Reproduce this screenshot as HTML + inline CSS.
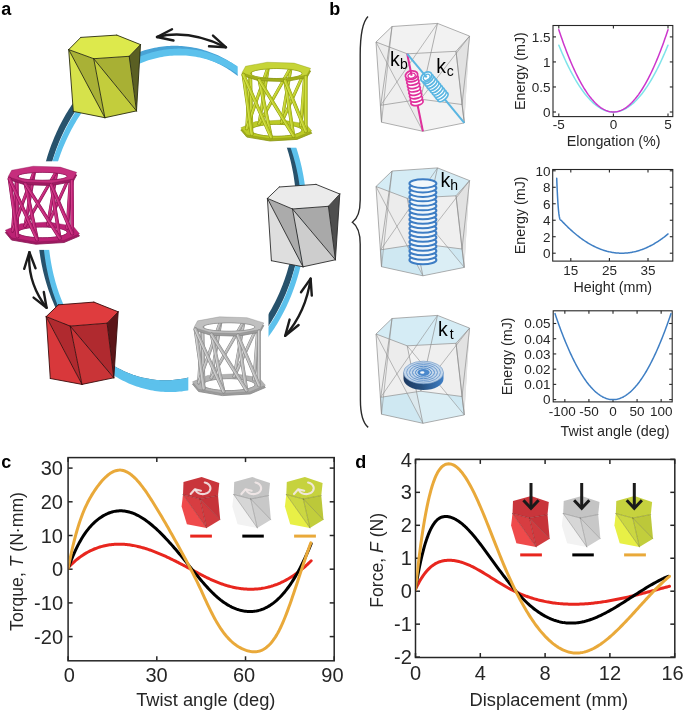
<!DOCTYPE html><html><head><meta charset="utf-8"><title>figure</title><style>html,body{margin:0;padding:0;background:#fff;overflow:hidden}svg{display:block}text{font-family:"Liberation Sans",Arial,sans-serif}</style></head><body>
<svg width="685" height="712" viewBox="0 0 685 712">
<rect width="685" height="712" fill="#fff"/>
<text x="1.3" y="14.7" font-size="18" text-anchor="start" font-weight="bold" fill="#000" >a</text>
<text x="329.3" y="14.7" font-size="18" text-anchor="start" font-weight="bold" fill="#000" >b</text>
<text x="1.2" y="467.7" font-size="18" text-anchor="start" font-weight="bold" fill="#000" >c</text>
<text x="355.2" y="467.5" font-size="18" text-anchor="start" font-weight="bold" fill="#000" >d</text>
<defs><mask id="ringmask" maskUnits="userSpaceOnUse" x="0" y="0" width="685" height="712"><rect width="685" height="712" fill="#fff"/><rect x="237.7" y="0" width="200" height="147.7" fill="#000"/><rect x="0" y="161.3" width="100" height="88.6" fill="#000"/><rect x="188.3" y="300" width="80.2" height="150" fill="#000"/></mask><clipPath id="walltop"><rect x="95" y="0" width="170" height="95"/></clipPath><clipPath id="wallnotop"><path clip-rule="evenodd" d="M0,0 H685 V712 H0 Z M95,0 H265 V95 H95 Z"/></clipPath><clipPath id="wallbot"><rect x="60" y="345" width="250" height="100"/></clipPath></defs>
<g mask="url(#ringmask)">
<path d="M301.83,224.72 L301.63,227.42 L301.4,230.12 L301.14,232.81 L300.84,235.5 L300.51,238.18 L300.15,240.86 L299.75,243.53 L299.33,246.2 L298.87,248.85 L298.38,251.5 L297.86,254.14 L297.3,256.77 L296.72,259.39 L296.1,262 L295.45,264.6 L294.78,267.19 L294.07,269.76 L293.33,272.32 L292.56,274.87 L291.76,277.4 L290.93,279.92 L290.07,282.42 L289.18,284.9 L288.26,287.37 L287.31,289.82 L286.33,292.25 L285.33,294.66 L284.29,297.06 L283.23,299.43 L282.14,301.78 L281.02,304.11 L279.87,306.42 L278.7,308.71 L277.5,310.97 L276.27,313.21 L275.02,315.43 L273.74,317.62 L272.44,319.79 L271.11,321.93 L269.76,324.05 L268.38,326.13 L266.97,328.19 L265.55,330.23 L264.1,332.23 L262.62,334.21 L261.13,336.15 L259.61,338.07 L258.06,339.96 L256.5,341.82 L254.92,343.64 L253.31,345.43 L251.68,347.2 L250.04,348.92 L248.37,350.62 L246.69,352.28 L244.98,353.91 L243.26,355.51 L241.52,357.07 L239.76,358.6 L237.98,360.09 L236.19,361.54 L234.38,362.96 L232.56,364.34 L230.72,365.69 L228.86,367 L226.99,368.27 L225.11,369.5 L223.21,370.7 L221.3,371.86 L219.38,372.98 L217.44,374.06 L215.49,375.1 L213.54,376.1 L211.57,377.06 L209.59,377.99 L207.6,378.87 L205.6,379.71 L203.59,380.51 L201.58,381.28 L199.55,382 L197.52,382.68 L195.48,383.31 L193.44,383.91 L191.39,384.47 L189.33,384.98 L187.27,385.45 L185.21,385.88 L183.14,386.27 L181.07,386.62 L179,386.92 L176.92,387.18 L174.84,387.4 L172.77,387.58 L170.69,387.71 L168.61,387.81 L166.53,387.86 L164.45,387.86 L162.37,387.83 L160.29,387.75 L158.22,387.63 L156.15,387.47 L154.08,387.26 L152.02,387.02 L149.96,386.73 L147.91,386.4 L145.86,386.02 L143.82,385.61 L141.78,385.15 L139.75,384.65 L137.73,384.11 L135.72,383.53 L133.71,382.9 L131.72,382.24 L129.73,381.53 L127.75,380.78 L125.79,379.99 L123.83,379.17 L121.89,378.3 L119.96,377.39 L118.04,376.44 L116.13,375.45 L114.24,374.42 L112.36,373.36 L110.49,372.25 L108.64,371.1 L106.8,369.92 L104.98,368.7 L103.18,367.44 L101.39,366.15 L99.62,364.81 L97.87,363.44 L96.13,362.04 L94.41,360.59 L92.71,359.12 L91.03,357.6 L89.37,356.05 L87.73,354.47 L86.11,352.85 L84.51,351.2 L82.93,349.52 L81.38,347.8 L79.84,346.05 L78.33,344.26 L76.84,342.45 L75.37,340.6 L73.93,338.73 L72.51,336.82 L71.11,334.89 L69.74,332.92 L68.39,330.92 L67.07,328.9 L65.77,326.85 L64.5,324.77 L63.26,322.67 L62.04,320.53 L60.84,318.38 L59.68,316.19 L58.54,313.98 L57.43,311.75 L56.35,309.5 L55.29,307.22 L54.27,304.92 L53.27,302.59 L52.3,300.25 L51.36,297.88 L50.45,295.5 L49.57,293.09 L48.71,290.66 L47.89,288.22 L47.1,285.76 L46.34,283.28 L45.61,280.79 L44.91,278.27 L44.24,275.75 L43.6,273.21 L42.99,270.65 L42.42,268.08 L41.87,265.5 L41.36,262.9 L40.88,260.3 L40.43,257.68 L40.01,255.05 L39.63,252.42 L39.28,249.77 L38.95,247.12 L38.67,244.45 L38.41,241.78 L38.19,239.11 L38,236.43 L37.84,233.74 L37.71,231.05 L37.62,228.35 L37.56,225.66 L37.53,222.96 L37.53,220.25 L37.57,217.55 L37.64,214.85 L37.74,212.14 L37.88,209.44 L38.05,206.74 L38.25,204.04 L38.48,201.34 L38.74,198.65 L39.04,195.96 L39.37,193.28 L39.73,190.6 L40.13,187.93 L40.55,185.26 L41.01,182.61 L41.5,179.96 L42.02,177.32 L42.58,174.69 L43.16,172.07 L43.78,169.46 L44.43,166.86 L45.1,164.27 L45.81,161.7 L46.55,159.14 L47.32,156.59 L48.12,154.06 L48.95,151.54 L49.81,149.04 L50.7,146.56 L51.62,144.09 L52.57,141.64 L53.55,139.21 L54.55,136.8 L55.59,134.4 L56.65,132.03 L57.74,129.68 L58.86,127.35 L60.01,125.04 L61.18,122.75 L62.38,120.49 L63.61,118.25 L64.86,116.03 L66.14,113.84 L67.44,111.67 L68.77,109.53 L70.12,107.41 L71.5,105.33 L72.91,103.27 L74.33,101.23 L75.78,99.23 L77.26,97.25 L78.75,95.31 L80.27,93.39 L81.82,91.5 L83.38,89.64 L84.96,87.82 L86.57,86.03 L88.2,84.26 L89.84,82.54 L91.51,80.84 L93.19,79.18 L94.9,77.55 L96.62,75.95 L98.36,74.39 L100.12,72.86 L101.9,71.37 L103.69,69.92 L105.5,68.5 L107.32,67.12 L109.16,65.77 L111.02,64.46 L112.89,63.19 L114.77,61.96 L116.67,60.76 L118.58,59.6 L120.5,58.48 L122.44,57.4 L124.39,56.36 L126.34,55.36 L128.31,54.4 L130.29,53.47 L132.28,52.59 L134.28,51.75 L136.29,50.95 L138.3,50.18 L140.33,49.46 L142.36,48.78 L144.4,48.15 L146.44,47.55 L148.49,46.99 L150.55,46.48 L152.61,46.01 L154.67,45.58 L156.74,45.19 L158.81,44.84 L160.88,44.54 L162.96,44.28 L165.04,44.06 L167.11,43.88 L169.19,43.75 L171.27,43.65 L173.35,43.6 L175.43,43.6 L177.51,43.63 L179.59,43.71 L181.66,43.83 L183.73,43.99 L185.8,44.2 L187.86,44.44 L189.92,44.73 L191.97,45.06 L194.02,45.44 L196.06,45.85 L198.1,46.31 L200.13,46.81 L202.15,47.35 L204.16,47.93 L206.17,48.56 L208.16,49.22 L210.15,49.93 L212.13,50.68 L214.09,51.47 L216.05,52.29 L217.99,53.16 L219.92,54.07 L221.84,55.02 L223.75,56.01 L225.64,57.04 L227.52,58.1 L229.39,59.21 L231.24,60.36 L233.08,61.54 L234.9,62.76 L236.7,64.02 L238.49,65.31 L240.26,66.65 L242.01,68.02 L243.75,69.42 L245.47,70.87 L247.17,72.34 L248.85,73.86 L250.51,75.41 L252.15,76.99 L253.77,78.61 L255.37,80.26 L256.95,81.94 L258.5,83.66 L260.04,85.41 L261.55,87.2 L263.04,89.01 L264.51,90.86 L265.95,92.73 L267.37,94.64 L268.77,96.57 L270.14,98.54 L271.49,100.54 L272.81,102.56 L274.11,104.61 L275.38,106.69 L276.62,108.79 L277.84,110.93 L279.04,113.08 L280.2,115.27 L281.34,117.48 L282.45,119.71 L283.53,121.96 L284.59,124.24 L285.61,126.54 L286.61,128.87 L287.58,131.21 L288.52,133.58 L289.43,135.96 L290.31,138.37 L291.17,140.8 L291.99,143.24 L292.78,145.7 L293.54,148.18 L294.27,150.67 L294.97,153.19 L295.64,155.71 L296.28,158.25 L296.89,160.81 L297.46,163.38 L298.01,165.96 L298.52,168.56 L299,171.16 L299.45,173.78 L299.87,176.41 L300.25,179.04 L300.6,181.69 L300.93,184.34 L301.21,187.01 L301.47,189.68 L301.69,192.35 L301.88,195.03 L302.04,197.72 L302.17,200.41 L302.26,203.11 L302.32,205.8 L302.35,208.5 L302.35,211.21 L302.31,213.91 L302.24,216.61 L302.14,219.32 L302,222.02 Z M296.01,221.73 L296.14,219.15 L296.24,216.56 L296.3,213.98 L296.34,211.39 L296.34,208.81 L296.32,206.23 L296.26,203.65 L296.17,201.08 L296.05,198.5 L295.9,195.93 L295.72,193.37 L295.5,190.81 L295.26,188.26 L294.98,185.72 L294.68,183.18 L294.34,180.65 L293.97,178.13 L293.58,175.62 L293.15,173.12 L292.69,170.63 L292.2,168.15 L291.68,165.68 L291.13,163.22 L290.55,160.78 L289.94,158.35 L289.3,155.93 L288.63,153.53 L287.94,151.15 L287.21,148.78 L286.45,146.43 L285.67,144.09 L284.86,141.77 L284.02,139.47 L283.15,137.19 L282.25,134.93 L281.32,132.69 L280.37,130.47 L279.39,128.27 L278.39,126.09 L277.35,123.93 L276.29,121.8 L275.21,119.69 L274.09,117.6 L272.96,115.54 L271.79,113.5 L270.6,111.49 L269.39,109.5 L268.15,107.54 L266.89,105.61 L265.61,103.7 L264.3,101.82 L262.96,99.97 L261.61,98.15 L260.23,96.36 L258.83,94.59 L257.41,92.86 L255.96,91.15 L254.5,89.48 L253.01,87.84 L251.5,86.23 L249.98,84.65 L248.43,83.1 L246.86,81.59 L245.28,80.11 L243.67,78.66 L242.05,77.25 L240.41,75.87 L238.76,74.53 L237.08,73.22 L235.39,71.94 L233.68,70.7 L231.96,69.5 L230.22,68.33 L228.47,67.2 L226.71,66.11 L224.92,65.05 L223.13,64.03 L221.32,63.05 L219.5,62.11 L217.67,61.2 L215.82,60.33 L213.97,59.5 L212.1,58.71 L210.23,57.96 L208.34,57.24 L206.44,56.57 L204.54,55.93 L202.62,55.33 L200.7,54.78 L198.77,54.26 L196.83,53.78 L194.89,53.35 L192.94,52.95 L190.99,52.59 L189.03,52.27 L187.06,52 L185.09,51.76 L183.12,51.57 L181.14,51.41 L179.16,51.3 L177.18,51.22 L175.2,51.19 L173.21,51.2 L171.23,51.24 L169.24,51.33 L167.26,51.46 L165.27,51.63 L163.29,51.84 L161.31,52.09 L159.33,52.38 L157.35,52.71 L155.38,53.08 L153.41,53.5 L151.44,53.95 L149.48,54.44 L147.52,54.97 L145.57,55.54 L143.62,56.15 L141.69,56.8 L139.75,57.49 L137.83,58.22 L135.91,58.99 L134.01,59.79 L132.11,60.63 L130.22,61.52 L128.34,62.44 L126.47,63.4 L124.61,64.39 L122.76,65.42 L120.92,66.49 L119.1,67.6 L117.29,68.74 L115.49,69.92 L113.7,71.14 L111.93,72.39 L110.18,73.68 L108.43,75 L106.71,76.36 L105,77.75 L103.3,79.17 L101.62,80.63 L99.96,82.12 L98.31,83.65 L96.69,85.21 L95.08,86.8 L93.49,88.42 L91.92,90.07 L90.36,91.76 L88.83,93.47 L87.32,95.21 L85.83,96.99 L84.35,98.79 L82.9,100.63 L81.47,102.49 L80.07,104.38 L78.68,106.29 L77.32,108.24 L75.98,110.21 L74.66,112.2 L73.37,114.22 L72.1,116.27 L70.86,118.34 L69.63,120.44 L68.44,122.56 L67.27,124.7 L66.12,126.86 L65,129.05 L63.91,131.25 L62.84,133.48 L61.8,135.73 L60.78,138 L59.8,140.29 L58.84,142.59 L57.9,144.92 L57,147.26 L56.12,149.62 L55.27,151.99 L54.45,154.38 L53.66,156.79 L52.89,159.21 L52.16,161.64 L51.45,164.09 L50.77,166.55 L50.13,169.02 L49.51,171.51 L48.92,174 L48.36,176.51 L47.83,179.02 L47.33,181.55 L46.87,184.08 L46.43,186.62 L46.02,189.17 L45.65,191.72 L45.3,194.28 L44.98,196.85 L44.7,199.42 L44.45,201.99 L44.22,204.57 L44.03,207.15 L43.87,209.73 L43.74,212.31 L43.64,214.9 L43.58,217.48 L43.54,220.07 L43.54,222.65 L43.56,225.23 L43.62,227.81 L43.71,230.38 L43.83,232.96 L43.98,235.53 L44.16,238.09 L44.38,240.65 L44.62,243.2 L44.9,245.74 L45.2,248.28 L45.54,250.81 L45.91,253.33 L46.3,255.84 L46.73,258.34 L47.19,260.83 L47.68,263.31 L48.2,265.78 L48.75,268.24 L49.33,270.68 L49.94,273.11 L50.58,275.53 L51.25,277.93 L51.94,280.31 L52.67,282.68 L53.43,285.03 L54.21,287.37 L55.02,289.69 L55.86,291.99 L56.73,294.27 L57.63,296.53 L58.56,298.77 L59.51,300.99 L60.49,303.19 L61.49,305.37 L62.53,307.53 L63.59,309.66 L64.67,311.77 L65.79,313.86 L66.92,315.92 L68.09,317.96 L69.28,319.97 L70.49,321.96 L71.73,323.92 L72.99,325.85 L74.27,327.76 L75.58,329.64 L76.92,331.49 L78.27,333.31 L79.65,335.1 L81.05,336.87 L82.47,338.6 L83.92,340.31 L85.38,341.98 L86.87,343.62 L88.38,345.23 L89.9,346.81 L91.45,348.36 L93.02,349.87 L94.6,351.35 L96.21,352.8 L97.83,354.21 L99.47,355.59 L101.12,356.93 L102.8,358.24 L104.49,359.52 L106.2,360.76 L107.92,361.96 L109.66,363.13 L111.41,364.26 L113.17,365.35 L114.96,366.41 L116.75,367.43 L118.56,368.41 L120.38,369.35 L122.21,370.26 L124.06,371.13 L125.91,371.96 L127.78,372.75 L129.65,373.5 L131.54,374.22 L133.44,374.89 L135.34,375.53 L137.26,376.13 L139.18,376.68 L141.11,377.2 L143.05,377.68 L144.99,378.11 L146.94,378.51 L148.89,378.87 L150.85,379.19 L152.82,379.46 L154.79,379.7 L156.76,379.89 L158.74,380.05 L160.72,380.16 L162.7,380.24 L164.68,380.27 L166.67,380.26 L168.65,380.22 L170.64,380.13 L172.62,380 L174.61,379.83 L176.59,379.62 L178.57,379.37 L180.55,379.08 L182.53,378.75 L184.5,378.38 L186.47,377.96 L188.44,377.51 L190.4,377.02 L192.36,376.49 L194.31,375.92 L196.26,375.31 L198.19,374.66 L200.13,373.97 L202.05,373.24 L203.97,372.47 L205.87,371.67 L207.77,370.83 L209.66,369.94 L211.54,369.02 L213.41,368.06 L215.27,367.07 L217.12,366.04 L218.96,364.97 L220.78,363.86 L222.59,362.72 L224.39,361.54 L226.18,360.32 L227.95,359.07 L229.7,357.78 L231.45,356.46 L233.17,355.1 L234.88,353.71 L236.58,352.29 L238.26,350.83 L239.92,349.34 L241.57,347.81 L243.19,346.25 L244.8,344.66 L246.39,343.04 L247.96,341.39 L249.52,339.7 L251.05,337.99 L252.56,336.25 L254.05,334.47 L255.53,332.67 L256.98,330.83 L258.41,328.97 L259.81,327.08 L261.2,325.17 L262.56,323.22 L263.9,321.25 L265.22,319.26 L266.51,317.24 L267.78,315.19 L269.02,313.12 L270.25,311.02 L271.44,308.9 L272.61,306.76 L273.76,304.6 L274.88,302.41 L275.97,300.21 L277.04,297.98 L278.08,295.73 L279.1,293.46 L280.08,291.17 L281.04,288.87 L281.98,286.54 L282.88,284.2 L283.76,281.84 L284.61,279.47 L285.43,277.08 L286.22,274.67 L286.99,272.25 L287.72,269.82 L288.43,267.37 L289.11,264.91 L289.75,262.44 L290.37,259.95 L290.96,257.46 L291.52,254.95 L292.05,252.44 L292.55,249.91 L293.01,247.38 L293.45,244.84 L293.86,242.29 L294.23,239.74 L294.58,237.18 L294.9,234.61 L295.18,232.04 L295.43,229.47 L295.66,226.89 L295.85,224.31 Z" fill="#27526c" fill-rule="evenodd" clip-path="url(#wallnotop)"/>
<path d="M301.83,226.92 L301.63,229.62 L301.4,232.32 L301.14,235.01 L300.84,237.7 L300.51,240.38 L300.15,243.06 L299.75,245.73 L299.33,248.4 L298.87,251.05 L298.38,253.7 L297.86,256.34 L297.3,258.97 L296.72,261.59 L296.1,264.2 L295.45,266.8 L294.78,269.39 L294.07,271.96 L293.33,274.52 L292.56,277.07 L291.76,279.6 L290.93,282.12 L290.07,284.62 L289.18,287.1 L288.26,289.57 L287.31,292.02 L286.33,294.45 L285.33,296.86 L284.29,299.26 L283.23,301.63 L282.14,303.98 L281.02,306.31 L279.87,308.62 L278.7,310.91 L277.5,313.17 L276.27,315.41 L275.02,317.63 L273.74,319.82 L272.44,321.99 L271.11,324.13 L269.76,326.25 L268.38,328.33 L266.97,330.39 L265.55,332.43 L264.1,334.43 L262.62,336.41 L261.13,338.35 L259.61,340.27 L258.06,342.16 L256.5,344.02 L254.92,345.84 L253.31,347.63 L251.68,349.4 L250.04,351.12 L248.37,352.82 L246.69,354.48 L244.98,356.11 L243.26,357.71 L241.52,359.27 L239.76,360.8 L237.98,362.29 L236.19,363.74 L234.38,365.16 L232.56,366.54 L230.72,367.89 L228.86,369.2 L226.99,370.47 L225.11,371.7 L223.21,372.9 L221.3,374.06 L219.38,375.18 L217.44,376.26 L215.49,377.3 L213.54,378.3 L211.57,379.26 L209.59,380.19 L207.6,381.07 L205.6,381.91 L203.59,382.71 L201.58,383.48 L199.55,384.2 L197.52,384.88 L195.48,385.51 L193.44,386.11 L191.39,386.67 L189.33,387.18 L187.27,387.65 L185.21,388.08 L183.14,388.47 L181.07,388.82 L179,389.12 L176.92,389.38 L174.84,389.6 L172.77,389.78 L170.69,389.91 L168.61,390.01 L166.53,390.06 L164.45,390.06 L162.37,390.03 L160.29,389.95 L158.22,389.83 L156.15,389.67 L154.08,389.46 L152.02,389.22 L149.96,388.93 L147.91,388.6 L145.86,388.22 L143.82,387.81 L141.78,387.35 L139.75,386.85 L137.73,386.31 L135.72,385.73 L133.71,385.1 L131.72,384.44 L129.73,383.73 L127.75,382.98 L125.79,382.19 L123.83,381.37 L121.89,380.5 L119.96,379.59 L118.04,378.64 L116.13,377.65 L114.24,376.62 L112.36,375.56 L110.49,374.45 L108.64,373.3 L106.8,372.12 L104.98,370.9 L103.18,369.64 L101.39,368.35 L99.62,367.01 L97.87,365.64 L96.13,364.24 L94.41,362.79 L92.71,361.32 L91.03,359.8 L89.37,358.25 L87.73,356.67 L86.11,355.05 L84.51,353.4 L82.93,351.72 L81.38,350 L79.84,348.25 L78.33,346.46 L76.84,344.65 L75.37,342.8 L73.93,340.93 L72.51,339.02 L71.11,337.09 L69.74,335.12 L68.39,333.12 L67.07,331.1 L65.77,329.05 L64.5,326.97 L63.26,324.87 L62.04,322.73 L60.84,320.58 L59.68,318.39 L58.54,316.18 L57.43,313.95 L56.35,311.7 L55.29,309.42 L54.27,307.12 L53.27,304.79 L52.3,302.45 L51.36,300.08 L50.45,297.7 L49.57,295.29 L48.71,292.86 L47.89,290.42 L47.1,287.96 L46.34,285.48 L45.61,282.99 L44.91,280.47 L44.24,277.95 L43.6,275.41 L42.99,272.85 L42.42,270.28 L41.87,267.7 L41.36,265.1 L40.88,262.5 L40.43,259.88 L40.01,257.25 L39.63,254.62 L39.28,251.97 L38.95,249.32 L38.67,246.65 L38.41,243.98 L38.19,241.31 L38,238.63 L37.84,235.94 L37.71,233.25 L37.62,230.55 L37.56,227.86 L37.53,225.16 L37.53,222.45 L37.57,219.75 L37.64,217.05 L37.74,214.34 L37.88,211.64 L38.05,208.94 L38.25,206.24 L38.48,203.54 L38.74,200.85 L39.04,198.16 L39.37,195.48 L39.73,192.8 L40.13,190.13 L40.55,187.46 L41.01,184.81 L41.5,182.16 L42.02,179.52 L42.58,176.89 L43.16,174.27 L43.78,171.66 L44.43,169.06 L45.1,166.47 L45.81,163.9 L46.55,161.34 L47.32,158.79 L48.12,156.26 L48.95,153.74 L49.81,151.24 L50.7,148.76 L51.62,146.29 L52.57,143.84 L53.55,141.41 L54.55,139 L55.59,136.6 L56.65,134.23 L57.74,131.88 L58.86,129.55 L60.01,127.24 L61.18,124.95 L62.38,122.69 L63.61,120.45 L64.86,118.23 L66.14,116.04 L67.44,113.87 L68.77,111.73 L70.12,109.61 L71.5,107.53 L72.91,105.47 L74.33,103.43 L75.78,101.43 L77.26,99.45 L78.75,97.51 L80.27,95.59 L81.82,93.7 L83.38,91.84 L84.96,90.02 L86.57,88.23 L88.2,86.46 L89.84,84.74 L91.51,83.04 L93.19,81.38 L94.9,79.75 L96.62,78.15 L98.36,76.59 L100.12,75.06 L101.9,73.57 L103.69,72.12 L105.5,70.7 L107.32,69.32 L109.16,67.97 L111.02,66.66 L112.89,65.39 L114.77,64.16 L116.67,62.96 L118.58,61.8 L120.5,60.68 L122.44,59.6 L124.39,58.56 L126.34,57.56 L128.31,56.6 L130.29,55.67 L132.28,54.79 L134.28,53.95 L136.29,53.15 L138.3,52.38 L140.33,51.66 L142.36,50.98 L144.4,50.35 L146.44,49.75 L148.49,49.19 L150.55,48.68 L152.61,48.21 L154.67,47.78 L156.74,47.39 L158.81,47.04 L160.88,46.74 L162.96,46.48 L165.04,46.26 L167.11,46.08 L169.19,45.95 L171.27,45.85 L173.35,45.8 L175.43,45.8 L177.51,45.83 L179.59,45.91 L181.66,46.03 L183.73,46.19 L185.8,46.4 L187.86,46.64 L189.92,46.93 L191.97,47.26 L194.02,47.64 L196.06,48.05 L198.1,48.51 L200.13,49.01 L202.15,49.55 L204.16,50.13 L206.17,50.76 L208.16,51.42 L210.15,52.13 L212.13,52.88 L214.09,53.67 L216.05,54.49 L217.99,55.36 L219.92,56.27 L221.84,57.22 L223.75,58.21 L225.64,59.24 L227.52,60.3 L229.39,61.41 L231.24,62.56 L233.08,63.74 L234.9,64.96 L236.7,66.22 L238.49,67.51 L240.26,68.85 L242.01,70.22 L243.75,71.62 L245.47,73.07 L247.17,74.54 L248.85,76.06 L250.51,77.61 L252.15,79.19 L253.77,80.81 L255.37,82.46 L256.95,84.14 L258.5,85.86 L260.04,87.61 L261.55,89.4 L263.04,91.21 L264.51,93.06 L265.95,94.93 L267.37,96.84 L268.77,98.77 L270.14,100.74 L271.49,102.74 L272.81,104.76 L274.11,106.81 L275.38,108.89 L276.62,110.99 L277.84,113.13 L279.04,115.28 L280.2,117.47 L281.34,119.68 L282.45,121.91 L283.53,124.16 L284.59,126.44 L285.61,128.74 L286.61,131.07 L287.58,133.41 L288.52,135.78 L289.43,138.16 L290.31,140.57 L291.17,143 L291.99,145.44 L292.78,147.9 L293.54,150.38 L294.27,152.87 L294.97,155.39 L295.64,157.91 L296.28,160.45 L296.89,163.01 L297.46,165.58 L298.01,168.16 L298.52,170.76 L299,173.36 L299.45,175.98 L299.87,178.61 L300.25,181.24 L300.6,183.89 L300.93,186.54 L301.21,189.21 L301.47,191.88 L301.69,194.55 L301.88,197.23 L302.04,199.92 L302.17,202.61 L302.26,205.31 L302.32,208 L302.35,210.7 L302.35,213.41 L302.31,216.11 L302.24,218.81 L302.14,221.52 L302,224.22 Z M296.01,223.93 L296.14,221.35 L296.24,218.76 L296.3,216.18 L296.34,213.59 L296.34,211.01 L296.32,208.43 L296.26,205.85 L296.17,203.28 L296.05,200.7 L295.9,198.13 L295.72,195.57 L295.5,193.01 L295.26,190.46 L294.98,187.92 L294.68,185.38 L294.34,182.85 L293.97,180.33 L293.58,177.82 L293.15,175.32 L292.69,172.83 L292.2,170.35 L291.68,167.88 L291.13,165.42 L290.55,162.98 L289.94,160.55 L289.3,158.13 L288.63,155.73 L287.94,153.35 L287.21,150.98 L286.45,148.63 L285.67,146.29 L284.86,143.97 L284.02,141.67 L283.15,139.39 L282.25,137.13 L281.32,134.89 L280.37,132.67 L279.39,130.47 L278.39,128.29 L277.35,126.13 L276.29,124 L275.21,121.89 L274.09,119.8 L272.96,117.74 L271.79,115.7 L270.6,113.69 L269.39,111.7 L268.15,109.74 L266.89,107.81 L265.61,105.9 L264.3,104.02 L262.96,102.17 L261.61,100.35 L260.23,98.56 L258.83,96.79 L257.41,95.06 L255.96,93.35 L254.5,91.68 L253.01,90.04 L251.5,88.43 L249.98,86.85 L248.43,85.3 L246.86,83.79 L245.28,82.31 L243.67,80.86 L242.05,79.45 L240.41,78.07 L238.76,76.73 L237.08,75.42 L235.39,74.14 L233.68,72.9 L231.96,71.7 L230.22,70.53 L228.47,69.4 L226.71,68.31 L224.92,67.25 L223.13,66.23 L221.32,65.25 L219.5,64.31 L217.67,63.4 L215.82,62.53 L213.97,61.7 L212.1,60.91 L210.23,60.16 L208.34,59.44 L206.44,58.77 L204.54,58.13 L202.62,57.53 L200.7,56.98 L198.77,56.46 L196.83,55.98 L194.89,55.55 L192.94,55.15 L190.99,54.79 L189.03,54.47 L187.06,54.2 L185.09,53.96 L183.12,53.77 L181.14,53.61 L179.16,53.5 L177.18,53.42 L175.2,53.39 L173.21,53.4 L171.23,53.44 L169.24,53.53 L167.26,53.66 L165.27,53.83 L163.29,54.04 L161.31,54.29 L159.33,54.58 L157.35,54.91 L155.38,55.28 L153.41,55.7 L151.44,56.15 L149.48,56.64 L147.52,57.17 L145.57,57.74 L143.62,58.35 L141.69,59 L139.75,59.69 L137.83,60.42 L135.91,61.19 L134.01,61.99 L132.11,62.83 L130.22,63.72 L128.34,64.64 L126.47,65.6 L124.61,66.59 L122.76,67.62 L120.92,68.69 L119.1,69.8 L117.29,70.94 L115.49,72.12 L113.7,73.34 L111.93,74.59 L110.18,75.88 L108.43,77.2 L106.71,78.56 L105,79.95 L103.3,81.37 L101.62,82.83 L99.96,84.32 L98.31,85.85 L96.69,87.41 L95.08,89 L93.49,90.62 L91.92,92.27 L90.36,93.96 L88.83,95.67 L87.32,97.41 L85.83,99.19 L84.35,100.99 L82.9,102.83 L81.47,104.69 L80.07,106.58 L78.68,108.49 L77.32,110.44 L75.98,112.41 L74.66,114.4 L73.37,116.42 L72.1,118.47 L70.86,120.54 L69.63,122.64 L68.44,124.76 L67.27,126.9 L66.12,129.06 L65,131.25 L63.91,133.45 L62.84,135.68 L61.8,137.93 L60.78,140.2 L59.8,142.49 L58.84,144.79 L57.9,147.12 L57,149.46 L56.12,151.82 L55.27,154.19 L54.45,156.58 L53.66,158.99 L52.89,161.41 L52.16,163.84 L51.45,166.29 L50.77,168.75 L50.13,171.22 L49.51,173.71 L48.92,176.2 L48.36,178.71 L47.83,181.22 L47.33,183.75 L46.87,186.28 L46.43,188.82 L46.02,191.37 L45.65,193.92 L45.3,196.48 L44.98,199.05 L44.7,201.62 L44.45,204.19 L44.22,206.77 L44.03,209.35 L43.87,211.93 L43.74,214.51 L43.64,217.1 L43.58,219.68 L43.54,222.27 L43.54,224.85 L43.56,227.43 L43.62,230.01 L43.71,232.58 L43.83,235.16 L43.98,237.73 L44.16,240.29 L44.38,242.85 L44.62,245.4 L44.9,247.94 L45.2,250.48 L45.54,253.01 L45.91,255.53 L46.3,258.04 L46.73,260.54 L47.19,263.03 L47.68,265.51 L48.2,267.98 L48.75,270.44 L49.33,272.88 L49.94,275.31 L50.58,277.73 L51.25,280.13 L51.94,282.51 L52.67,284.88 L53.43,287.23 L54.21,289.57 L55.02,291.89 L55.86,294.19 L56.73,296.47 L57.63,298.73 L58.56,300.97 L59.51,303.19 L60.49,305.39 L61.49,307.57 L62.53,309.73 L63.59,311.86 L64.67,313.97 L65.79,316.06 L66.92,318.12 L68.09,320.16 L69.28,322.17 L70.49,324.16 L71.73,326.12 L72.99,328.05 L74.27,329.96 L75.58,331.84 L76.92,333.69 L78.27,335.51 L79.65,337.3 L81.05,339.07 L82.47,340.8 L83.92,342.51 L85.38,344.18 L86.87,345.82 L88.38,347.43 L89.9,349.01 L91.45,350.56 L93.02,352.07 L94.6,353.55 L96.21,355 L97.83,356.41 L99.47,357.79 L101.12,359.13 L102.8,360.44 L104.49,361.72 L106.2,362.96 L107.92,364.16 L109.66,365.33 L111.41,366.46 L113.17,367.55 L114.96,368.61 L116.75,369.63 L118.56,370.61 L120.38,371.55 L122.21,372.46 L124.06,373.33 L125.91,374.16 L127.78,374.95 L129.65,375.7 L131.54,376.42 L133.44,377.09 L135.34,377.73 L137.26,378.33 L139.18,378.88 L141.11,379.4 L143.05,379.88 L144.99,380.31 L146.94,380.71 L148.89,381.07 L150.85,381.39 L152.82,381.66 L154.79,381.9 L156.76,382.09 L158.74,382.25 L160.72,382.36 L162.7,382.44 L164.68,382.47 L166.67,382.46 L168.65,382.42 L170.64,382.33 L172.62,382.2 L174.61,382.03 L176.59,381.82 L178.57,381.57 L180.55,381.28 L182.53,380.95 L184.5,380.58 L186.47,380.16 L188.44,379.71 L190.4,379.22 L192.36,378.69 L194.31,378.12 L196.26,377.51 L198.19,376.86 L200.13,376.17 L202.05,375.44 L203.97,374.67 L205.87,373.87 L207.77,373.03 L209.66,372.14 L211.54,371.22 L213.41,370.26 L215.27,369.27 L217.12,368.24 L218.96,367.17 L220.78,366.06 L222.59,364.92 L224.39,363.74 L226.18,362.52 L227.95,361.27 L229.7,359.98 L231.45,358.66 L233.17,357.3 L234.88,355.91 L236.58,354.49 L238.26,353.03 L239.92,351.54 L241.57,350.01 L243.19,348.45 L244.8,346.86 L246.39,345.24 L247.96,343.59 L249.52,341.9 L251.05,340.19 L252.56,338.45 L254.05,336.67 L255.53,334.87 L256.98,333.03 L258.41,331.17 L259.81,329.28 L261.2,327.37 L262.56,325.42 L263.9,323.45 L265.22,321.46 L266.51,319.44 L267.78,317.39 L269.02,315.32 L270.25,313.22 L271.44,311.1 L272.61,308.96 L273.76,306.8 L274.88,304.61 L275.97,302.41 L277.04,300.18 L278.08,297.93 L279.1,295.66 L280.08,293.37 L281.04,291.07 L281.98,288.74 L282.88,286.4 L283.76,284.04 L284.61,281.67 L285.43,279.28 L286.22,276.87 L286.99,274.45 L287.72,272.02 L288.43,269.57 L289.11,267.11 L289.75,264.64 L290.37,262.15 L290.96,259.66 L291.52,257.15 L292.05,254.64 L292.55,252.11 L293.01,249.58 L293.45,247.04 L293.86,244.49 L294.23,241.94 L294.58,239.38 L294.9,236.81 L295.18,234.24 L295.43,231.67 L295.66,229.09 L295.85,226.51 Z" fill="#48a3d6" fill-rule="evenodd" clip-path="url(#walltop)"/>
<path d="M301.83,224.72 L301.63,227.42 L301.4,230.12 L301.14,232.81 L300.84,235.5 L300.51,238.18 L300.15,240.86 L299.75,243.53 L299.33,246.2 L298.87,248.85 L298.38,251.5 L297.86,254.14 L297.3,256.77 L296.72,259.39 L296.1,262 L295.45,264.6 L294.78,267.19 L294.07,269.76 L293.33,272.32 L292.56,274.87 L291.76,277.4 L290.93,279.92 L290.07,282.42 L289.18,284.9 L288.26,287.37 L287.31,289.82 L286.33,292.25 L285.33,294.66 L284.29,297.06 L283.23,299.43 L282.14,301.78 L281.02,304.11 L279.87,306.42 L278.7,308.71 L277.5,310.97 L276.27,313.21 L275.02,315.43 L273.74,317.62 L272.44,319.79 L271.11,321.93 L269.76,324.05 L268.38,326.13 L266.97,328.19 L265.55,330.23 L264.1,332.23 L262.62,334.21 L261.13,336.15 L259.61,338.07 L258.06,339.96 L256.5,341.82 L254.92,343.64 L253.31,345.43 L251.68,347.2 L250.04,348.92 L248.37,350.62 L246.69,352.28 L244.98,353.91 L243.26,355.51 L241.52,357.07 L239.76,358.6 L237.98,360.09 L236.19,361.54 L234.38,362.96 L232.56,364.34 L230.72,365.69 L228.86,367 L226.99,368.27 L225.11,369.5 L223.21,370.7 L221.3,371.86 L219.38,372.98 L217.44,374.06 L215.49,375.1 L213.54,376.1 L211.57,377.06 L209.59,377.99 L207.6,378.87 L205.6,379.71 L203.59,380.51 L201.58,381.28 L199.55,382 L197.52,382.68 L195.48,383.31 L193.44,383.91 L191.39,384.47 L189.33,384.98 L187.27,385.45 L185.21,385.88 L183.14,386.27 L181.07,386.62 L179,386.92 L176.92,387.18 L174.84,387.4 L172.77,387.58 L170.69,387.71 L168.61,387.81 L166.53,387.86 L164.45,387.86 L162.37,387.83 L160.29,387.75 L158.22,387.63 L156.15,387.47 L154.08,387.26 L152.02,387.02 L149.96,386.73 L147.91,386.4 L145.86,386.02 L143.82,385.61 L141.78,385.15 L139.75,384.65 L137.73,384.11 L135.72,383.53 L133.71,382.9 L131.72,382.24 L129.73,381.53 L127.75,380.78 L125.79,379.99 L123.83,379.17 L121.89,378.3 L119.96,377.39 L118.04,376.44 L116.13,375.45 L114.24,374.42 L112.36,373.36 L110.49,372.25 L108.64,371.1 L106.8,369.92 L104.98,368.7 L103.18,367.44 L101.39,366.15 L99.62,364.81 L97.87,363.44 L96.13,362.04 L94.41,360.59 L92.71,359.12 L91.03,357.6 L89.37,356.05 L87.73,354.47 L86.11,352.85 L84.51,351.2 L82.93,349.52 L81.38,347.8 L79.84,346.05 L78.33,344.26 L76.84,342.45 L75.37,340.6 L73.93,338.73 L72.51,336.82 L71.11,334.89 L69.74,332.92 L68.39,330.92 L67.07,328.9 L65.77,326.85 L64.5,324.77 L63.26,322.67 L62.04,320.53 L60.84,318.38 L59.68,316.19 L58.54,313.98 L57.43,311.75 L56.35,309.5 L55.29,307.22 L54.27,304.92 L53.27,302.59 L52.3,300.25 L51.36,297.88 L50.45,295.5 L49.57,293.09 L48.71,290.66 L47.89,288.22 L47.1,285.76 L46.34,283.28 L45.61,280.79 L44.91,278.27 L44.24,275.75 L43.6,273.21 L42.99,270.65 L42.42,268.08 L41.87,265.5 L41.36,262.9 L40.88,260.3 L40.43,257.68 L40.01,255.05 L39.63,252.42 L39.28,249.77 L38.95,247.12 L38.67,244.45 L38.41,241.78 L38.19,239.11 L38,236.43 L37.84,233.74 L37.71,231.05 L37.62,228.35 L37.56,225.66 L37.53,222.96 L37.53,220.25 L37.57,217.55 L37.64,214.85 L37.74,212.14 L37.88,209.44 L38.05,206.74 L38.25,204.04 L38.48,201.34 L38.74,198.65 L39.04,195.96 L39.37,193.28 L39.73,190.6 L40.13,187.93 L40.55,185.26 L41.01,182.61 L41.5,179.96 L42.02,177.32 L42.58,174.69 L43.16,172.07 L43.78,169.46 L44.43,166.86 L45.1,164.27 L45.81,161.7 L46.55,159.14 L47.32,156.59 L48.12,154.06 L48.95,151.54 L49.81,149.04 L50.7,146.56 L51.62,144.09 L52.57,141.64 L53.55,139.21 L54.55,136.8 L55.59,134.4 L56.65,132.03 L57.74,129.68 L58.86,127.35 L60.01,125.04 L61.18,122.75 L62.38,120.49 L63.61,118.25 L64.86,116.03 L66.14,113.84 L67.44,111.67 L68.77,109.53 L70.12,107.41 L71.5,105.33 L72.91,103.27 L74.33,101.23 L75.78,99.23 L77.26,97.25 L78.75,95.31 L80.27,93.39 L81.82,91.5 L83.38,89.64 L84.96,87.82 L86.57,86.03 L88.2,84.26 L89.84,82.54 L91.51,80.84 L93.19,79.18 L94.9,77.55 L96.62,75.95 L98.36,74.39 L100.12,72.86 L101.9,71.37 L103.69,69.92 L105.5,68.5 L107.32,67.12 L109.16,65.77 L111.02,64.46 L112.89,63.19 L114.77,61.96 L116.67,60.76 L118.58,59.6 L120.5,58.48 L122.44,57.4 L124.39,56.36 L126.34,55.36 L128.31,54.4 L130.29,53.47 L132.28,52.59 L134.28,51.75 L136.29,50.95 L138.3,50.18 L140.33,49.46 L142.36,48.78 L144.4,48.15 L146.44,47.55 L148.49,46.99 L150.55,46.48 L152.61,46.01 L154.67,45.58 L156.74,45.19 L158.81,44.84 L160.88,44.54 L162.96,44.28 L165.04,44.06 L167.11,43.88 L169.19,43.75 L171.27,43.65 L173.35,43.6 L175.43,43.6 L177.51,43.63 L179.59,43.71 L181.66,43.83 L183.73,43.99 L185.8,44.2 L187.86,44.44 L189.92,44.73 L191.97,45.06 L194.02,45.44 L196.06,45.85 L198.1,46.31 L200.13,46.81 L202.15,47.35 L204.16,47.93 L206.17,48.56 L208.16,49.22 L210.15,49.93 L212.13,50.68 L214.09,51.47 L216.05,52.29 L217.99,53.16 L219.92,54.07 L221.84,55.02 L223.75,56.01 L225.64,57.04 L227.52,58.1 L229.39,59.21 L231.24,60.36 L233.08,61.54 L234.9,62.76 L236.7,64.02 L238.49,65.31 L240.26,66.65 L242.01,68.02 L243.75,69.42 L245.47,70.87 L247.17,72.34 L248.85,73.86 L250.51,75.41 L252.15,76.99 L253.77,78.61 L255.37,80.26 L256.95,81.94 L258.5,83.66 L260.04,85.41 L261.55,87.2 L263.04,89.01 L264.51,90.86 L265.95,92.73 L267.37,94.64 L268.77,96.57 L270.14,98.54 L271.49,100.54 L272.81,102.56 L274.11,104.61 L275.38,106.69 L276.62,108.79 L277.84,110.93 L279.04,113.08 L280.2,115.27 L281.34,117.48 L282.45,119.71 L283.53,121.96 L284.59,124.24 L285.61,126.54 L286.61,128.87 L287.58,131.21 L288.52,133.58 L289.43,135.96 L290.31,138.37 L291.17,140.8 L291.99,143.24 L292.78,145.7 L293.54,148.18 L294.27,150.67 L294.97,153.19 L295.64,155.71 L296.28,158.25 L296.89,160.81 L297.46,163.38 L298.01,165.96 L298.52,168.56 L299,171.16 L299.45,173.78 L299.87,176.41 L300.25,179.04 L300.6,181.69 L300.93,184.34 L301.21,187.01 L301.47,189.68 L301.69,192.35 L301.88,195.03 L302.04,197.72 L302.17,200.41 L302.26,203.11 L302.32,205.8 L302.35,208.5 L302.35,211.21 L302.31,213.91 L302.24,216.61 L302.14,219.32 L302,222.02 Z M296.01,221.73 L296.14,219.15 L296.24,216.56 L296.3,213.98 L296.34,211.39 L296.34,208.81 L296.32,206.23 L296.26,203.65 L296.17,201.08 L296.05,198.5 L295.9,195.93 L295.72,193.37 L295.5,190.81 L295.26,188.26 L294.98,185.72 L294.68,183.18 L294.34,180.65 L293.97,178.13 L293.58,175.62 L293.15,173.12 L292.69,170.63 L292.2,168.15 L291.68,165.68 L291.13,163.22 L290.55,160.78 L289.94,158.35 L289.3,155.93 L288.63,153.53 L287.94,151.15 L287.21,148.78 L286.45,146.43 L285.67,144.09 L284.86,141.77 L284.02,139.47 L283.15,137.19 L282.25,134.93 L281.32,132.69 L280.37,130.47 L279.39,128.27 L278.39,126.09 L277.35,123.93 L276.29,121.8 L275.21,119.69 L274.09,117.6 L272.96,115.54 L271.79,113.5 L270.6,111.49 L269.39,109.5 L268.15,107.54 L266.89,105.61 L265.61,103.7 L264.3,101.82 L262.96,99.97 L261.61,98.15 L260.23,96.36 L258.83,94.59 L257.41,92.86 L255.96,91.15 L254.5,89.48 L253.01,87.84 L251.5,86.23 L249.98,84.65 L248.43,83.1 L246.86,81.59 L245.28,80.11 L243.67,78.66 L242.05,77.25 L240.41,75.87 L238.76,74.53 L237.08,73.22 L235.39,71.94 L233.68,70.7 L231.96,69.5 L230.22,68.33 L228.47,67.2 L226.71,66.11 L224.92,65.05 L223.13,64.03 L221.32,63.05 L219.5,62.11 L217.67,61.2 L215.82,60.33 L213.97,59.5 L212.1,58.71 L210.23,57.96 L208.34,57.24 L206.44,56.57 L204.54,55.93 L202.62,55.33 L200.7,54.78 L198.77,54.26 L196.83,53.78 L194.89,53.35 L192.94,52.95 L190.99,52.59 L189.03,52.27 L187.06,52 L185.09,51.76 L183.12,51.57 L181.14,51.41 L179.16,51.3 L177.18,51.22 L175.2,51.19 L173.21,51.2 L171.23,51.24 L169.24,51.33 L167.26,51.46 L165.27,51.63 L163.29,51.84 L161.31,52.09 L159.33,52.38 L157.35,52.71 L155.38,53.08 L153.41,53.5 L151.44,53.95 L149.48,54.44 L147.52,54.97 L145.57,55.54 L143.62,56.15 L141.69,56.8 L139.75,57.49 L137.83,58.22 L135.91,58.99 L134.01,59.79 L132.11,60.63 L130.22,61.52 L128.34,62.44 L126.47,63.4 L124.61,64.39 L122.76,65.42 L120.92,66.49 L119.1,67.6 L117.29,68.74 L115.49,69.92 L113.7,71.14 L111.93,72.39 L110.18,73.68 L108.43,75 L106.71,76.36 L105,77.75 L103.3,79.17 L101.62,80.63 L99.96,82.12 L98.31,83.65 L96.69,85.21 L95.08,86.8 L93.49,88.42 L91.92,90.07 L90.36,91.76 L88.83,93.47 L87.32,95.21 L85.83,96.99 L84.35,98.79 L82.9,100.63 L81.47,102.49 L80.07,104.38 L78.68,106.29 L77.32,108.24 L75.98,110.21 L74.66,112.2 L73.37,114.22 L72.1,116.27 L70.86,118.34 L69.63,120.44 L68.44,122.56 L67.27,124.7 L66.12,126.86 L65,129.05 L63.91,131.25 L62.84,133.48 L61.8,135.73 L60.78,138 L59.8,140.29 L58.84,142.59 L57.9,144.92 L57,147.26 L56.12,149.62 L55.27,151.99 L54.45,154.38 L53.66,156.79 L52.89,159.21 L52.16,161.64 L51.45,164.09 L50.77,166.55 L50.13,169.02 L49.51,171.51 L48.92,174 L48.36,176.51 L47.83,179.02 L47.33,181.55 L46.87,184.08 L46.43,186.62 L46.02,189.17 L45.65,191.72 L45.3,194.28 L44.98,196.85 L44.7,199.42 L44.45,201.99 L44.22,204.57 L44.03,207.15 L43.87,209.73 L43.74,212.31 L43.64,214.9 L43.58,217.48 L43.54,220.07 L43.54,222.65 L43.56,225.23 L43.62,227.81 L43.71,230.38 L43.83,232.96 L43.98,235.53 L44.16,238.09 L44.38,240.65 L44.62,243.2 L44.9,245.74 L45.2,248.28 L45.54,250.81 L45.91,253.33 L46.3,255.84 L46.73,258.34 L47.19,260.83 L47.68,263.31 L48.2,265.78 L48.75,268.24 L49.33,270.68 L49.94,273.11 L50.58,275.53 L51.25,277.93 L51.94,280.31 L52.67,282.68 L53.43,285.03 L54.21,287.37 L55.02,289.69 L55.86,291.99 L56.73,294.27 L57.63,296.53 L58.56,298.77 L59.51,300.99 L60.49,303.19 L61.49,305.37 L62.53,307.53 L63.59,309.66 L64.67,311.77 L65.79,313.86 L66.92,315.92 L68.09,317.96 L69.28,319.97 L70.49,321.96 L71.73,323.92 L72.99,325.85 L74.27,327.76 L75.58,329.64 L76.92,331.49 L78.27,333.31 L79.65,335.1 L81.05,336.87 L82.47,338.6 L83.92,340.31 L85.38,341.98 L86.87,343.62 L88.38,345.23 L89.9,346.81 L91.45,348.36 L93.02,349.87 L94.6,351.35 L96.21,352.8 L97.83,354.21 L99.47,355.59 L101.12,356.93 L102.8,358.24 L104.49,359.52 L106.2,360.76 L107.92,361.96 L109.66,363.13 L111.41,364.26 L113.17,365.35 L114.96,366.41 L116.75,367.43 L118.56,368.41 L120.38,369.35 L122.21,370.26 L124.06,371.13 L125.91,371.96 L127.78,372.75 L129.65,373.5 L131.54,374.22 L133.44,374.89 L135.34,375.53 L137.26,376.13 L139.18,376.68 L141.11,377.2 L143.05,377.68 L144.99,378.11 L146.94,378.51 L148.89,378.87 L150.85,379.19 L152.82,379.46 L154.79,379.7 L156.76,379.89 L158.74,380.05 L160.72,380.16 L162.7,380.24 L164.68,380.27 L166.67,380.26 L168.65,380.22 L170.64,380.13 L172.62,380 L174.61,379.83 L176.59,379.62 L178.57,379.37 L180.55,379.08 L182.53,378.75 L184.5,378.38 L186.47,377.96 L188.44,377.51 L190.4,377.02 L192.36,376.49 L194.31,375.92 L196.26,375.31 L198.19,374.66 L200.13,373.97 L202.05,373.24 L203.97,372.47 L205.87,371.67 L207.77,370.83 L209.66,369.94 L211.54,369.02 L213.41,368.06 L215.27,367.07 L217.12,366.04 L218.96,364.97 L220.78,363.86 L222.59,362.72 L224.39,361.54 L226.18,360.32 L227.95,359.07 L229.7,357.78 L231.45,356.46 L233.17,355.1 L234.88,353.71 L236.58,352.29 L238.26,350.83 L239.92,349.34 L241.57,347.81 L243.19,346.25 L244.8,344.66 L246.39,343.04 L247.96,341.39 L249.52,339.7 L251.05,337.99 L252.56,336.25 L254.05,334.47 L255.53,332.67 L256.98,330.83 L258.41,328.97 L259.81,327.08 L261.2,325.17 L262.56,323.22 L263.9,321.25 L265.22,319.26 L266.51,317.24 L267.78,315.19 L269.02,313.12 L270.25,311.02 L271.44,308.9 L272.61,306.76 L273.76,304.6 L274.88,302.41 L275.97,300.21 L277.04,297.98 L278.08,295.73 L279.1,293.46 L280.08,291.17 L281.04,288.87 L281.98,286.54 L282.88,284.2 L283.76,281.84 L284.61,279.47 L285.43,277.08 L286.22,274.67 L286.99,272.25 L287.72,269.82 L288.43,267.37 L289.11,264.91 L289.75,262.44 L290.37,259.95 L290.96,257.46 L291.52,254.95 L292.05,252.44 L292.55,249.91 L293.01,247.38 L293.45,244.84 L293.86,242.29 L294.23,239.74 L294.58,237.18 L294.9,234.61 L295.18,232.04 L295.43,229.47 L295.66,226.89 L295.85,224.31 Z" fill="#5cc1ec" fill-rule="evenodd" clip-path="url(#wallbot)"/>
<path d="M306.23,229.29 L306.03,231.99 L305.8,234.68 L305.54,237.36 L305.24,240.05 L304.91,242.72 L304.55,245.39 L304.16,248.06 L303.73,250.72 L303.28,253.37 L302.79,256.01 L302.27,258.65 L301.71,261.27 L301.13,263.89 L300.52,266.49 L299.87,269.08 L299.2,271.66 L298.49,274.23 L297.75,276.79 L296.98,279.33 L296.19,281.85 L295.36,284.36 L294.5,286.86 L293.61,289.34 L292.7,291.8 L291.75,294.24 L290.78,296.67 L289.77,299.08 L288.74,301.46 L287.68,303.83 L286.59,306.18 L285.48,308.5 L284.34,310.81 L283.17,313.09 L281.97,315.35 L280.75,317.58 L279.5,319.79 L278.23,321.98 L276.93,324.14 L275.6,326.28 L274.25,328.39 L272.87,330.47 L271.48,332.53 L270.05,334.56 L268.61,336.56 L267.14,338.53 L265.64,340.47 L264.13,342.38 L262.59,344.27 L261.03,346.12 L259.45,347.94 L257.85,349.73 L256.23,351.49 L254.59,353.21 L252.93,354.9 L251.25,356.56 L249.55,358.19 L247.83,359.78 L246.1,361.34 L244.34,362.86 L242.57,364.35 L240.78,365.8 L238.98,367.21 L237.16,368.59 L235.33,369.94 L233.48,371.24 L231.61,372.51 L229.73,373.74 L227.84,374.94 L225.94,376.09 L224.02,377.21 L222.09,378.29 L220.15,379.33 L218.2,380.33 L216.23,381.29 L214.26,382.21 L212.28,383.09 L210.28,383.93 L208.28,384.73 L206.27,385.49 L204.25,386.21 L202.23,386.89 L200.2,387.52 L198.16,388.12 L196.12,388.67 L194.07,389.19 L192.01,389.66 L189.96,390.09 L187.89,390.47 L185.83,390.82 L183.76,391.12 L181.69,391.38 L179.62,391.6 L177.55,391.78 L175.47,391.91 L173.4,392.01 L171.33,392.06 L169.26,392.06 L167.18,392.03 L165.12,391.95 L163.05,391.83 L160.98,391.67 L158.92,391.47 L156.87,391.22 L154.81,390.93 L152.77,390.6 L150.73,390.23 L148.69,389.81 L146.66,389.36 L144.64,388.86 L142.62,388.32 L140.61,387.74 L138.62,387.11 L136.63,386.45 L134.65,385.75 L132.67,385 L130.71,384.21 L128.76,383.39 L126.83,382.52 L124.9,381.61 L122.99,380.67 L121.09,379.68 L119.2,378.66 L117.32,377.59 L115.46,376.49 L113.62,375.35 L111.79,374.17 L109.97,372.95 L108.17,371.69 L106.39,370.4 L104.63,369.07 L102.88,367.7 L101.15,366.3 L99.43,364.86 L97.74,363.39 L96.07,361.88 L94.41,360.33 L92.77,358.75 L91.16,357.14 L89.56,355.49 L87.99,353.81 L86.44,352.1 L84.91,350.35 L83.4,348.57 L81.91,346.76 L80.45,344.92 L79.01,343.05 L77.59,341.14 L76.2,339.21 L74.83,337.25 L73.49,335.26 L72.17,333.24 L70.88,331.2 L69.61,329.12 L68.37,327.02 L67.16,324.89 L65.97,322.74 L64.81,320.56 L63.67,318.36 L62.57,316.13 L61.49,313.88 L60.43,311.61 L59.41,309.31 L58.42,307 L57.45,304.66 L56.51,302.3 L55.61,299.92 L54.73,297.52 L53.88,295.1 L53.06,292.66 L52.27,290.2 L51.51,287.73 L50.78,285.24 L50.08,282.74 L49.42,280.21 L48.78,277.68 L48.18,275.13 L47.6,272.57 L47.06,269.99 L46.55,267.4 L46.07,264.8 L45.62,262.19 L45.2,259.57 L44.82,256.94 L44.47,254.3 L44.15,251.65 L43.86,248.99 L43.61,246.33 L43.38,243.66 L43.19,240.99 L43.04,238.3 L42.91,235.62 L42.82,232.93 L42.76,230.24 L42.73,227.55 L42.73,224.85 L42.77,222.15 L42.84,219.45 L42.94,216.76 L43.08,214.06 L43.25,211.37 L43.45,208.67 L43.68,205.98 L43.94,203.3 L44.24,200.61 L44.57,197.94 L44.93,195.27 L45.32,192.6 L45.75,189.94 L46.2,187.29 L46.69,184.65 L47.21,182.01 L47.77,179.39 L48.35,176.77 L48.96,174.17 L49.61,171.58 L50.28,169 L50.99,166.43 L51.73,163.87 L52.5,161.33 L53.29,158.81 L54.12,156.3 L54.98,153.8 L55.87,151.32 L56.78,148.86 L57.73,146.42 L58.7,143.99 L59.71,141.58 L60.74,139.2 L61.8,136.83 L62.89,134.48 L64,132.16 L65.14,129.85 L66.31,127.57 L67.51,125.31 L68.73,123.08 L69.98,120.87 L71.25,118.68 L72.55,116.52 L73.88,114.38 L75.23,112.27 L76.61,110.19 L78,108.13 L79.43,106.1 L80.87,104.1 L82.34,102.13 L83.84,100.19 L85.35,98.28 L86.89,96.39 L88.45,94.54 L90.03,92.72 L91.63,90.93 L93.25,89.17 L94.89,87.45 L96.55,85.76 L98.23,84.1 L99.93,82.47 L101.65,80.88 L103.38,79.32 L105.14,77.8 L106.91,76.31 L108.7,74.86 L110.5,73.45 L112.32,72.07 L114.15,70.72 L116,69.42 L117.87,68.15 L119.75,66.92 L121.64,65.72 L123.54,64.57 L125.46,63.45 L127.39,62.37 L129.33,61.33 L131.28,60.33 L133.25,59.37 L135.22,58.45 L137.2,57.57 L139.2,56.73 L141.2,55.93 L143.21,55.17 L145.23,54.45 L147.25,53.77 L149.28,53.14 L151.32,52.54 L153.36,51.99 L155.41,51.47 L157.47,51 L159.52,50.57 L161.59,50.19 L163.65,49.84 L165.72,49.54 L167.79,49.28 L169.86,49.06 L171.93,48.88 L174.01,48.75 L176.08,48.65 L178.15,48.6 L180.22,48.6 L182.3,48.63 L184.36,48.71 L186.43,48.83 L188.5,48.99 L190.56,49.19 L192.61,49.44 L194.67,49.73 L196.71,50.06 L198.75,50.43 L200.79,50.85 L202.82,51.3 L204.84,51.8 L206.86,52.34 L208.87,52.92 L210.86,53.55 L212.85,54.21 L214.83,54.91 L216.81,55.66 L218.77,56.45 L220.72,57.27 L222.65,58.14 L224.58,59.05 L226.49,59.99 L228.39,60.98 L230.28,62 L232.16,63.07 L234.02,64.17 L235.86,65.31 L237.69,66.49 L239.51,67.71 L241.31,68.97 L243.09,70.26 L244.85,71.59 L246.6,72.96 L248.33,74.36 L250.05,75.8 L251.74,77.27 L253.41,78.78 L255.07,80.33 L256.71,81.91 L258.32,83.52 L259.92,85.17 L261.49,86.85 L263.04,88.56 L264.57,90.31 L266.08,92.09 L267.57,93.9 L269.03,95.74 L270.47,97.61 L271.89,99.52 L273.28,101.45 L274.65,103.41 L275.99,105.4 L277.31,107.42 L278.6,109.46 L279.87,111.54 L281.11,113.64 L282.32,115.77 L283.51,117.92 L284.67,120.1 L285.81,122.3 L286.91,124.53 L287.99,126.78 L289.05,129.05 L290.07,131.35 L291.06,133.66 L292.03,136 L292.97,138.36 L293.87,140.74 L294.75,143.14 L295.6,145.56 L296.42,148 L297.21,150.46 L297.97,152.93 L298.7,155.42 L299.4,157.92 L300.06,160.45 L300.7,162.98 L301.3,165.53 L301.88,168.09 L302.42,170.67 L302.93,173.26 L303.41,175.86 L303.86,178.47 L304.28,181.09 L304.66,183.72 L305.01,186.36 L305.33,189.01 L305.62,191.67 L305.87,194.33 L306.1,197 L306.29,199.67 L306.44,202.36 L306.57,205.04 L306.66,207.73 L306.72,210.42 L306.75,213.11 L306.75,215.81 L306.71,218.51 L306.64,221.21 L306.54,223.9 L306.4,226.6 Z M301.21,226.35 L301.34,223.76 L301.44,221.17 L301.5,218.58 L301.54,215.99 L301.54,213.4 L301.52,210.81 L301.46,208.23 L301.37,205.65 L301.25,203.07 L301.1,200.49 L300.91,197.92 L300.7,195.36 L300.45,192.8 L300.18,190.25 L299.87,187.71 L299.53,185.17 L299.16,182.64 L298.77,180.13 L298.33,177.62 L297.87,175.12 L297.38,172.64 L296.86,170.16 L296.31,167.7 L295.73,165.25 L295.12,162.82 L294.48,160.39 L293.81,157.99 L293.11,155.6 L292.38,153.22 L291.62,150.86 L290.83,148.52 L290.02,146.2 L289.17,143.89 L288.3,141.61 L287.4,139.34 L286.47,137.09 L285.52,134.87 L284.53,132.66 L283.52,130.48 L282.49,128.32 L281.42,126.18 L280.33,124.06 L279.22,121.97 L278.08,119.9 L276.91,117.86 L275.72,115.84 L274.5,113.85 L273.26,111.88 L271.99,109.95 L270.7,108.03 L269.39,106.15 L268.05,104.29 L266.69,102.47 L265.31,100.67 L263.9,98.9 L262.48,97.16 L261.03,95.46 L259.56,93.78 L258.07,92.13 L256.55,90.52 L255.02,88.94 L253.47,87.39 L251.9,85.87 L250.31,84.38 L248.7,82.93 L247.07,81.52 L245.43,80.14 L243.77,78.79 L242.09,77.47 L240.39,76.2 L238.68,74.96 L236.95,73.75 L235.21,72.58 L233.45,71.45 L231.68,70.35 L229.89,69.29 L228.09,68.27 L226.28,67.28 L224.45,66.34 L222.61,65.43 L220.76,64.55 L218.9,63.72 L217.03,62.93 L215.14,62.17 L213.25,61.46 L211.35,60.78 L209.44,60.14 L207.52,59.55 L205.59,58.99 L203.65,58.47 L201.71,57.99 L199.76,57.55 L197.81,57.15 L195.84,56.8 L193.88,56.48 L191.91,56.2 L189.93,55.96 L187.95,55.77 L185.97,55.61 L183.98,55.5 L182,55.42 L180.01,55.39 L178.02,55.4 L176.02,55.44 L174.03,55.53 L172.04,55.66 L170.05,55.83 L168.06,56.04 L166.07,56.29 L164.09,56.58 L162.1,56.92 L160.12,57.29 L158.15,57.7 L156.17,58.15 L154.21,58.65 L152.24,59.18 L150.28,59.75 L148.33,60.36 L146.39,61.01 L144.45,61.7 L142.52,62.43 L140.6,63.2 L138.68,64.01 L136.78,64.86 L134.88,65.74 L133,66.66 L131.12,67.62 L129.26,68.62 L127.4,69.66 L125.56,70.73 L123.73,71.84 L121.91,72.98 L120.11,74.17 L118.32,75.39 L116.54,76.64 L114.78,77.93 L113.03,79.26 L111.3,80.62 L109.58,82.01 L107.88,83.44 L106.2,84.9 L104.53,86.4 L102.88,87.92 L101.25,89.49 L99.64,91.08 L98.04,92.7 L96.46,94.36 L94.91,96.05 L93.37,97.77 L91.85,99.52 L90.35,101.3 L88.88,103.1 L87.42,104.94 L85.99,106.81 L84.58,108.7 L83.19,110.62 L81.82,112.57 L80.48,114.54 L79.16,116.55 L77.86,118.57 L76.59,120.62 L75.34,122.7 L74.11,124.8 L72.91,126.92 L71.74,129.07 L70.59,131.24 L69.47,133.43 L68.37,135.64 L67.3,137.88 L66.25,140.13 L65.24,142.41 L64.24,144.7 L63.28,147.01 L62.34,149.34 L61.44,151.69 L60.56,154.05 L59.7,156.43 L58.88,158.83 L58.09,161.24 L57.32,163.67 L56.58,166.11 L55.87,168.56 L55.19,171.03 L54.54,173.5 L53.92,175.99 L53.33,178.5 L52.77,181.01 L52.24,183.53 L51.74,186.06 L51.28,188.6 L50.84,191.14 L50.43,193.7 L50.05,196.26 L49.7,198.82 L49.39,201.39 L49.1,203.97 L48.85,206.55 L48.63,209.13 L48.43,211.72 L48.27,214.31 L48.14,216.9 L48.04,219.49 L47.98,222.08 L47.94,224.67 L47.94,227.26 L47.96,229.85 L48.02,232.43 L48.11,235.01 L48.23,237.59 L48.38,240.17 L48.57,242.74 L48.78,245.3 L49.03,247.86 L49.3,250.41 L49.61,252.95 L49.95,255.49 L50.32,258.02 L50.71,260.53 L51.15,263.04 L51.61,265.54 L52.1,268.02 L52.62,270.5 L53.17,272.96 L53.75,275.41 L54.36,277.84 L55,280.27 L55.67,282.67 L56.37,285.06 L57.1,287.44 L57.86,289.8 L58.65,292.14 L59.46,294.46 L60.31,296.77 L61.18,299.05 L62.08,301.32 L63.01,303.57 L63.96,305.79 L64.95,308 L65.96,310.18 L66.99,312.34 L68.06,314.48 L69.15,316.6 L70.26,318.69 L71.4,320.76 L72.57,322.8 L73.76,324.82 L74.98,326.81 L76.22,328.78 L77.49,330.71 L78.78,332.63 L80.09,334.51 L81.43,336.37 L82.79,338.19 L84.17,339.99 L85.58,341.76 L87,343.5 L88.45,345.2 L89.92,346.88 L91.41,348.53 L92.93,350.14 L94.46,351.72 L96.01,353.27 L97.58,354.79 L99.17,356.28 L100.78,357.73 L102.41,359.14 L104.05,360.52 L105.71,361.87 L107.39,363.19 L109.09,364.46 L110.8,365.7 L112.53,366.91 L114.27,368.08 L116.03,369.21 L117.8,370.31 L119.59,371.37 L121.39,372.39 L123.2,373.38 L125.03,374.32 L126.87,375.23 L128.72,376.11 L130.58,376.94 L132.45,377.73 L134.34,378.49 L136.23,379.2 L138.13,379.88 L140.04,380.52 L141.96,381.11 L143.89,381.67 L145.83,382.19 L147.77,382.67 L149.72,383.11 L151.67,383.51 L153.64,383.86 L155.6,384.18 L157.57,384.46 L159.55,384.7 L161.53,384.89 L163.51,385.05 L165.5,385.16 L167.48,385.24 L169.47,385.27 L171.46,385.26 L173.46,385.22 L175.45,385.13 L177.44,385 L179.43,384.83 L181.42,384.62 L183.41,384.37 L185.39,384.08 L187.38,383.74 L189.36,383.37 L191.33,382.96 L193.31,382.51 L195.27,382.01 L197.24,381.48 L199.2,380.91 L201.15,380.3 L203.09,379.65 L205.03,378.96 L206.96,378.23 L208.88,377.46 L210.8,376.65 L212.7,375.8 L214.6,374.92 L216.48,374 L218.36,373.04 L220.22,372.04 L222.08,371 L223.92,369.93 L225.75,368.82 L227.57,367.68 L229.37,366.49 L231.16,365.27 L232.94,364.02 L234.7,362.73 L236.45,361.4 L238.18,360.04 L239.9,358.65 L241.6,357.22 L243.28,355.76 L244.95,354.26 L246.6,352.74 L248.23,351.17 L249.84,349.58 L251.44,347.96 L253.02,346.3 L254.57,344.61 L256.11,342.89 L257.63,341.14 L259.13,339.36 L260.6,337.56 L262.06,335.72 L263.49,333.85 L264.9,331.96 L266.29,330.04 L267.66,328.09 L269,326.12 L270.32,324.11 L271.62,322.09 L272.89,320.04 L274.14,317.96 L275.37,315.86 L276.57,313.74 L277.74,311.59 L278.89,309.42 L280.01,307.23 L281.11,305.02 L282.18,302.78 L283.23,300.53 L284.24,298.25 L285.24,295.96 L286.2,293.65 L287.14,291.32 L288.04,288.97 L288.92,286.61 L289.78,284.23 L290.6,281.83 L291.39,279.42 L292.16,276.99 L292.9,274.55 L293.61,272.1 L294.29,269.63 L294.94,267.16 L295.56,264.67 L296.15,262.16 L296.71,259.65 L297.24,257.13 L297.74,254.6 L298.2,252.06 L298.64,249.52 L299.05,246.96 L299.43,244.4 L299.78,241.84 L300.09,239.27 L300.38,236.69 L300.63,234.11 L300.85,231.53 L301.05,228.94 Z" fill="#5cc1ec" fill-rule="evenodd"/>
</g>
<path d="M157,37 Q188.5,29 226,47.3" fill="none" stroke="#1b1b1b" stroke-width="2.4" stroke-linecap="round"/>
<path d="M172,29.3 L157,37 L173.5,40.5" fill="none" stroke="#1b1b1b" stroke-width="2.4" stroke-linecap="round" stroke-linejoin="round"/>
<path d="M213,35.6 L226,47.3 L209,46.3" fill="none" stroke="#1b1b1b" stroke-width="2.4" stroke-linecap="round" stroke-linejoin="round"/>
<path d="M29.4,252.2 Q27,282 46.6,307.8" fill="none" stroke="#1b1b1b" stroke-width="2.4" stroke-linecap="round"/>
<path d="M24.2,268.8 L29.4,252.2 L35.5,268.3" fill="none" stroke="#1b1b1b" stroke-width="2.4" stroke-linecap="round" stroke-linejoin="round"/>
<path d="M33.6,297.6 L46.6,307.8 L43.8,292" fill="none" stroke="#1b1b1b" stroke-width="2.4" stroke-linecap="round" stroke-linejoin="round"/>
<path d="M310.6,278.6 Q306,312 285.2,335.8" fill="none" stroke="#1b1b1b" stroke-width="2.4" stroke-linecap="round"/>
<path d="M301,292.3 L310.6,278.6 L311.8,295.6" fill="none" stroke="#1b1b1b" stroke-width="2.4" stroke-linecap="round" stroke-linejoin="round"/>
<path d="M289.6,319.6 L285.2,335.8 L298.6,325" fill="none" stroke="#1b1b1b" stroke-width="2.4" stroke-linecap="round" stroke-linejoin="round"/>
<polygon points="68.7,49.6 73.3,111.4 104.9,117.7" fill="#d6e24b" stroke="none" stroke-width="0" stroke-linejoin="round" />
<polygon points="68.7,49.6 93.7,58.7 104.9,117.7" fill="#a9b136" stroke="none" stroke-width="0" stroke-linejoin="round" />
<polygon points="93.7,58.7 104.9,117.7 136.5,110.9" fill="#c3cd3c" stroke="none" stroke-width="0" stroke-linejoin="round" />
<polygon points="93.7,58.7 129.2,56.3 136.5,110.9" fill="#a8b034" stroke="none" stroke-width="0" stroke-linejoin="round" />
<polygon points="129.2,56.3 140.5,44.6 136.5,110.9" fill="#5a5f23" stroke="none" stroke-width="0" stroke-linejoin="round" />
<polygon points="68.7,49.6 80.8,37.4 116.8,35.1 140.5,44.6 129.2,56.3 93.7,58.7" fill="#dde94c" stroke="none" stroke-width="0" stroke-linejoin="round" />
<line x1="68.7" y1="49.6" x2="80.8" y2="37.4" stroke="#2a2c10" stroke-width="0.9" stroke-linecap="round"/>
<line x1="80.8" y1="37.4" x2="116.8" y2="35.1" stroke="#2a2c10" stroke-width="0.9" stroke-linecap="round"/>
<line x1="116.8" y1="35.1" x2="140.5" y2="44.6" stroke="#2a2c10" stroke-width="0.9" stroke-linecap="round"/>
<line x1="140.5" y1="44.6" x2="129.2" y2="56.3" stroke="#2a2c10" stroke-width="0.9" stroke-linecap="round"/>
<line x1="129.2" y1="56.3" x2="93.7" y2="58.7" stroke="#2a2c10" stroke-width="0.9" stroke-linecap="round"/>
<line x1="93.7" y1="58.7" x2="68.7" y2="49.6" stroke="#2a2c10" stroke-width="0.9" stroke-linecap="round"/>
<line x1="68.7" y1="49.6" x2="73.3" y2="111.4" stroke="#2a2c10" stroke-width="0.9" stroke-linecap="round"/>
<line x1="73.3" y1="111.4" x2="104.9" y2="117.7" stroke="#2a2c10" stroke-width="0.9" stroke-linecap="round"/>
<line x1="104.9" y1="117.7" x2="136.5" y2="110.9" stroke="#2a2c10" stroke-width="0.9" stroke-linecap="round"/>
<line x1="136.5" y1="110.9" x2="140.5" y2="44.6" stroke="#2a2c10" stroke-width="0.9" stroke-linecap="round"/>
<line x1="68.7" y1="49.6" x2="104.9" y2="117.7" stroke="#2a2c10" stroke-width="0.9" stroke-linecap="round"/>
<line x1="93.7" y1="58.7" x2="104.9" y2="117.7" stroke="#2a2c10" stroke-width="0.9" stroke-linecap="round"/>
<line x1="93.7" y1="58.7" x2="136.5" y2="110.9" stroke="#2a2c10" stroke-width="0.9" stroke-linecap="round"/>
<line x1="129.2" y1="56.3" x2="136.5" y2="110.9" stroke="#2a2c10" stroke-width="0.9" stroke-linecap="round"/>
<polygon points="267.4,198.4 271.4,260.7 303,266.8" fill="#dedede" stroke="none" stroke-width="0" stroke-linejoin="round" />
<polygon points="267.4,198.4 292.5,209 303,266.8" fill="#ababab" stroke="none" stroke-width="0" stroke-linejoin="round" />
<polygon points="292.5,209 303,266.8 335.4,259.8" fill="#cdcdcd" stroke="none" stroke-width="0" stroke-linejoin="round" />
<polygon points="292.5,209 328.4,206.3 335.4,259.8" fill="#a9a9a9" stroke="none" stroke-width="0" stroke-linejoin="round" />
<polygon points="328.4,206.3 339.8,194 335.4,259.8" fill="#4e4e4e" stroke="none" stroke-width="0" stroke-linejoin="round" />
<polygon points="267.4,198.4 279.3,187 316.1,184.4 339.8,194 328.4,206.3 292.5,209" fill="#ebebeb" stroke="none" stroke-width="0" stroke-linejoin="round" />
<line x1="267.4" y1="198.4" x2="279.3" y2="187" stroke="#2a2a2a" stroke-width="0.9" stroke-linecap="round"/>
<line x1="279.3" y1="187" x2="316.1" y2="184.4" stroke="#2a2a2a" stroke-width="0.9" stroke-linecap="round"/>
<line x1="316.1" y1="184.4" x2="339.8" y2="194" stroke="#2a2a2a" stroke-width="0.9" stroke-linecap="round"/>
<line x1="339.8" y1="194" x2="328.4" y2="206.3" stroke="#2a2a2a" stroke-width="0.9" stroke-linecap="round"/>
<line x1="328.4" y1="206.3" x2="292.5" y2="209" stroke="#2a2a2a" stroke-width="0.9" stroke-linecap="round"/>
<line x1="292.5" y1="209" x2="267.4" y2="198.4" stroke="#2a2a2a" stroke-width="0.9" stroke-linecap="round"/>
<line x1="267.4" y1="198.4" x2="271.4" y2="260.7" stroke="#2a2a2a" stroke-width="0.9" stroke-linecap="round"/>
<line x1="271.4" y1="260.7" x2="303" y2="266.8" stroke="#2a2a2a" stroke-width="0.9" stroke-linecap="round"/>
<line x1="303" y1="266.8" x2="335.4" y2="259.8" stroke="#2a2a2a" stroke-width="0.9" stroke-linecap="round"/>
<line x1="335.4" y1="259.8" x2="339.8" y2="194" stroke="#2a2a2a" stroke-width="0.9" stroke-linecap="round"/>
<line x1="267.4" y1="198.4" x2="303" y2="266.8" stroke="#2a2a2a" stroke-width="0.9" stroke-linecap="round"/>
<line x1="292.5" y1="209" x2="303" y2="266.8" stroke="#2a2a2a" stroke-width="0.9" stroke-linecap="round"/>
<line x1="292.5" y1="209" x2="335.4" y2="259.8" stroke="#2a2a2a" stroke-width="0.9" stroke-linecap="round"/>
<line x1="328.4" y1="206.3" x2="335.4" y2="259.8" stroke="#2a2a2a" stroke-width="0.9" stroke-linecap="round"/>
<polygon points="46.2,316.6 50.3,378.5 82,384.4" fill="#d8383b" stroke="none" stroke-width="0" stroke-linejoin="round" />
<polygon points="46.2,316.6 70.2,326.1 82,384.4" fill="#b02a2f" stroke="none" stroke-width="0" stroke-linejoin="round" />
<polygon points="70.2,326.1 82,384.4 113.8,377.8" fill="#c93437" stroke="none" stroke-width="0" stroke-linejoin="round" />
<polygon points="70.2,326.1 107.1,323.2 113.8,377.8" fill="#b02a2f" stroke="none" stroke-width="0" stroke-linejoin="round" />
<polygon points="107.1,323.2 118.2,311.8 113.8,377.8" fill="#5c1518" stroke="none" stroke-width="0" stroke-linejoin="round" />
<polygon points="46.2,316.6 58.4,304.8 93.9,302.1 118.2,311.8 107.1,323.2 70.2,326.1" fill="#df3c3e" stroke="none" stroke-width="0" stroke-linejoin="round" />
<line x1="46.2" y1="316.6" x2="58.4" y2="304.8" stroke="#3a0c0c" stroke-width="0.9" stroke-linecap="round"/>
<line x1="58.4" y1="304.8" x2="93.9" y2="302.1" stroke="#3a0c0c" stroke-width="0.9" stroke-linecap="round"/>
<line x1="93.9" y1="302.1" x2="118.2" y2="311.8" stroke="#3a0c0c" stroke-width="0.9" stroke-linecap="round"/>
<line x1="118.2" y1="311.8" x2="107.1" y2="323.2" stroke="#3a0c0c" stroke-width="0.9" stroke-linecap="round"/>
<line x1="107.1" y1="323.2" x2="70.2" y2="326.1" stroke="#3a0c0c" stroke-width="0.9" stroke-linecap="round"/>
<line x1="70.2" y1="326.1" x2="46.2" y2="316.6" stroke="#3a0c0c" stroke-width="0.9" stroke-linecap="round"/>
<line x1="46.2" y1="316.6" x2="50.3" y2="378.5" stroke="#3a0c0c" stroke-width="0.9" stroke-linecap="round"/>
<line x1="50.3" y1="378.5" x2="82" y2="384.4" stroke="#3a0c0c" stroke-width="0.9" stroke-linecap="round"/>
<line x1="82" y1="384.4" x2="113.8" y2="377.8" stroke="#3a0c0c" stroke-width="0.9" stroke-linecap="round"/>
<line x1="113.8" y1="377.8" x2="118.2" y2="311.8" stroke="#3a0c0c" stroke-width="0.9" stroke-linecap="round"/>
<line x1="46.2" y1="316.6" x2="82" y2="384.4" stroke="#3a0c0c" stroke-width="0.9" stroke-linecap="round"/>
<line x1="70.2" y1="326.1" x2="82" y2="384.4" stroke="#3a0c0c" stroke-width="0.9" stroke-linecap="round"/>
<line x1="70.2" y1="326.1" x2="113.8" y2="377.8" stroke="#3a0c0c" stroke-width="0.9" stroke-linecap="round"/>
<line x1="107.1" y1="323.2" x2="113.8" y2="377.8" stroke="#3a0c0c" stroke-width="0.9" stroke-linecap="round"/>
<path d="M311.8,133.25 L296.97,139.4 L270.04,140.98 L246.77,137.06 L240.8,129.95 L255.63,123.8 L282.56,122.22 L305.83,126.14 Z M301.66,129.67 L301.24,129.05 L300.55,128.45 L299.6,127.86 L298.38,127.3 L296.93,126.77 L295.25,126.29 L293.36,125.84 L291.29,125.45 L289.05,125.1 L286.67,124.82 L284.18,124.59 L281.6,124.43 L278.97,124.33 L276.3,124.3 L273.63,124.33 L271,124.43 L268.42,124.59 L265.93,124.82 L263.55,125.1 L261.31,125.45 L259.24,125.84 L257.35,126.29 L255.67,126.77 L254.22,127.3 L253,127.86 L252.05,128.45 L251.36,129.05 L250.94,129.67 L250.8,130.3 L250.94,130.93 L251.36,131.55 L252.05,132.15 L253,132.74 L254.22,133.3 L255.67,133.83 L257.35,134.31 L259.24,134.76 L261.31,135.15 L263.55,135.5 L265.93,135.78 L268.42,136.01 L271,136.17 L273.63,136.27 L276.3,136.3 L278.97,136.27 L281.6,136.17 L284.18,136.01 L286.67,135.78 L289.05,135.5 L291.29,135.15 L293.36,134.76 L295.25,134.31 L296.93,133.83 L298.38,133.3 L299.6,132.74 L300.55,132.15 L301.24,131.55 L301.66,130.93 L301.8,130.3 Z" fill="#a2ae1a" fill-rule="evenodd" stroke="#8a9612" stroke-width="0.8" stroke-linejoin="round"/>
<path d="M311.8,131.05 L296.97,137.2 L270.04,138.78 L246.77,134.86 L240.8,127.75 L255.63,121.6 L282.56,120.02 L305.83,123.94 Z M301.66,129.67 L301.24,129.05 L300.55,128.45 L299.6,127.86 L298.38,127.3 L296.93,126.77 L295.25,126.29 L293.36,125.84 L291.29,125.45 L289.05,125.1 L286.67,124.82 L284.18,124.59 L281.6,124.43 L278.97,124.33 L276.3,124.3 L273.63,124.33 L271,124.43 L268.42,124.59 L265.93,124.82 L263.55,125.1 L261.31,125.45 L259.24,125.84 L257.35,126.29 L255.67,126.77 L254.22,127.3 L253,127.86 L252.05,128.45 L251.36,129.05 L250.94,129.67 L250.8,130.3 L250.94,130.93 L251.36,131.55 L252.05,132.15 L253,132.74 L254.22,133.3 L255.67,133.83 L257.35,134.31 L259.24,134.76 L261.31,135.15 L263.55,135.5 L265.93,135.78 L268.42,136.01 L271,136.17 L273.63,136.27 L276.3,136.3 L278.97,136.27 L281.6,136.17 L284.18,136.01 L286.67,135.78 L289.05,135.5 L291.29,135.15 L293.36,134.76 L295.25,134.31 L296.93,133.83 L298.38,133.3 L299.6,132.74 L300.55,132.15 L301.24,131.55 L301.66,130.93 L301.8,130.3 Z" fill="#bccb26" fill-rule="evenodd" stroke="#8a9612" stroke-width="0.6" stroke-opacity="0.6"/>
<line x1="305.82" y1="76.73" x2="300.86" y2="125.61" stroke="#8a9612" stroke-width="3.195" stroke-linecap="round"/>
<line x1="305.82" y1="76.73" x2="300.86" y2="125.61" stroke="#bccb26" stroke-width="2.295" stroke-linecap="round"/>
<line x1="305.32" y1="76.73" x2="300.36" y2="125.61" stroke="#d8e456" stroke-width="0.8032499999999999" stroke-linecap="round" opacity="0.9"/>
<line x1="250.42" y1="68.8" x2="246.77" y2="128.57" stroke="#8a9612" stroke-width="3.195" stroke-linecap="round"/>
<line x1="250.42" y1="68.8" x2="246.77" y2="128.57" stroke="#bccb26" stroke-width="2.295" stroke-linecap="round"/>
<line x1="249.92" y1="68.8" x2="246.27" y2="128.57" stroke="#d8e456" stroke-width="0.8032499999999999" stroke-linecap="round" opacity="0.9"/>
<line x1="250.42" y1="68.8" x2="251.74" y2="134.09" stroke="#8a9612" stroke-width="3.195" stroke-linecap="round"/>
<line x1="250.42" y1="68.8" x2="251.74" y2="134.09" stroke="#bccb26" stroke-width="2.295" stroke-linecap="round"/>
<line x1="249.92" y1="68.8" x2="251.24" y2="134.09" stroke="#d8e456" stroke-width="0.8032499999999999" stroke-linecap="round" opacity="0.9"/>
<line x1="268.56" y1="65.77" x2="259.1" y2="123.79" stroke="#8a9612" stroke-width="3.195" stroke-linecap="round"/>
<line x1="268.56" y1="65.77" x2="259.1" y2="123.79" stroke="#bccb26" stroke-width="2.295" stroke-linecap="round"/>
<line x1="268.06" y1="65.77" x2="258.6" y2="123.79" stroke="#d8e456" stroke-width="0.8032499999999999" stroke-linecap="round" opacity="0.9"/>
<line x1="268.56" y1="65.77" x2="246.77" y2="128.57" stroke="#8a9612" stroke-width="3.195" stroke-linecap="round"/>
<line x1="268.56" y1="65.77" x2="246.77" y2="128.57" stroke="#bccb26" stroke-width="2.295" stroke-linecap="round"/>
<line x1="268.06" y1="65.77" x2="246.27" y2="128.57" stroke="#d8e456" stroke-width="0.8032499999999999" stroke-linecap="round" opacity="0.9"/>
<line x1="291.24" y1="66.42" x2="281.51" y2="122.56" stroke="#8a9612" stroke-width="3.195" stroke-linecap="round"/>
<line x1="291.24" y1="66.42" x2="281.51" y2="122.56" stroke="#bccb26" stroke-width="2.295" stroke-linecap="round"/>
<line x1="290.74" y1="66.42" x2="281.01" y2="122.56" stroke="#d8e456" stroke-width="0.8032499999999999" stroke-linecap="round" opacity="0.9"/>
<line x1="291.24" y1="66.42" x2="259.1" y2="123.79" stroke="#8a9612" stroke-width="3.195" stroke-linecap="round"/>
<line x1="291.24" y1="66.42" x2="259.1" y2="123.79" stroke="#bccb26" stroke-width="2.295" stroke-linecap="round"/>
<line x1="290.74" y1="66.42" x2="258.6" y2="123.79" stroke="#d8e456" stroke-width="0.8032499999999999" stroke-linecap="round" opacity="0.9"/>
<line x1="305.17" y1="70.37" x2="300.86" y2="125.61" stroke="#8a9612" stroke-width="3.195" stroke-linecap="round"/>
<line x1="305.17" y1="70.37" x2="300.86" y2="125.61" stroke="#bccb26" stroke-width="2.295" stroke-linecap="round"/>
<line x1="304.67" y1="70.37" x2="300.36" y2="125.61" stroke="#d8e456" stroke-width="0.8032499999999999" stroke-linecap="round" opacity="0.9"/>
<line x1="305.17" y1="70.37" x2="281.51" y2="122.56" stroke="#8a9612" stroke-width="3.195" stroke-linecap="round"/>
<line x1="305.17" y1="70.37" x2="281.51" y2="122.56" stroke="#bccb26" stroke-width="2.295" stroke-linecap="round"/>
<line x1="304.67" y1="70.37" x2="281.01" y2="122.56" stroke="#d8e456" stroke-width="0.8032499999999999" stroke-linecap="round" opacity="0.9"/>
<path d="M307.05,77.53 L285.49,81.56 L258.55,80.7 L242.01,75.44 L245.55,68.87 L267.11,64.84 L294.05,65.7 L310.59,70.96 Z M301.96,72.98 L301.54,72.46 L300.84,71.95 L299.87,71.47 L298.64,71 L297.17,70.56 L295.47,70.15 L293.56,69.78 L291.46,69.45 L289.2,69.17 L286.79,68.93 L284.27,68.74 L281.66,68.61 L279,68.53 L276.3,68.5 L273.6,68.53 L270.94,68.61 L268.33,68.74 L265.81,68.93 L263.4,69.17 L261.14,69.45 L259.04,69.78 L257.13,70.15 L255.43,70.56 L253.96,71 L252.73,71.47 L251.76,71.95 L251.06,72.46 L250.64,72.98 L250.5,73.5 L250.64,74.02 L251.06,74.54 L251.76,75.05 L252.73,75.53 L253.96,76 L255.43,76.44 L257.13,76.85 L259.04,77.22 L261.14,77.55 L263.4,77.83 L265.81,78.07 L268.33,78.26 L270.94,78.39 L273.6,78.47 L276.3,78.5 L279,78.47 L281.66,78.39 L284.27,78.26 L286.79,78.07 L289.2,77.83 L291.46,77.55 L293.56,77.22 L295.47,76.85 L297.17,76.44 L298.64,76 L299.87,75.53 L300.84,75.05 L301.54,74.54 L301.96,74.02 L302.1,73.5 Z" fill="#a2ae1a" fill-rule="evenodd" stroke="#8a9612" stroke-width="0.8" stroke-linejoin="round"/>
<path d="M307.05,74.93 L285.49,78.96 L258.55,78.1 L242.01,72.84 L245.55,66.27 L267.11,62.24 L294.05,63.1 L310.59,68.36 Z M301.96,72.98 L301.54,72.46 L300.84,71.95 L299.87,71.47 L298.64,71 L297.17,70.56 L295.47,70.15 L293.56,69.78 L291.46,69.45 L289.2,69.17 L286.79,68.93 L284.27,68.74 L281.66,68.61 L279,68.53 L276.3,68.5 L273.6,68.53 L270.94,68.61 L268.33,68.74 L265.81,68.93 L263.4,69.17 L261.14,69.45 L259.04,69.78 L257.13,70.15 L255.43,70.56 L253.96,71 L252.73,71.47 L251.76,71.95 L251.06,72.46 L250.64,72.98 L250.5,73.5 L250.64,74.02 L251.06,74.54 L251.76,75.05 L252.73,75.53 L253.96,76 L255.43,76.44 L257.13,76.85 L259.04,77.22 L261.14,77.55 L263.4,77.83 L265.81,78.07 L268.33,78.26 L270.94,78.39 L273.6,78.47 L276.3,78.5 L279,78.47 L281.66,78.39 L284.27,78.26 L286.79,78.07 L289.2,77.83 L291.46,77.55 L293.56,77.22 L295.47,76.85 L297.17,76.44 L298.64,76 L299.87,75.53 L300.84,75.05 L301.54,74.54 L301.96,74.02 L302.1,73.5 Z" fill="#c6d437" fill-rule="evenodd" stroke="#8a9612" stroke-width="0.6" stroke-opacity="0.6"/>
<line x1="305.82" y1="76.73" x2="305.83" y2="131.13" stroke="#8a9612" stroke-width="3.6" stroke-linecap="round"/>
<line x1="305.82" y1="76.73" x2="305.83" y2="131.13" stroke="#bccb26" stroke-width="2.7" stroke-linecap="round"/>
<line x1="305.32" y1="76.73" x2="305.33" y2="131.13" stroke="#d8e456" stroke-width="0.945" stroke-linecap="round" opacity="0.9"/>
<line x1="285.12" y1="80.76" x2="293.5" y2="135.91" stroke="#8a9612" stroke-width="3.6" stroke-linecap="round"/>
<line x1="285.12" y1="80.76" x2="293.5" y2="135.91" stroke="#bccb26" stroke-width="2.7" stroke-linecap="round"/>
<line x1="284.62" y1="80.76" x2="293" y2="135.91" stroke="#d8e456" stroke-width="0.945" stroke-linecap="round" opacity="0.9"/>
<line x1="285.12" y1="80.76" x2="305.83" y2="131.13" stroke="#8a9612" stroke-width="3.6" stroke-linecap="round"/>
<line x1="285.12" y1="80.76" x2="305.83" y2="131.13" stroke="#bccb26" stroke-width="2.7" stroke-linecap="round"/>
<line x1="284.62" y1="80.76" x2="305.33" y2="131.13" stroke="#d8e456" stroke-width="0.945" stroke-linecap="round" opacity="0.9"/>
<line x1="259.26" y1="79.9" x2="271.09" y2="137.14" stroke="#8a9612" stroke-width="3.6" stroke-linecap="round"/>
<line x1="259.26" y1="79.9" x2="271.09" y2="137.14" stroke="#bccb26" stroke-width="2.7" stroke-linecap="round"/>
<line x1="258.76" y1="79.9" x2="270.59" y2="137.14" stroke="#d8e456" stroke-width="0.945" stroke-linecap="round" opacity="0.9"/>
<line x1="259.26" y1="79.9" x2="293.5" y2="135.91" stroke="#8a9612" stroke-width="3.6" stroke-linecap="round"/>
<line x1="259.26" y1="79.9" x2="293.5" y2="135.91" stroke="#bccb26" stroke-width="2.7" stroke-linecap="round"/>
<line x1="258.76" y1="79.9" x2="293" y2="135.91" stroke="#d8e456" stroke-width="0.945" stroke-linecap="round" opacity="0.9"/>
<line x1="243.38" y1="74.64" x2="251.74" y2="134.09" stroke="#8a9612" stroke-width="3.6" stroke-linecap="round"/>
<line x1="243.38" y1="74.64" x2="251.74" y2="134.09" stroke="#bccb26" stroke-width="2.7" stroke-linecap="round"/>
<line x1="242.88" y1="74.64" x2="251.24" y2="134.09" stroke="#d8e456" stroke-width="0.945" stroke-linecap="round" opacity="0.9"/>
<line x1="243.38" y1="74.64" x2="271.09" y2="137.14" stroke="#8a9612" stroke-width="3.6" stroke-linecap="round"/>
<line x1="243.38" y1="74.64" x2="271.09" y2="137.14" stroke="#bccb26" stroke-width="2.7" stroke-linecap="round"/>
<line x1="242.88" y1="74.64" x2="270.59" y2="137.14" stroke="#d8e456" stroke-width="0.945" stroke-linecap="round" opacity="0.9"/>
<path d="M265.36,387.53 L250.13,393.96 L222.47,395.61 L198.58,391.51 L192.44,384.07 L207.67,377.64 L235.33,375.99 L259.22,380.09 Z M254.76,383.97 L254.33,383.35 L253.63,382.75 L252.65,382.16 L251.42,381.6 L249.93,381.07 L248.22,380.59 L246.3,380.14 L244.18,379.75 L241.9,379.4 L239.48,379.12 L236.93,378.89 L234.31,378.73 L231.62,378.63 L228.9,378.6 L226.18,378.63 L223.49,378.73 L220.87,378.89 L218.32,379.12 L215.9,379.4 L213.62,379.75 L211.5,380.14 L209.58,380.59 L207.87,381.07 L206.38,381.6 L205.15,382.16 L204.17,382.75 L203.47,383.35 L203.04,383.97 L202.9,384.6 L203.04,385.23 L203.47,385.85 L204.17,386.45 L205.15,387.04 L206.38,387.6 L207.87,388.13 L209.58,388.61 L211.5,389.06 L213.62,389.45 L215.9,389.8 L218.32,390.08 L220.87,390.31 L223.49,390.47 L226.18,390.57 L228.9,390.6 L231.62,390.57 L234.31,390.47 L236.93,390.31 L239.48,390.08 L241.9,389.8 L244.18,389.45 L246.3,389.06 L248.22,388.61 L249.93,388.13 L251.42,387.6 L252.65,387.04 L253.63,386.45 L254.33,385.85 L254.76,385.23 L254.9,384.6 Z" fill="#9c9c9c" fill-rule="evenodd" stroke="#858585" stroke-width="0.8" stroke-linejoin="round"/>
<path d="M265.36,385.33 L250.13,391.76 L222.47,393.41 L198.58,389.31 L192.44,381.87 L207.67,375.44 L235.33,373.79 L259.22,377.89 Z M254.76,383.97 L254.33,383.35 L253.63,382.75 L252.65,382.16 L251.42,381.6 L249.93,381.07 L248.22,380.59 L246.3,380.14 L244.18,379.75 L241.9,379.4 L239.48,379.12 L236.93,378.89 L234.31,378.73 L231.62,378.63 L228.9,378.6 L226.18,378.63 L223.49,378.73 L220.87,378.89 L218.32,379.12 L215.9,379.4 L213.62,379.75 L211.5,380.14 L209.58,380.59 L207.87,381.07 L206.38,381.6 L205.15,382.16 L204.17,382.75 L203.47,383.35 L203.04,383.97 L202.9,384.6 L203.04,385.23 L203.47,385.85 L204.17,386.45 L205.15,387.04 L206.38,387.6 L207.87,388.13 L209.58,388.61 L211.5,389.06 L213.62,389.45 L215.9,389.8 L218.32,390.08 L220.87,390.31 L223.49,390.47 L226.18,390.57 L228.9,390.6 L231.62,390.57 L234.31,390.47 L236.93,390.31 L239.48,390.08 L241.9,389.8 L244.18,389.45 L246.3,389.06 L248.22,388.61 L249.93,388.13 L251.42,387.6 L252.65,387.04 L253.63,386.45 L254.33,385.85 L254.76,385.23 L254.9,384.6 Z" fill="#b2b2b2" fill-rule="evenodd" stroke="#858585" stroke-width="0.6" stroke-opacity="0.6"/>
<line x1="258.96" y1="331.33" x2="254.05" y2="379.74" stroke="#858585" stroke-width="3.195" stroke-linecap="round"/>
<line x1="258.96" y1="331.33" x2="254.05" y2="379.74" stroke="#b2b2b2" stroke-width="2.295" stroke-linecap="round"/>
<line x1="258.46" y1="331.33" x2="253.55" y2="379.74" stroke="#d9d9d9" stroke-width="0.8032499999999999" stroke-linecap="round" opacity="0.9"/>
<line x1="202.66" y1="323.03" x2="198.66" y2="382.78" stroke="#858585" stroke-width="3.195" stroke-linecap="round"/>
<line x1="202.66" y1="323.03" x2="198.66" y2="382.78" stroke="#b2b2b2" stroke-width="2.295" stroke-linecap="round"/>
<line x1="202.16" y1="323.03" x2="198.16" y2="382.78" stroke="#d9d9d9" stroke-width="0.8032499999999999" stroke-linecap="round" opacity="0.9"/>
<line x1="202.66" y1="323.03" x2="203.75" y2="388.46" stroke="#858585" stroke-width="3.195" stroke-linecap="round"/>
<line x1="202.66" y1="323.03" x2="203.75" y2="388.46" stroke="#b2b2b2" stroke-width="2.295" stroke-linecap="round"/>
<line x1="202.16" y1="323.03" x2="203.25" y2="388.46" stroke="#d9d9d9" stroke-width="0.8032499999999999" stroke-linecap="round" opacity="0.9"/>
<line x1="221.06" y1="320.16" x2="211.29" y2="377.87" stroke="#858585" stroke-width="3.195" stroke-linecap="round"/>
<line x1="221.06" y1="320.16" x2="211.29" y2="377.87" stroke="#b2b2b2" stroke-width="2.295" stroke-linecap="round"/>
<line x1="220.56" y1="320.16" x2="210.79" y2="377.87" stroke="#d9d9d9" stroke-width="0.8032499999999999" stroke-linecap="round" opacity="0.9"/>
<line x1="221.06" y1="320.16" x2="198.66" y2="382.78" stroke="#858585" stroke-width="3.195" stroke-linecap="round"/>
<line x1="221.06" y1="320.16" x2="198.66" y2="382.78" stroke="#b2b2b2" stroke-width="2.295" stroke-linecap="round"/>
<line x1="220.56" y1="320.16" x2="198.16" y2="382.78" stroke="#d9d9d9" stroke-width="0.8032499999999999" stroke-linecap="round" opacity="0.9"/>
<line x1="244.05" y1="320.77" x2="234.23" y2="376.62" stroke="#858585" stroke-width="3.195" stroke-linecap="round"/>
<line x1="244.05" y1="320.77" x2="234.23" y2="376.62" stroke="#b2b2b2" stroke-width="2.295" stroke-linecap="round"/>
<line x1="243.55" y1="320.77" x2="233.73" y2="376.62" stroke="#d9d9d9" stroke-width="0.8032499999999999" stroke-linecap="round" opacity="0.9"/>
<line x1="244.05" y1="320.77" x2="211.29" y2="377.87" stroke="#858585" stroke-width="3.195" stroke-linecap="round"/>
<line x1="244.05" y1="320.77" x2="211.29" y2="377.87" stroke="#b2b2b2" stroke-width="2.295" stroke-linecap="round"/>
<line x1="243.55" y1="320.77" x2="210.79" y2="377.87" stroke="#d9d9d9" stroke-width="0.8032499999999999" stroke-linecap="round" opacity="0.9"/>
<line x1="258.16" y1="324.51" x2="254.05" y2="379.74" stroke="#858585" stroke-width="3.195" stroke-linecap="round"/>
<line x1="258.16" y1="324.51" x2="254.05" y2="379.74" stroke="#b2b2b2" stroke-width="2.295" stroke-linecap="round"/>
<line x1="257.66" y1="324.51" x2="253.55" y2="379.74" stroke="#d9d9d9" stroke-width="0.8032499999999999" stroke-linecap="round" opacity="0.9"/>
<line x1="258.16" y1="324.51" x2="234.23" y2="376.62" stroke="#858585" stroke-width="3.195" stroke-linecap="round"/>
<line x1="258.16" y1="324.51" x2="234.23" y2="376.62" stroke="#b2b2b2" stroke-width="2.295" stroke-linecap="round"/>
<line x1="257.66" y1="324.51" x2="233.73" y2="376.62" stroke="#d9d9d9" stroke-width="0.8032499999999999" stroke-linecap="round" opacity="0.9"/>
<path d="M260.21,332.13 L238.26,336.16 L210.82,335.3 L193.98,330.04 L197.59,323.47 L219.54,319.44 L246.98,320.3 L263.82,325.56 Z M254.76,326.55 L254.33,326.11 L253.63,325.67 L252.65,325.25 L251.42,324.85 L249.93,324.47 L248.22,324.12 L246.3,323.8 L244.18,323.52 L241.9,323.28 L239.48,323.07 L236.93,322.91 L234.31,322.79 L231.62,322.72 L228.9,322.7 L226.18,322.72 L223.49,322.79 L220.87,322.91 L218.32,323.07 L215.9,323.28 L213.62,323.52 L211.5,323.8 L209.58,324.12 L207.87,324.47 L206.38,324.85 L205.15,325.25 L204.17,325.67 L203.47,326.11 L203.04,326.55 L202.9,327 L203.04,327.45 L203.47,327.89 L204.17,328.33 L205.15,328.75 L206.38,329.15 L207.87,329.53 L209.58,329.88 L211.5,330.2 L213.62,330.48 L215.9,330.72 L218.32,330.93 L220.87,331.09 L223.49,331.21 L226.18,331.28 L228.9,331.3 L231.62,331.28 L234.31,331.21 L236.93,331.09 L239.48,330.93 L241.9,330.72 L244.18,330.48 L246.3,330.2 L248.22,329.88 L249.93,329.53 L251.42,329.15 L252.65,328.75 L253.63,328.33 L254.33,327.89 L254.76,327.45 L254.9,327 Z" fill="#9c9c9c" fill-rule="evenodd" stroke="#858585" stroke-width="0.8" stroke-linejoin="round"/>
<path d="M260.21,329.53 L238.26,333.56 L210.82,332.7 L193.98,327.44 L197.59,320.87 L219.54,316.84 L246.98,317.7 L263.82,322.96 Z M254.76,326.55 L254.33,326.11 L253.63,325.67 L252.65,325.25 L251.42,324.85 L249.93,324.47 L248.22,324.12 L246.3,323.8 L244.18,323.52 L241.9,323.28 L239.48,323.07 L236.93,322.91 L234.31,322.79 L231.62,322.72 L228.9,322.7 L226.18,322.72 L223.49,322.79 L220.87,322.91 L218.32,323.07 L215.9,323.28 L213.62,323.52 L211.5,323.8 L209.58,324.12 L207.87,324.47 L206.38,324.85 L205.15,325.25 L204.17,325.67 L203.47,326.11 L203.04,326.55 L202.9,327 L203.04,327.45 L203.47,327.89 L204.17,328.33 L205.15,328.75 L206.38,329.15 L207.87,329.53 L209.58,329.88 L211.5,330.2 L213.62,330.48 L215.9,330.72 L218.32,330.93 L220.87,331.09 L223.49,331.21 L226.18,331.28 L228.9,331.3 L231.62,331.28 L234.31,331.21 L236.93,331.09 L239.48,330.93 L241.9,330.72 L244.18,330.48 L246.3,330.2 L248.22,329.88 L249.93,329.53 L251.42,329.15 L252.65,328.75 L253.63,328.33 L254.33,327.89 L254.76,327.45 L254.9,327 Z" fill="#c0c0c0" fill-rule="evenodd" stroke="#858585" stroke-width="0.6" stroke-opacity="0.6"/>
<line x1="258.96" y1="331.33" x2="259.14" y2="385.42" stroke="#858585" stroke-width="3.6" stroke-linecap="round"/>
<line x1="258.96" y1="331.33" x2="259.14" y2="385.42" stroke="#b2b2b2" stroke-width="2.7" stroke-linecap="round"/>
<line x1="258.46" y1="331.33" x2="258.64" y2="385.42" stroke="#d9d9d9" stroke-width="0.945" stroke-linecap="round" opacity="0.9"/>
<line x1="237.88" y1="335.36" x2="246.51" y2="390.33" stroke="#858585" stroke-width="3.6" stroke-linecap="round"/>
<line x1="237.88" y1="335.36" x2="246.51" y2="390.33" stroke="#b2b2b2" stroke-width="2.7" stroke-linecap="round"/>
<line x1="237.38" y1="335.36" x2="246.01" y2="390.33" stroke="#d9d9d9" stroke-width="0.945" stroke-linecap="round" opacity="0.9"/>
<line x1="237.88" y1="335.36" x2="259.14" y2="385.42" stroke="#858585" stroke-width="3.6" stroke-linecap="round"/>
<line x1="237.88" y1="335.36" x2="259.14" y2="385.42" stroke="#b2b2b2" stroke-width="2.7" stroke-linecap="round"/>
<line x1="237.38" y1="335.36" x2="258.64" y2="385.42" stroke="#d9d9d9" stroke-width="0.945" stroke-linecap="round" opacity="0.9"/>
<line x1="211.55" y1="334.5" x2="223.57" y2="391.58" stroke="#858585" stroke-width="3.6" stroke-linecap="round"/>
<line x1="211.55" y1="334.5" x2="223.57" y2="391.58" stroke="#b2b2b2" stroke-width="2.7" stroke-linecap="round"/>
<line x1="211.05" y1="334.5" x2="223.07" y2="391.58" stroke="#d9d9d9" stroke-width="0.945" stroke-linecap="round" opacity="0.9"/>
<line x1="211.55" y1="334.5" x2="246.51" y2="390.33" stroke="#858585" stroke-width="3.6" stroke-linecap="round"/>
<line x1="211.55" y1="334.5" x2="246.51" y2="390.33" stroke="#b2b2b2" stroke-width="2.7" stroke-linecap="round"/>
<line x1="211.05" y1="334.5" x2="246.01" y2="390.33" stroke="#d9d9d9" stroke-width="0.945" stroke-linecap="round" opacity="0.9"/>
<line x1="195.38" y1="329.24" x2="203.75" y2="388.46" stroke="#858585" stroke-width="3.6" stroke-linecap="round"/>
<line x1="195.38" y1="329.24" x2="203.75" y2="388.46" stroke="#b2b2b2" stroke-width="2.7" stroke-linecap="round"/>
<line x1="194.88" y1="329.24" x2="203.25" y2="388.46" stroke="#d9d9d9" stroke-width="0.945" stroke-linecap="round" opacity="0.9"/>
<line x1="195.38" y1="329.24" x2="223.57" y2="391.58" stroke="#858585" stroke-width="3.6" stroke-linecap="round"/>
<line x1="195.38" y1="329.24" x2="223.57" y2="391.58" stroke="#b2b2b2" stroke-width="2.7" stroke-linecap="round"/>
<line x1="194.88" y1="329.24" x2="223.07" y2="391.58" stroke="#d9d9d9" stroke-width="0.945" stroke-linecap="round" opacity="0.9"/>
<path d="M79.49,235.97 L64.01,242.53 L35.86,244.22 L11.54,240.04 L5.31,232.43 L20.79,225.87 L48.94,224.18 L73.26,228.36 Z M66.96,231.84 L66.56,231.28 L65.89,230.73 L64.96,230.2 L63.79,229.7 L62.38,229.23 L60.76,228.79 L58.93,228.39 L56.92,228.03 L54.75,227.72 L52.45,227.47 L50.03,227.26 L47.54,227.12 L44.98,227.03 L42.4,227 L39.82,227.03 L37.26,227.12 L34.77,227.26 L32.35,227.47 L30.05,227.72 L27.88,228.03 L25.87,228.39 L24.04,228.79 L22.42,229.23 L21.01,229.7 L19.84,230.2 L18.91,230.73 L18.24,231.28 L17.84,231.84 L17.7,232.4 L17.84,232.96 L18.24,233.52 L18.91,234.07 L19.84,234.6 L21.01,235.1 L22.42,235.57 L24.04,236.01 L25.87,236.41 L27.88,236.77 L30.05,237.08 L32.35,237.33 L34.77,237.54 L37.26,237.68 L39.82,237.77 L42.4,237.8 L44.98,237.77 L47.54,237.68 L50.03,237.54 L52.45,237.33 L54.75,237.08 L56.92,236.77 L58.93,236.41 L60.76,236.01 L62.38,235.57 L63.79,235.1 L64.96,234.6 L65.89,234.07 L66.56,233.52 L66.96,232.96 L67.1,232.4 Z" fill="#a01a62" fill-rule="evenodd" stroke="#861453" stroke-width="0.8" stroke-linejoin="round"/>
<path d="M79.49,233.77 L64.01,240.33 L35.86,242.02 L11.54,237.84 L5.31,230.23 L20.79,223.67 L48.94,221.98 L73.26,226.16 Z M66.96,231.84 L66.56,231.28 L65.89,230.73 L64.96,230.2 L63.79,229.7 L62.38,229.23 L60.76,228.79 L58.93,228.39 L56.92,228.03 L54.75,227.72 L52.45,227.47 L50.03,227.26 L47.54,227.12 L44.98,227.03 L42.4,227 L39.82,227.03 L37.26,227.12 L34.77,227.26 L32.35,227.47 L30.05,227.72 L27.88,228.03 L25.87,228.39 L24.04,228.79 L22.42,229.23 L21.01,229.7 L19.84,230.2 L18.91,230.73 L18.24,231.28 L17.84,231.84 L17.7,232.4 L17.84,232.96 L18.24,233.52 L18.91,234.07 L19.84,234.6 L21.01,235.1 L22.42,235.57 L24.04,236.01 L25.87,236.41 L27.88,236.77 L30.05,237.08 L32.35,237.33 L34.77,237.54 L37.26,237.68 L39.82,237.77 L42.4,237.8 L44.98,237.77 L47.54,237.68 L50.03,237.54 L52.45,237.33 L54.75,237.08 L56.92,236.77 L58.93,236.41 L60.76,236.01 L62.38,235.57 L63.79,235.1 L64.96,234.6 L65.89,234.07 L66.56,233.52 L66.96,232.96 L67.1,232.4 Z" fill="#bc2174" fill-rule="evenodd" stroke="#861453" stroke-width="0.6" stroke-opacity="0.6"/>
<line x1="71.92" y1="180.73" x2="67.26" y2="227.96" stroke="#861453" stroke-width="3.195" stroke-linecap="round"/>
<line x1="71.92" y1="180.73" x2="67.26" y2="227.96" stroke="#bc2174" stroke-width="2.295" stroke-linecap="round"/>
<line x1="71.42" y1="180.73" x2="66.76" y2="227.96" stroke="#d8468f" stroke-width="0.8032499999999999" stroke-linecap="round" opacity="0.9"/>
<line x1="17" y1="172.45" x2="12.52" y2="230.92" stroke="#861453" stroke-width="3.195" stroke-linecap="round"/>
<line x1="17" y1="172.45" x2="12.52" y2="230.92" stroke="#bc2174" stroke-width="2.295" stroke-linecap="round"/>
<line x1="16.5" y1="172.45" x2="12.02" y2="230.92" stroke="#d8468f" stroke-width="0.8032499999999999" stroke-linecap="round" opacity="0.9"/>
<line x1="17" y1="172.45" x2="17.54" y2="236.44" stroke="#861453" stroke-width="3.195" stroke-linecap="round"/>
<line x1="17" y1="172.45" x2="17.54" y2="236.44" stroke="#bc2174" stroke-width="2.295" stroke-linecap="round"/>
<line x1="16.5" y1="172.45" x2="17.04" y2="236.44" stroke="#d8468f" stroke-width="0.8032499999999999" stroke-linecap="round" opacity="0.9"/>
<line x1="34.81" y1="169.65" x2="24.99" y2="226.14" stroke="#861453" stroke-width="3.195" stroke-linecap="round"/>
<line x1="34.81" y1="169.65" x2="24.99" y2="226.14" stroke="#bc2174" stroke-width="2.295" stroke-linecap="round"/>
<line x1="34.31" y1="169.65" x2="24.49" y2="226.14" stroke="#d8468f" stroke-width="0.8032499999999999" stroke-linecap="round" opacity="0.9"/>
<line x1="34.81" y1="169.65" x2="12.52" y2="230.92" stroke="#861453" stroke-width="3.195" stroke-linecap="round"/>
<line x1="34.81" y1="169.65" x2="12.52" y2="230.92" stroke="#bc2174" stroke-width="2.295" stroke-linecap="round"/>
<line x1="34.31" y1="169.65" x2="12.02" y2="230.92" stroke="#d8468f" stroke-width="0.8032499999999999" stroke-linecap="round" opacity="0.9"/>
<line x1="57.06" y1="170.25" x2="47.67" y2="224.91" stroke="#861453" stroke-width="3.195" stroke-linecap="round"/>
<line x1="57.06" y1="170.25" x2="47.67" y2="224.91" stroke="#bc2174" stroke-width="2.295" stroke-linecap="round"/>
<line x1="56.56" y1="170.25" x2="47.17" y2="224.91" stroke="#d8468f" stroke-width="0.8032499999999999" stroke-linecap="round" opacity="0.9"/>
<line x1="57.06" y1="170.25" x2="24.99" y2="226.14" stroke="#861453" stroke-width="3.195" stroke-linecap="round"/>
<line x1="57.06" y1="170.25" x2="24.99" y2="226.14" stroke="#bc2174" stroke-width="2.295" stroke-linecap="round"/>
<line x1="56.56" y1="170.25" x2="24.49" y2="226.14" stroke="#d8468f" stroke-width="0.8032499999999999" stroke-linecap="round" opacity="0.9"/>
<line x1="70.73" y1="173.9" x2="67.26" y2="227.96" stroke="#861453" stroke-width="3.195" stroke-linecap="round"/>
<line x1="70.73" y1="173.9" x2="67.26" y2="227.96" stroke="#bc2174" stroke-width="2.295" stroke-linecap="round"/>
<line x1="70.23" y1="173.9" x2="66.76" y2="227.96" stroke="#d8468f" stroke-width="0.8032499999999999" stroke-linecap="round" opacity="0.9"/>
<line x1="70.73" y1="173.9" x2="47.67" y2="224.91" stroke="#861453" stroke-width="3.195" stroke-linecap="round"/>
<line x1="70.73" y1="173.9" x2="47.67" y2="224.91" stroke="#bc2174" stroke-width="2.295" stroke-linecap="round"/>
<line x1="70.23" y1="173.9" x2="47.17" y2="224.91" stroke="#d8468f" stroke-width="0.8032499999999999" stroke-linecap="round" opacity="0.9"/>
<path d="M73.15,181.53 L51.59,185.56 L24.65,184.7 L8.11,179.44 L11.65,172.87 L33.21,168.84 L60.15,169.7 L76.69,174.96 Z M66.96,175.88 L66.56,175.47 L65.89,175.06 L64.96,174.67 L63.79,174.3 L62.38,173.95 L60.76,173.62 L58.93,173.33 L56.92,173.06 L54.75,172.84 L52.45,172.65 L50.03,172.5 L47.54,172.39 L44.98,172.32 L42.4,172.3 L39.82,172.32 L37.26,172.39 L34.77,172.5 L32.35,172.65 L30.05,172.84 L27.88,173.06 L25.87,173.33 L24.04,173.62 L22.42,173.95 L21.01,174.3 L19.84,174.67 L18.91,175.06 L18.24,175.47 L17.84,175.88 L17.7,176.3 L17.84,176.72 L18.24,177.13 L18.91,177.54 L19.84,177.93 L21.01,178.3 L22.42,178.65 L24.04,178.98 L25.87,179.27 L27.88,179.54 L30.05,179.76 L32.35,179.95 L34.77,180.1 L37.26,180.21 L39.82,180.28 L42.4,180.3 L44.98,180.28 L47.54,180.21 L50.03,180.1 L52.45,179.95 L54.75,179.76 L56.92,179.54 L58.93,179.27 L60.76,178.98 L62.38,178.65 L63.79,178.3 L64.96,177.93 L65.89,177.54 L66.56,177.13 L66.96,176.72 L67.1,176.3 Z" fill="#a01a62" fill-rule="evenodd" stroke="#861453" stroke-width="0.8" stroke-linejoin="round"/>
<path d="M73.15,178.93 L51.59,182.96 L24.65,182.1 L8.11,176.84 L11.65,170.27 L33.21,166.24 L60.15,167.1 L76.69,172.36 Z M66.96,175.88 L66.56,175.47 L65.89,175.06 L64.96,174.67 L63.79,174.3 L62.38,173.95 L60.76,173.62 L58.93,173.33 L56.92,173.06 L54.75,172.84 L52.45,172.65 L50.03,172.5 L47.54,172.39 L44.98,172.32 L42.4,172.3 L39.82,172.32 L37.26,172.39 L34.77,172.5 L32.35,172.65 L30.05,172.84 L27.88,173.06 L25.87,173.33 L24.04,173.62 L22.42,173.95 L21.01,174.3 L19.84,174.67 L18.91,175.06 L18.24,175.47 L17.84,175.88 L17.7,176.3 L17.84,176.72 L18.24,177.13 L18.91,177.54 L19.84,177.93 L21.01,178.3 L22.42,178.65 L24.04,178.98 L25.87,179.27 L27.88,179.54 L30.05,179.76 L32.35,179.95 L34.77,180.1 L37.26,180.21 L39.82,180.28 L42.4,180.3 L44.98,180.28 L47.54,180.21 L50.03,180.1 L52.45,179.95 L54.75,179.76 L56.92,179.54 L58.93,179.27 L60.76,178.98 L62.38,178.65 L63.79,178.3 L64.96,177.93 L65.89,177.54 L66.56,177.13 L66.96,176.72 L67.1,176.3 Z" fill="#c62e7d" fill-rule="evenodd" stroke="#861453" stroke-width="0.6" stroke-opacity="0.6"/>
<line x1="71.92" y1="180.73" x2="72.28" y2="233.48" stroke="#861453" stroke-width="3.6" stroke-linecap="round"/>
<line x1="71.92" y1="180.73" x2="72.28" y2="233.48" stroke="#bc2174" stroke-width="2.7" stroke-linecap="round"/>
<line x1="71.42" y1="180.73" x2="71.78" y2="233.48" stroke="#d8468f" stroke-width="0.945" stroke-linecap="round" opacity="0.9"/>
<line x1="51.22" y1="184.76" x2="59.81" y2="238.26" stroke="#861453" stroke-width="3.6" stroke-linecap="round"/>
<line x1="51.22" y1="184.76" x2="59.81" y2="238.26" stroke="#bc2174" stroke-width="2.7" stroke-linecap="round"/>
<line x1="50.72" y1="184.76" x2="59.31" y2="238.26" stroke="#d8468f" stroke-width="0.945" stroke-linecap="round" opacity="0.9"/>
<line x1="51.22" y1="184.76" x2="72.28" y2="233.48" stroke="#861453" stroke-width="3.6" stroke-linecap="round"/>
<line x1="51.22" y1="184.76" x2="72.28" y2="233.48" stroke="#bc2174" stroke-width="2.7" stroke-linecap="round"/>
<line x1="50.72" y1="184.76" x2="71.78" y2="233.48" stroke="#d8468f" stroke-width="0.945" stroke-linecap="round" opacity="0.9"/>
<line x1="25.36" y1="183.9" x2="37.13" y2="239.49" stroke="#861453" stroke-width="3.6" stroke-linecap="round"/>
<line x1="25.36" y1="183.9" x2="37.13" y2="239.49" stroke="#bc2174" stroke-width="2.7" stroke-linecap="round"/>
<line x1="24.86" y1="183.9" x2="36.63" y2="239.49" stroke="#d8468f" stroke-width="0.945" stroke-linecap="round" opacity="0.9"/>
<line x1="25.36" y1="183.9" x2="59.81" y2="238.26" stroke="#861453" stroke-width="3.6" stroke-linecap="round"/>
<line x1="25.36" y1="183.9" x2="59.81" y2="238.26" stroke="#bc2174" stroke-width="2.7" stroke-linecap="round"/>
<line x1="24.86" y1="183.9" x2="59.31" y2="238.26" stroke="#d8468f" stroke-width="0.945" stroke-linecap="round" opacity="0.9"/>
<line x1="9.48" y1="178.64" x2="17.54" y2="236.44" stroke="#861453" stroke-width="3.6" stroke-linecap="round"/>
<line x1="9.48" y1="178.64" x2="17.54" y2="236.44" stroke="#bc2174" stroke-width="2.7" stroke-linecap="round"/>
<line x1="8.98" y1="178.64" x2="17.04" y2="236.44" stroke="#d8468f" stroke-width="0.945" stroke-linecap="round" opacity="0.9"/>
<line x1="9.48" y1="178.64" x2="37.13" y2="239.49" stroke="#861453" stroke-width="3.6" stroke-linecap="round"/>
<line x1="9.48" y1="178.64" x2="37.13" y2="239.49" stroke="#bc2174" stroke-width="2.7" stroke-linecap="round"/>
<line x1="8.98" y1="178.64" x2="36.63" y2="239.49" stroke="#d8468f" stroke-width="0.945" stroke-linecap="round" opacity="0.9"/>
<path d="M368,16.5 C362.5,22 360.2,34 360.2,55 L360.2,200 C360.2,212 357,219 352.4,222.2 C357,225.5 360.2,232 360.2,244 L360.4,400 C360.4,414 363,423 368.2,427.4" fill="none" stroke="#2a2a2a" stroke-width="1.4"/>
<polygon points="376,42 392,26.5 437.5,23.4 469.6,36.1 464.3,122.9 422.9,131.3 381.5,122.2" fill="#efefef" stroke="none" stroke-width="0" stroke-linejoin="round" />
<polygon points="469.6,36.1 462,104.5 464.3,122.9" fill="#dcdcdc" stroke="none" stroke-width="0" stroke-linejoin="round" />
<polygon points="469.6,36.1 456,51.3 464.3,122.9" fill="#e2e2e2" stroke="none" stroke-width="0" stroke-linejoin="round" />
<polygon points="376,42 381.5,122.2 380.7,105.3" fill="#e4e4e4" stroke="none" stroke-width="0" stroke-linejoin="round" />
<polygon points="407.2,53.8 422.9,131.3 464.3,122.9" fill="#ffffff" stroke="none" stroke-width="0" stroke-linejoin="round" fill-opacity="0.25"/>
<polygon points="376,42 407.2,53.8 422.9,131.3" fill="#e9e9e9" stroke="none" stroke-width="0" stroke-linejoin="round" fill-opacity="0.5"/>
<polygon points="376,42 392,26.5 437.5,23.4 469.6,36.1 456,51.3 407.2,53.8" fill="#f1f1f1" stroke="none" stroke-width="0" stroke-linejoin="round" fill-opacity="0.95"/>
<line x1="376" y1="42" x2="392" y2="26.5" stroke="#8f8f8f" stroke-width="0.7" />
<line x1="380.7" y1="105.3" x2="420.6" y2="99.2" stroke="#8f8f8f" stroke-width="0.7" />
<line x1="392" y1="26.5" x2="437.5" y2="23.4" stroke="#8f8f8f" stroke-width="0.7" />
<line x1="420.6" y1="99.2" x2="462" y2="104.5" stroke="#8f8f8f" stroke-width="0.7" />
<line x1="437.5" y1="23.4" x2="469.6" y2="36.1" stroke="#8f8f8f" stroke-width="0.7" />
<line x1="462" y1="104.5" x2="464.3" y2="122.9" stroke="#8f8f8f" stroke-width="0.7" />
<line x1="469.6" y1="36.1" x2="456" y2="51.3" stroke="#8f8f8f" stroke-width="0.7" />
<line x1="464.3" y1="122.9" x2="422.9" y2="131.3" stroke="#8f8f8f" stroke-width="0.7" />
<line x1="456" y1="51.3" x2="407.2" y2="53.8" stroke="#8f8f8f" stroke-width="0.7" />
<line x1="422.9" y1="131.3" x2="381.5" y2="122.2" stroke="#8f8f8f" stroke-width="0.7" />
<line x1="407.2" y1="53.8" x2="376" y2="42" stroke="#8f8f8f" stroke-width="0.7" />
<line x1="381.5" y1="122.2" x2="380.7" y2="105.3" stroke="#8f8f8f" stroke-width="0.7" />
<line x1="376" y1="42" x2="381.5" y2="122.2" stroke="#8f8f8f" stroke-width="0.7" />
<line x1="376" y1="42" x2="422.9" y2="131.3" stroke="#8f8f8f" stroke-width="0.6" />
<line x1="392" y1="26.5" x2="380.7" y2="105.3" stroke="#8f8f8f" stroke-width="0.7" />
<line x1="392" y1="26.5" x2="381.5" y2="122.2" stroke="#8f8f8f" stroke-width="0.6" />
<line x1="437.5" y1="23.4" x2="420.6" y2="99.2" stroke="#8f8f8f" stroke-width="0.7" />
<line x1="437.5" y1="23.4" x2="380.7" y2="105.3" stroke="#8f8f8f" stroke-width="0.6" />
<line x1="469.6" y1="36.1" x2="462" y2="104.5" stroke="#8f8f8f" stroke-width="0.7" />
<line x1="469.6" y1="36.1" x2="420.6" y2="99.2" stroke="#8f8f8f" stroke-width="0.6" />
<line x1="456" y1="51.3" x2="464.3" y2="122.9" stroke="#8f8f8f" stroke-width="0.7" />
<line x1="456" y1="51.3" x2="462" y2="104.5" stroke="#8f8f8f" stroke-width="0.6" />
<line x1="407.2" y1="53.8" x2="422.9" y2="131.3" stroke="#8f8f8f" stroke-width="0.7" />
<line x1="407.2" y1="53.8" x2="464.3" y2="122.9" stroke="#8f8f8f" stroke-width="0.6" />
<line x1="407.2" y1="53.8" x2="422.9" y2="131.3" stroke="#e0309c" stroke-width="2.0" />
<ellipse cx="417.01" cy="102.24" rx="3.1" ry="6.2" transform="rotate(78.55 417.01 102.24)" fill="#fff" stroke="#e0309c" stroke-width="1.8"/>
<ellipse cx="416.33" cy="98.85" rx="3.1" ry="6.2" transform="rotate(78.55 416.33 98.85)" fill="#fff" stroke="#e0309c" stroke-width="1.8"/>
<ellipse cx="415.64" cy="95.46" rx="3.1" ry="6.2" transform="rotate(78.55 415.64 95.46)" fill="#fff" stroke="#e0309c" stroke-width="1.8"/>
<ellipse cx="414.95" cy="92.07" rx="3.1" ry="6.2" transform="rotate(78.55 414.95 92.07)" fill="#fff" stroke="#e0309c" stroke-width="1.8"/>
<ellipse cx="414.26" cy="88.68" rx="3.1" ry="6.2" transform="rotate(78.55 414.26 88.68)" fill="#fff" stroke="#e0309c" stroke-width="1.8"/>
<ellipse cx="413.58" cy="85.28" rx="3.1" ry="6.2" transform="rotate(78.55 413.58 85.28)" fill="#fff" stroke="#e0309c" stroke-width="1.8"/>
<ellipse cx="412.89" cy="81.89" rx="3.1" ry="6.2" transform="rotate(78.55 412.89 81.89)" fill="#fff" stroke="#e0309c" stroke-width="1.8"/>
<ellipse cx="412.2" cy="78.5" rx="3.1" ry="6.2" transform="rotate(78.55 412.2 78.5)" fill="#fff" stroke="#e0309c" stroke-width="1.8"/>
<ellipse cx="411.52" cy="75.11" rx="4.22" ry="6.2" transform="rotate(78.55 411.52 75.11)" fill="#fff" stroke="#e0309c" stroke-width="1.8"/>
<ellipse cx="411.64" cy="75.7" rx="2.48" ry="3.72" transform="rotate(78.55 411.64 75.7)" fill="#fff" stroke="#e0309c" stroke-width="1.3"/>
<line x1="410.66" y1="70.86" x2="411.64" y2="75.7" stroke="#e0309c" stroke-width="2.0"/>
<line x1="407.2" y1="53.8" x2="464.3" y2="122.9" stroke="#5ab6e2" stroke-width="2.0" />
<ellipse cx="442.89" cy="96.99" rx="3.1" ry="6.2" transform="rotate(50.43 442.89 96.99)" fill="#fff" stroke="#5ab6e2" stroke-width="1.8"/>
<ellipse cx="441.05" cy="94.76" rx="3.1" ry="6.2" transform="rotate(50.43 441.05 94.76)" fill="#fff" stroke="#5ab6e2" stroke-width="1.8"/>
<ellipse cx="439.21" cy="92.53" rx="3.1" ry="6.2" transform="rotate(50.43 439.21 92.53)" fill="#fff" stroke="#5ab6e2" stroke-width="1.8"/>
<ellipse cx="437.37" cy="90.31" rx="3.1" ry="6.2" transform="rotate(50.43 437.37 90.31)" fill="#fff" stroke="#5ab6e2" stroke-width="1.8"/>
<ellipse cx="435.53" cy="88.08" rx="3.1" ry="6.2" transform="rotate(50.43 435.53 88.08)" fill="#fff" stroke="#5ab6e2" stroke-width="1.8"/>
<ellipse cx="433.69" cy="85.85" rx="3.1" ry="6.2" transform="rotate(50.43 433.69 85.85)" fill="#fff" stroke="#5ab6e2" stroke-width="1.8"/>
<ellipse cx="431.85" cy="83.63" rx="3.1" ry="6.2" transform="rotate(50.43 431.85 83.63)" fill="#fff" stroke="#5ab6e2" stroke-width="1.8"/>
<ellipse cx="430.01" cy="81.4" rx="3.1" ry="6.2" transform="rotate(50.43 430.01 81.4)" fill="#fff" stroke="#5ab6e2" stroke-width="1.8"/>
<ellipse cx="428.17" cy="79.18" rx="3.1" ry="6.2" transform="rotate(50.43 428.17 79.18)" fill="#fff" stroke="#5ab6e2" stroke-width="1.8"/>
<ellipse cx="426.33" cy="76.95" rx="4.22" ry="6.2" transform="rotate(50.43 426.33 76.95)" fill="#fff" stroke="#5ab6e2" stroke-width="1.8"/>
<ellipse cx="426.71" cy="77.41" rx="2.48" ry="3.72" transform="rotate(50.43 426.71 77.41)" fill="#fff" stroke="#5ab6e2" stroke-width="1.3"/>
<line x1="423.56" y1="73.6" x2="426.71" y2="77.41" stroke="#5ab6e2" stroke-width="2.0"/>
<text x="389.9" y="65.8" font-size="19.5" text-anchor="start" font-weight="normal" fill="#000" >k</text>
<text x="399.9" y="68.5" font-size="14" text-anchor="start" font-weight="normal" fill="#000" >b</text>
<text x="436.2" y="72.9" font-size="19.5" text-anchor="start" font-weight="normal" fill="#000" >k</text>
<text x="446.8" y="75.7" font-size="14" text-anchor="start" font-weight="normal" fill="#000" >c</text>
<polygon points="376,186.5 392,171 437.5,167.9 469.6,180.6 464.3,267.4 422.9,275.8 381.5,266.7" fill="#efefef" stroke="none" stroke-width="0" stroke-linejoin="round" />
<polygon points="380.7,249.8 420.6,243.7 462,249 464.3,267.4 422.9,275.8 381.5,266.7" fill="#cfe8f2" stroke="none" stroke-width="0" stroke-linejoin="round" />
<polygon points="469.6,180.6 462,249 464.3,267.4" fill="#dcdcdc" stroke="none" stroke-width="0" stroke-linejoin="round" />
<polygon points="469.6,180.6 456,195.8 464.3,267.4" fill="#e2e2e2" stroke="none" stroke-width="0" stroke-linejoin="round" />
<polygon points="376,186.5 381.5,266.7 380.7,249.8" fill="#e4e4e4" stroke="none" stroke-width="0" stroke-linejoin="round" />
<polygon points="407.2,198.3 422.9,275.8 464.3,267.4" fill="#ffffff" stroke="none" stroke-width="0" stroke-linejoin="round" fill-opacity="0.25"/>
<polygon points="376,186.5 407.2,198.3 422.9,275.8" fill="#e9e9e9" stroke="none" stroke-width="0" stroke-linejoin="round" fill-opacity="0.5"/>
<polygon points="376,186.5 392,171 437.5,167.9 469.6,180.6 456,195.8 407.2,198.3" fill="#d3ebf4" stroke="none" stroke-width="0" stroke-linejoin="round" fill-opacity="0.95"/>
<line x1="376" y1="186.5" x2="392" y2="171" stroke="#8f8f8f" stroke-width="0.7" />
<line x1="380.7" y1="249.8" x2="420.6" y2="243.7" stroke="#8f8f8f" stroke-width="0.7" />
<line x1="392" y1="171" x2="437.5" y2="167.9" stroke="#8f8f8f" stroke-width="0.7" />
<line x1="420.6" y1="243.7" x2="462" y2="249" stroke="#8f8f8f" stroke-width="0.7" />
<line x1="437.5" y1="167.9" x2="469.6" y2="180.6" stroke="#8f8f8f" stroke-width="0.7" />
<line x1="462" y1="249" x2="464.3" y2="267.4" stroke="#8f8f8f" stroke-width="0.7" />
<line x1="469.6" y1="180.6" x2="456" y2="195.8" stroke="#8f8f8f" stroke-width="0.7" />
<line x1="464.3" y1="267.4" x2="422.9" y2="275.8" stroke="#8f8f8f" stroke-width="0.7" />
<line x1="456" y1="195.8" x2="407.2" y2="198.3" stroke="#8f8f8f" stroke-width="0.7" />
<line x1="422.9" y1="275.8" x2="381.5" y2="266.7" stroke="#8f8f8f" stroke-width="0.7" />
<line x1="407.2" y1="198.3" x2="376" y2="186.5" stroke="#8f8f8f" stroke-width="0.7" />
<line x1="381.5" y1="266.7" x2="380.7" y2="249.8" stroke="#8f8f8f" stroke-width="0.7" />
<line x1="376" y1="186.5" x2="381.5" y2="266.7" stroke="#8f8f8f" stroke-width="0.7" />
<line x1="376" y1="186.5" x2="422.9" y2="275.8" stroke="#8f8f8f" stroke-width="0.6" />
<line x1="392" y1="171" x2="380.7" y2="249.8" stroke="#8f8f8f" stroke-width="0.7" />
<line x1="392" y1="171" x2="381.5" y2="266.7" stroke="#8f8f8f" stroke-width="0.6" />
<line x1="437.5" y1="167.9" x2="420.6" y2="243.7" stroke="#8f8f8f" stroke-width="0.7" />
<line x1="437.5" y1="167.9" x2="380.7" y2="249.8" stroke="#8f8f8f" stroke-width="0.6" />
<line x1="469.6" y1="180.6" x2="462" y2="249" stroke="#8f8f8f" stroke-width="0.7" />
<line x1="469.6" y1="180.6" x2="420.6" y2="243.7" stroke="#8f8f8f" stroke-width="0.6" />
<line x1="456" y1="195.8" x2="464.3" y2="267.4" stroke="#8f8f8f" stroke-width="0.7" />
<line x1="456" y1="195.8" x2="462" y2="249" stroke="#8f8f8f" stroke-width="0.6" />
<line x1="407.2" y1="198.3" x2="422.9" y2="275.8" stroke="#8f8f8f" stroke-width="0.7" />
<line x1="407.2" y1="198.3" x2="464.3" y2="267.4" stroke="#8f8f8f" stroke-width="0.6" />
<ellipse cx="422.9" cy="259.9" rx="13.5" ry="4.3" fill="#f1f7fb" stroke="#3d7dc4" stroke-width="2.0"/>
<ellipse cx="422.9" cy="255.41" rx="13.5" ry="4.3" fill="#f1f7fb" stroke="#3d7dc4" stroke-width="2.0"/>
<ellipse cx="422.9" cy="250.92" rx="13.5" ry="4.3" fill="#f1f7fb" stroke="#3d7dc4" stroke-width="2.0"/>
<ellipse cx="422.9" cy="246.44" rx="13.5" ry="4.3" fill="#f1f7fb" stroke="#3d7dc4" stroke-width="2.0"/>
<ellipse cx="422.9" cy="241.95" rx="13.5" ry="4.3" fill="#f1f7fb" stroke="#3d7dc4" stroke-width="2.0"/>
<ellipse cx="422.9" cy="237.46" rx="13.5" ry="4.3" fill="#f1f7fb" stroke="#3d7dc4" stroke-width="2.0"/>
<ellipse cx="422.9" cy="232.97" rx="13.5" ry="4.3" fill="#f1f7fb" stroke="#3d7dc4" stroke-width="2.0"/>
<ellipse cx="422.9" cy="228.48" rx="13.5" ry="4.3" fill="#f1f7fb" stroke="#3d7dc4" stroke-width="2.0"/>
<ellipse cx="422.9" cy="223.99" rx="13.5" ry="4.3" fill="#f1f7fb" stroke="#3d7dc4" stroke-width="2.0"/>
<ellipse cx="422.9" cy="219.51" rx="13.5" ry="4.3" fill="#f1f7fb" stroke="#3d7dc4" stroke-width="2.0"/>
<ellipse cx="422.9" cy="215.02" rx="13.5" ry="4.3" fill="#f1f7fb" stroke="#3d7dc4" stroke-width="2.0"/>
<ellipse cx="422.9" cy="210.53" rx="13.5" ry="4.3" fill="#f1f7fb" stroke="#3d7dc4" stroke-width="2.0"/>
<ellipse cx="422.9" cy="206.04" rx="13.5" ry="4.3" fill="#f1f7fb" stroke="#3d7dc4" stroke-width="2.0"/>
<ellipse cx="422.9" cy="201.55" rx="13.5" ry="4.3" fill="#f1f7fb" stroke="#3d7dc4" stroke-width="2.0"/>
<ellipse cx="422.9" cy="197.06" rx="13.5" ry="4.3" fill="#f1f7fb" stroke="#3d7dc4" stroke-width="2.0"/>
<ellipse cx="422.9" cy="192.58" rx="13.5" ry="4.3" fill="#f1f7fb" stroke="#3d7dc4" stroke-width="2.0"/>
<ellipse cx="422.9" cy="188.09" rx="13.5" ry="4.3" fill="#f1f7fb" stroke="#3d7dc4" stroke-width="2.0"/>
<ellipse cx="422.9" cy="183.6" rx="13.5" ry="4.3" fill="#f1f7fb" stroke="#3d7dc4" stroke-width="2.0"/>
<text x="440.6" y="187" font-size="19.5" text-anchor="start" font-weight="normal" fill="#000" >k</text>
<text x="450.2" y="189.5" font-size="14" text-anchor="start" font-weight="normal" fill="#000" >h</text>
<polygon points="376,334 392,318.5 437.5,315.4 469.6,328.1 464.3,414.9 422.9,423.3 381.5,414.2" fill="#efefef" stroke="none" stroke-width="0" stroke-linejoin="round" />
<polygon points="380.7,397.3 420.6,391.2 462,396.5 464.3,414.9 422.9,423.3 381.5,414.2" fill="#cfe8f2" stroke="none" stroke-width="0" stroke-linejoin="round" />
<polygon points="469.6,328.1 462,396.5 464.3,414.9" fill="#dcdcdc" stroke="none" stroke-width="0" stroke-linejoin="round" />
<polygon points="469.6,328.1 456,343.3 464.3,414.9" fill="#e2e2e2" stroke="none" stroke-width="0" stroke-linejoin="round" />
<polygon points="376,334 381.5,414.2 380.7,397.3" fill="#e4e4e4" stroke="none" stroke-width="0" stroke-linejoin="round" />
<polygon points="407.2,345.8 422.9,423.3 464.3,414.9" fill="#ffffff" stroke="none" stroke-width="0" stroke-linejoin="round" fill-opacity="0.25"/>
<polygon points="376,334 407.2,345.8 422.9,423.3" fill="#e9e9e9" stroke="none" stroke-width="0" stroke-linejoin="round" fill-opacity="0.5"/>
<polygon points="376,334 392,318.5 437.5,315.4 469.6,328.1 456,343.3 407.2,345.8" fill="#d3ebf4" stroke="none" stroke-width="0" stroke-linejoin="round" fill-opacity="0.95"/>
<line x1="376" y1="334" x2="392" y2="318.5" stroke="#8f8f8f" stroke-width="0.7" />
<line x1="380.7" y1="397.3" x2="420.6" y2="391.2" stroke="#8f8f8f" stroke-width="0.7" />
<line x1="392" y1="318.5" x2="437.5" y2="315.4" stroke="#8f8f8f" stroke-width="0.7" />
<line x1="420.6" y1="391.2" x2="462" y2="396.5" stroke="#8f8f8f" stroke-width="0.7" />
<line x1="437.5" y1="315.4" x2="469.6" y2="328.1" stroke="#8f8f8f" stroke-width="0.7" />
<line x1="462" y1="396.5" x2="464.3" y2="414.9" stroke="#8f8f8f" stroke-width="0.7" />
<line x1="469.6" y1="328.1" x2="456" y2="343.3" stroke="#8f8f8f" stroke-width="0.7" />
<line x1="464.3" y1="414.9" x2="422.9" y2="423.3" stroke="#8f8f8f" stroke-width="0.7" />
<line x1="456" y1="343.3" x2="407.2" y2="345.8" stroke="#8f8f8f" stroke-width="0.7" />
<line x1="422.9" y1="423.3" x2="381.5" y2="414.2" stroke="#8f8f8f" stroke-width="0.7" />
<line x1="407.2" y1="345.8" x2="376" y2="334" stroke="#8f8f8f" stroke-width="0.7" />
<line x1="381.5" y1="414.2" x2="380.7" y2="397.3" stroke="#8f8f8f" stroke-width="0.7" />
<line x1="376" y1="334" x2="381.5" y2="414.2" stroke="#8f8f8f" stroke-width="0.7" />
<line x1="376" y1="334" x2="422.9" y2="423.3" stroke="#8f8f8f" stroke-width="0.6" />
<line x1="392" y1="318.5" x2="380.7" y2="397.3" stroke="#8f8f8f" stroke-width="0.7" />
<line x1="392" y1="318.5" x2="381.5" y2="414.2" stroke="#8f8f8f" stroke-width="0.6" />
<line x1="437.5" y1="315.4" x2="420.6" y2="391.2" stroke="#8f8f8f" stroke-width="0.7" />
<line x1="437.5" y1="315.4" x2="380.7" y2="397.3" stroke="#8f8f8f" stroke-width="0.6" />
<line x1="469.6" y1="328.1" x2="462" y2="396.5" stroke="#8f8f8f" stroke-width="0.7" />
<line x1="469.6" y1="328.1" x2="420.6" y2="391.2" stroke="#8f8f8f" stroke-width="0.6" />
<line x1="456" y1="343.3" x2="464.3" y2="414.9" stroke="#8f8f8f" stroke-width="0.7" />
<line x1="456" y1="343.3" x2="462" y2="396.5" stroke="#8f8f8f" stroke-width="0.6" />
<line x1="407.2" y1="345.8" x2="422.9" y2="423.3" stroke="#8f8f8f" stroke-width="0.7" />
<line x1="407.2" y1="345.8" x2="464.3" y2="414.9" stroke="#8f8f8f" stroke-width="0.6" />
<defs><linearGradient id="discside" x1="0" x2="1" y1="0" y2="0"><stop offset="0" stop-color="#1d3a62"/><stop offset="0.45" stop-color="#27507f"/><stop offset="1" stop-color="#3f7fc6"/></linearGradient></defs>
<path d="M403.5,372.5 L403.5,378.8 A20,11.3 0 0 0 443.5,378.8 L443.5,372.5 Z" fill="url(#discside)"/>
<ellipse cx="423.5" cy="372.5" rx="20" ry="11.3" fill="#c3d6ea" stroke="#6b93c2" stroke-width="0.6"/>
<ellipse cx="423.5" cy="372.5" rx="17" ry="9.6" fill="none" stroke="#7ea6d4" stroke-width="1.0"/>
<ellipse cx="423.5" cy="372.5" rx="14" ry="7.91" fill="none" stroke="#6b9ad0" stroke-width="1.0"/>
<ellipse cx="423.5" cy="372.5" rx="11" ry="6.21" fill="none" stroke="#5b90cc" stroke-width="1.0"/>
<ellipse cx="423.5" cy="372.5" rx="8" ry="4.52" fill="none" stroke="#4d89ca" stroke-width="1.0"/>
<ellipse cx="423.5" cy="372.5" rx="6.0" ry="3.4" fill="#4a88cc"/>
<ellipse cx="422.3" cy="372.5" rx="2.2" ry="1.3" fill="#f2f7fc"/>
<text x="438.1" y="336.2" font-size="19.5" text-anchor="start" font-weight="normal" fill="#000" >k</text>
<text x="449.8" y="338.7" font-size="14" text-anchor="start" font-weight="normal" fill="#000" >t</text>
<rect x="553" y="25.5" width="119.8" height="91.1" fill="none" stroke="#262626" stroke-width="1.1"/>
<line x1="558.8" y1="116.6" x2="558.8" y2="113.6" stroke="#262626" stroke-width="1.1" />
<line x1="558.8" y1="25.5" x2="558.8" y2="28.5" stroke="#262626" stroke-width="1.1" />
<text x="558.8" y="129.4" font-size="13.5" text-anchor="middle" font-weight="normal" fill="#262626" >-5</text>
<line x1="613.4" y1="116.6" x2="613.4" y2="113.6" stroke="#262626" stroke-width="1.1" />
<line x1="613.4" y1="25.5" x2="613.4" y2="28.5" stroke="#262626" stroke-width="1.1" />
<text x="613.4" y="129.4" font-size="13.5" text-anchor="middle" font-weight="normal" fill="#262626" >0</text>
<line x1="668" y1="116.6" x2="668" y2="113.6" stroke="#262626" stroke-width="1.1" />
<line x1="668" y1="25.5" x2="668" y2="28.5" stroke="#262626" stroke-width="1.1" />
<text x="668" y="129.4" font-size="13.5" text-anchor="middle" font-weight="normal" fill="#262626" >5</text>
<line x1="553" y1="112" x2="556" y2="112" stroke="#262626" stroke-width="1.1" />
<line x1="672.8" y1="112" x2="669.8" y2="112" stroke="#262626" stroke-width="1.1" />
<text x="550.5" y="116.79" font-size="13.5" text-anchor="end" font-weight="normal" fill="#262626" >0</text>
<line x1="553" y1="86.97" x2="556" y2="86.97" stroke="#262626" stroke-width="1.1" />
<line x1="672.8" y1="86.97" x2="669.8" y2="86.97" stroke="#262626" stroke-width="1.1" />
<text x="550.5" y="91.76" font-size="13.5" text-anchor="end" font-weight="normal" fill="#262626" >0.5</text>
<line x1="553" y1="61.93" x2="556" y2="61.93" stroke="#262626" stroke-width="1.1" />
<line x1="672.8" y1="61.93" x2="669.8" y2="61.93" stroke="#262626" stroke-width="1.1" />
<text x="550.5" y="66.72" font-size="13.5" text-anchor="end" font-weight="normal" fill="#262626" >1</text>
<line x1="553" y1="36.89" x2="556" y2="36.89" stroke="#262626" stroke-width="1.1" />
<line x1="672.8" y1="36.89" x2="669.8" y2="36.89" stroke="#262626" stroke-width="1.1" />
<text x="550.5" y="41.69" font-size="13.5" text-anchor="end" font-weight="normal" fill="#262626" >1.5</text>
<text x="613.7" y="146.4" font-size="14.3" text-anchor="middle" font-weight="normal" fill="#262626" >Elongation (%)</text>
<text x="0" y="0" font-size="14.3" text-anchor="middle" fill="#262626" transform="translate(524.6,71.05) rotate(-90)">Energy (mJ)</text>
<path d="M558.8,45.16 L559.89,47.8 L560.98,50.4 L562.08,52.94 L563.17,55.42 L564.26,57.86 L565.35,60.24 L566.44,62.56 L567.54,64.84 L568.63,67.05 L569.72,69.22 L570.81,71.33 L571.9,73.39 L573,75.4 L574.09,77.35 L575.18,79.25 L576.27,81.09 L577.36,82.88 L578.46,84.62 L579.55,86.31 L580.64,87.94 L581.73,89.51 L582.82,91.04 L583.92,92.51 L585.01,93.93 L586.1,95.29 L587.19,96.6 L588.28,97.86 L589.38,99.06 L590.47,100.21 L591.56,101.31 L592.65,102.35 L593.74,103.34 L594.84,104.27 L595.93,105.16 L597.02,105.98 L598.11,106.76 L599.2,107.48 L600.3,108.15 L601.39,108.76 L602.48,109.33 L603.57,109.83 L604.66,110.29 L605.76,110.69 L606.85,111.04 L607.94,111.33 L609.03,111.57 L610.12,111.76 L611.22,111.89 L612.31,111.97 L613.4,112 L614.49,111.97 L615.58,111.89 L616.68,111.76 L617.77,111.57 L618.86,111.33 L619.95,111.04 L621.04,110.69 L622.14,110.29 L623.23,109.83 L624.32,109.33 L625.41,108.76 L626.5,108.15 L627.6,107.48 L628.69,106.76 L629.78,105.98 L630.87,105.16 L631.96,104.27 L633.06,103.34 L634.15,102.35 L635.24,101.31 L636.33,100.21 L637.42,99.06 L638.52,97.86 L639.61,96.6 L640.7,95.29 L641.79,93.93 L642.88,92.51 L643.98,91.04 L645.07,89.51 L646.16,87.94 L647.25,86.31 L648.34,84.62 L649.44,82.88 L650.53,81.09 L651.62,79.25 L652.71,77.35 L653.8,75.4 L654.9,73.39 L655.99,71.33 L657.08,69.22 L658.17,67.05 L659.26,64.84 L660.36,62.56 L661.45,60.24 L662.54,57.86 L663.63,55.42 L664.72,52.94 L665.82,50.4 L666.91,47.8 L668,45.16" fill="none" stroke="#7fe3ea" stroke-width="1.5" stroke-linejoin="round" stroke-linecap="round" />
<path d="M558.8,29.76 L559.89,33.02 L560.98,36.21 L562.08,39.33 L563.17,42.39 L564.26,45.39 L565.35,48.31 L566.44,51.18 L567.54,53.97 L568.63,56.7 L569.72,59.37 L570.81,61.97 L571.9,64.5 L573,66.97 L574.09,69.37 L575.18,71.7 L576.27,73.97 L577.36,76.18 L578.46,78.31 L579.55,80.39 L580.64,82.39 L581.73,84.33 L582.82,86.21 L583.92,88.02 L585.01,89.76 L586.1,91.44 L587.19,93.05 L588.28,94.6 L589.38,96.08 L590.47,97.49 L591.56,98.84 L592.65,100.12 L593.74,101.34 L594.84,102.49 L595.93,103.58 L597.02,104.6 L598.11,105.55 L599.2,106.44 L600.3,107.26 L601.39,108.02 L602.48,108.71 L603.57,109.34 L604.66,109.89 L605.76,110.39 L606.85,110.82 L607.94,111.18 L609.03,111.47 L610.12,111.7 L611.22,111.87 L612.31,111.97 L613.4,112 L614.49,111.97 L615.58,111.87 L616.68,111.7 L617.77,111.47 L618.86,111.18 L619.95,110.82 L621.04,110.39 L622.14,109.89 L623.23,109.34 L624.32,108.71 L625.41,108.02 L626.5,107.26 L627.6,106.44 L628.69,105.55 L629.78,104.6 L630.87,103.58 L631.96,102.49 L633.06,101.34 L634.15,100.12 L635.24,98.84 L636.33,97.49 L637.42,96.08 L638.52,94.6 L639.61,93.05 L640.7,91.44 L641.79,89.76 L642.88,88.02 L643.98,86.21 L645.07,84.33 L646.16,82.39 L647.25,80.39 L648.34,78.31 L649.44,76.18 L650.53,73.97 L651.62,71.7 L652.71,69.37 L653.8,66.97 L654.9,64.5 L655.99,61.97 L657.08,59.37 L658.17,56.7 L659.26,53.97 L660.36,51.18 L661.45,48.31 L662.54,45.39 L663.63,42.39 L664.72,39.33 L665.82,36.21 L666.91,33.02 L668,29.76" fill="none" stroke="#cc36cc" stroke-width="1.5" stroke-linejoin="round" stroke-linecap="round" />
<rect x="552.7" y="169.5" width="120.1" height="91.6" fill="none" stroke="#262626" stroke-width="1.1"/>
<line x1="570.8" y1="261.1" x2="570.8" y2="258.1" stroke="#262626" stroke-width="1.1" />
<line x1="570.8" y1="169.5" x2="570.8" y2="172.5" stroke="#262626" stroke-width="1.1" />
<text x="570.8" y="275" font-size="13.5" text-anchor="middle" font-weight="normal" fill="#262626" >15</text>
<line x1="609.4" y1="261.1" x2="609.4" y2="258.1" stroke="#262626" stroke-width="1.1" />
<line x1="609.4" y1="169.5" x2="609.4" y2="172.5" stroke="#262626" stroke-width="1.1" />
<text x="609.4" y="275" font-size="13.5" text-anchor="middle" font-weight="normal" fill="#262626" >25</text>
<line x1="648" y1="261.1" x2="648" y2="258.1" stroke="#262626" stroke-width="1.1" />
<line x1="648" y1="169.5" x2="648" y2="172.5" stroke="#262626" stroke-width="1.1" />
<text x="648" y="275" font-size="13.5" text-anchor="middle" font-weight="normal" fill="#262626" >35</text>
<line x1="552.7" y1="253.2" x2="555.7" y2="253.2" stroke="#262626" stroke-width="1.1" />
<line x1="672.8" y1="253.2" x2="669.8" y2="253.2" stroke="#262626" stroke-width="1.1" />
<text x="550.5" y="257.99" font-size="13.5" text-anchor="end" font-weight="normal" fill="#262626" >0</text>
<line x1="552.7" y1="236.72" x2="555.7" y2="236.72" stroke="#262626" stroke-width="1.1" />
<line x1="672.8" y1="236.72" x2="669.8" y2="236.72" stroke="#262626" stroke-width="1.1" />
<text x="550.5" y="241.51" font-size="13.5" text-anchor="end" font-weight="normal" fill="#262626" >2</text>
<line x1="552.7" y1="220.24" x2="555.7" y2="220.24" stroke="#262626" stroke-width="1.1" />
<line x1="672.8" y1="220.24" x2="669.8" y2="220.24" stroke="#262626" stroke-width="1.1" />
<text x="550.5" y="225.03" font-size="13.5" text-anchor="end" font-weight="normal" fill="#262626" >4</text>
<line x1="552.7" y1="203.76" x2="555.7" y2="203.76" stroke="#262626" stroke-width="1.1" />
<line x1="672.8" y1="203.76" x2="669.8" y2="203.76" stroke="#262626" stroke-width="1.1" />
<text x="550.5" y="208.55" font-size="13.5" text-anchor="end" font-weight="normal" fill="#262626" >6</text>
<line x1="552.7" y1="187.28" x2="555.7" y2="187.28" stroke="#262626" stroke-width="1.1" />
<line x1="672.8" y1="187.28" x2="669.8" y2="187.28" stroke="#262626" stroke-width="1.1" />
<text x="550.5" y="192.07" font-size="13.5" text-anchor="end" font-weight="normal" fill="#262626" >8</text>
<line x1="552.7" y1="170.8" x2="555.7" y2="170.8" stroke="#262626" stroke-width="1.1" />
<line x1="672.8" y1="170.8" x2="669.8" y2="170.8" stroke="#262626" stroke-width="1.1" />
<text x="550.5" y="175.59" font-size="13.5" text-anchor="end" font-weight="normal" fill="#262626" >10</text>
<text x="612.75" y="292.4" font-size="14.3" text-anchor="middle" font-weight="normal" fill="#262626" >Height (mm)</text>
<text x="0" y="0" font-size="14.3" text-anchor="middle" fill="#262626" transform="translate(524.6,215.3) rotate(-90)">Energy (mJ)</text>
<path d="M556.71,178.22 L556.9,183.13 L557.1,187.67 L557.29,191.83 L557.48,195.63 L557.68,199.08 L557.87,202.21 L558.06,205.03 L558.25,207.54 L558.45,209.77 L558.64,211.73 L558.83,213.44 L559.03,214.91 L559.22,216.16 L559.41,217.2 L559.61,218.06 L559.8,218.74 L559.99,219.26 L560.18,219.65 L560.38,219.93 L560.57,220.1 L560.76,220.19 L560.96,220.23 L561.15,220.24 L561.15,220.24 L562.05,221.21 L562.95,222.17 L563.85,223.11 L564.74,224.03 L565.64,224.95 L566.54,225.84 L567.44,226.73 L568.34,227.6 L569.24,228.45 L570.14,229.29 L571.03,230.11 L571.93,230.92 L572.83,231.72 L573.73,232.5 L574.63,233.27 L575.53,234.02 L576.42,234.76 L577.32,235.48 L578.22,236.19 L579.12,236.89 L580.02,237.57 L580.92,238.24 L581.82,238.89 L582.71,239.52 L583.61,240.15 L584.51,240.75 L585.41,241.35 L586.31,241.93 L587.21,242.49 L588.11,243.04 L589,243.58 L589.9,244.1 L590.8,244.6 L591.7,245.09 L592.6,245.57 L593.5,246.03 L594.39,246.48 L595.29,246.92 L596.19,247.34 L597.09,247.74 L597.99,248.13 L598.89,248.51 L599.79,248.87 L600.68,249.22 L601.58,249.55 L602.48,249.87 L603.38,250.17 L604.28,250.46 L605.18,250.73 L606.08,250.99 L606.97,251.24 L607.87,251.47 L608.77,251.69 L609.67,251.89 L610.57,252.08 L611.47,252.25 L612.36,252.41 L613.26,252.55 L614.16,252.68 L615.06,252.8 L615.96,252.9 L616.86,252.98 L617.76,253.06 L618.65,253.11 L619.55,253.16 L620.45,253.18 L621.35,253.2 L622.25,253.2 L623.15,253.18 L624.05,253.15 L624.94,253.11 L625.84,253.05 L626.74,252.98 L627.64,252.89 L628.54,252.79 L629.44,252.67 L630.33,252.54 L631.23,252.39 L632.13,252.23 L633.03,252.06 L633.93,251.87 L634.83,251.67 L635.73,251.45 L636.62,251.21 L637.52,250.97 L638.42,250.71 L639.32,250.43 L640.22,250.14 L641.12,249.83 L642.02,249.52 L642.91,249.18 L643.81,248.83 L644.71,248.47 L645.61,248.09 L646.51,247.7 L647.41,247.29 L648.3,246.87 L649.2,246.44 L650.1,245.99 L651,245.52 L651.9,245.04 L652.8,244.55 L653.7,244.04 L654.59,243.52 L655.49,242.98 L656.39,242.43 L657.29,241.87 L658.19,241.29 L659.09,240.69 L659.99,240.08 L660.88,239.46 L661.78,238.82 L662.68,238.17 L663.58,237.5 L664.48,236.82 L665.38,236.12 L666.27,235.41 L667.17,234.68 L668.07,233.94" fill="none" stroke="#3f7fc4" stroke-width="1.5" stroke-linejoin="round" stroke-linecap="round" />
<rect x="553.2" y="310.8" width="119" height="91.1" fill="none" stroke="#262626" stroke-width="1.1"/>
<line x1="564.85" y1="401.9" x2="564.85" y2="398.9" stroke="#262626" stroke-width="1.1" />
<line x1="564.85" y1="310.8" x2="564.85" y2="313.8" stroke="#262626" stroke-width="1.1" />
<text x="562.25" y="416.3" font-size="13.5" text-anchor="middle" font-weight="normal" fill="#262626" >-100</text>
<line x1="588.92" y1="401.9" x2="588.92" y2="398.9" stroke="#262626" stroke-width="1.1" />
<line x1="588.92" y1="310.8" x2="588.92" y2="313.8" stroke="#262626" stroke-width="1.1" />
<text x="588.92" y="416.3" font-size="13.5" text-anchor="middle" font-weight="normal" fill="#262626" >-50</text>
<line x1="613" y1="401.9" x2="613" y2="398.9" stroke="#262626" stroke-width="1.1" />
<line x1="613" y1="310.8" x2="613" y2="313.8" stroke="#262626" stroke-width="1.1" />
<text x="613" y="416.3" font-size="13.5" text-anchor="middle" font-weight="normal" fill="#262626" >0</text>
<line x1="637.08" y1="401.9" x2="637.08" y2="398.9" stroke="#262626" stroke-width="1.1" />
<line x1="637.08" y1="310.8" x2="637.08" y2="313.8" stroke="#262626" stroke-width="1.1" />
<text x="637.08" y="416.3" font-size="13.5" text-anchor="middle" font-weight="normal" fill="#262626" >50</text>
<line x1="661.15" y1="401.9" x2="661.15" y2="398.9" stroke="#262626" stroke-width="1.1" />
<line x1="661.15" y1="310.8" x2="661.15" y2="313.8" stroke="#262626" stroke-width="1.1" />
<text x="661.15" y="416.3" font-size="13.5" text-anchor="middle" font-weight="normal" fill="#262626" >100</text>
<line x1="553.2" y1="399.6" x2="556.2" y2="399.6" stroke="#262626" stroke-width="1.1" />
<line x1="672.2" y1="399.6" x2="669.2" y2="399.6" stroke="#262626" stroke-width="1.1" />
<text x="550.5" y="404.39" font-size="13.5" text-anchor="end" font-weight="normal" fill="#262626" >0</text>
<line x1="553.2" y1="384.38" x2="556.2" y2="384.38" stroke="#262626" stroke-width="1.1" />
<line x1="672.2" y1="384.38" x2="669.2" y2="384.38" stroke="#262626" stroke-width="1.1" />
<text x="550.5" y="389.17" font-size="13.5" text-anchor="end" font-weight="normal" fill="#262626" >0.01</text>
<line x1="553.2" y1="369.16" x2="556.2" y2="369.16" stroke="#262626" stroke-width="1.1" />
<line x1="672.2" y1="369.16" x2="669.2" y2="369.16" stroke="#262626" stroke-width="1.1" />
<text x="550.5" y="373.95" font-size="13.5" text-anchor="end" font-weight="normal" fill="#262626" >0.02</text>
<line x1="553.2" y1="353.94" x2="556.2" y2="353.94" stroke="#262626" stroke-width="1.1" />
<line x1="672.2" y1="353.94" x2="669.2" y2="353.94" stroke="#262626" stroke-width="1.1" />
<text x="550.5" y="358.73" font-size="13.5" text-anchor="end" font-weight="normal" fill="#262626" >0.03</text>
<line x1="553.2" y1="338.72" x2="556.2" y2="338.72" stroke="#262626" stroke-width="1.1" />
<line x1="672.2" y1="338.72" x2="669.2" y2="338.72" stroke="#262626" stroke-width="1.1" />
<text x="550.5" y="343.51" font-size="13.5" text-anchor="end" font-weight="normal" fill="#262626" >0.04</text>
<line x1="553.2" y1="323.5" x2="556.2" y2="323.5" stroke="#262626" stroke-width="1.1" />
<line x1="672.2" y1="323.5" x2="669.2" y2="323.5" stroke="#262626" stroke-width="1.1" />
<text x="550.5" y="328.29" font-size="13.5" text-anchor="end" font-weight="normal" fill="#262626" >0.05</text>
<text x="615" y="435.8" font-size="14.3" text-anchor="middle" font-weight="normal" fill="#262626" >Twist angle (deg)</text>
<text x="0" y="0" font-size="14.3" text-anchor="middle" fill="#262626" transform="translate(512,356.35) rotate(-90)">Energy (mJ)</text>
<path d="M554.98,313.61 L555.95,316.45 L556.91,319.24 L557.88,321.99 L558.85,324.69 L559.81,327.34 L560.78,329.95 L561.75,332.5 L562.72,335.01 L563.68,337.47 L564.65,339.88 L565.62,342.25 L566.58,344.56 L567.55,346.83 L568.52,349.06 L569.48,351.23 L570.45,353.35 L571.42,355.43 L572.39,357.46 L573.35,359.45 L574.32,361.38 L575.29,363.27 L576.25,365.11 L577.22,366.9 L578.19,368.64 L579.15,370.34 L580.12,371.99 L581.09,373.59 L582.06,375.14 L583.02,376.64 L583.99,378.1 L584.96,379.51 L585.92,380.87 L586.89,382.19 L587.86,383.45 L588.82,384.67 L589.79,385.84 L590.76,386.96 L591.73,388.04 L592.69,389.07 L593.66,390.05 L594.63,390.98 L595.59,391.86 L596.56,392.7 L597.53,393.48 L598.49,394.23 L599.46,394.92 L600.43,395.56 L601.4,396.16 L602.36,396.71 L603.33,397.21 L604.3,397.67 L605.26,398.07 L606.23,398.43 L607.2,398.74 L608.16,399 L609.13,399.22 L610.1,399.39 L611.07,399.5 L612.03,399.58 L613,399.6 L613.97,399.58 L614.93,399.5 L615.9,399.39 L616.87,399.22 L617.84,399 L618.8,398.74 L619.77,398.43 L620.74,398.07 L621.7,397.67 L622.67,397.21 L623.64,396.71 L624.6,396.16 L625.57,395.56 L626.54,394.92 L627.51,394.23 L628.47,393.48 L629.44,392.7 L630.41,391.86 L631.37,390.98 L632.34,390.05 L633.31,389.07 L634.27,388.04 L635.24,386.96 L636.21,385.84 L637.18,384.67 L638.14,383.45 L639.11,382.19 L640.08,380.87 L641.04,379.51 L642.01,378.1 L642.98,376.64 L643.94,375.14 L644.91,373.59 L645.88,371.99 L646.85,370.34 L647.81,368.64 L648.78,366.9 L649.75,365.11 L650.71,363.27 L651.68,361.38 L652.65,359.45 L653.61,357.46 L654.58,355.43 L655.55,353.35 L656.52,351.23 L657.48,349.06 L658.45,346.83 L659.42,344.56 L660.38,342.25 L661.35,339.88 L662.32,337.47 L663.28,335.01 L664.25,332.5 L665.22,329.95 L666.19,327.34 L667.15,324.69 L668.12,321.99 L669.09,319.24 L670.05,316.45 L671.02,313.61" fill="none" stroke="#3f7fc4" stroke-width="1.5" stroke-linejoin="round" stroke-linecap="round" />
<rect x="68.1" y="457.6" width="266.1" height="203.2" fill="none" stroke="#262626" stroke-width="1.5"/>
<line x1="68.1" y1="660.8" x2="68.1" y2="656.3" stroke="#262626" stroke-width="1.5" />
<line x1="68.1" y1="457.6" x2="68.1" y2="462.1" stroke="#262626" stroke-width="1.5" />
<text x="69.4" y="682.4" font-size="20" text-anchor="middle" font-weight="normal" fill="#262626" >0</text>
<line x1="156.81" y1="660.8" x2="156.81" y2="656.3" stroke="#262626" stroke-width="1.5" />
<line x1="156.81" y1="457.6" x2="156.81" y2="462.1" stroke="#262626" stroke-width="1.5" />
<text x="156.61" y="682.4" font-size="20" text-anchor="middle" font-weight="normal" fill="#262626" >30</text>
<line x1="245.52" y1="660.8" x2="245.52" y2="656.3" stroke="#262626" stroke-width="1.5" />
<line x1="245.52" y1="457.6" x2="245.52" y2="462.1" stroke="#262626" stroke-width="1.5" />
<text x="244.12" y="682.4" font-size="20" text-anchor="middle" font-weight="normal" fill="#262626" >60</text>
<line x1="334.23" y1="660.8" x2="334.23" y2="656.3" stroke="#262626" stroke-width="1.5" />
<line x1="334.23" y1="457.6" x2="334.23" y2="462.1" stroke="#262626" stroke-width="1.5" />
<text x="332.43" y="682.4" font-size="20" text-anchor="middle" font-weight="normal" fill="#262626" >90</text>
<line x1="68.1" y1="636.6" x2="72.6" y2="636.6" stroke="#262626" stroke-width="1.5" />
<line x1="334.2" y1="636.6" x2="329.7" y2="636.6" stroke="#262626" stroke-width="1.5" />
<text x="63" y="643.7" font-size="20" text-anchor="end" font-weight="normal" fill="#262626" >-20</text>
<line x1="68.1" y1="602.9" x2="72.6" y2="602.9" stroke="#262626" stroke-width="1.5" />
<line x1="334.2" y1="602.9" x2="329.7" y2="602.9" stroke="#262626" stroke-width="1.5" />
<text x="63" y="610" font-size="20" text-anchor="end" font-weight="normal" fill="#262626" >-10</text>
<line x1="68.1" y1="569.2" x2="72.6" y2="569.2" stroke="#262626" stroke-width="1.5" />
<line x1="334.2" y1="569.2" x2="329.7" y2="569.2" stroke="#262626" stroke-width="1.5" />
<text x="63" y="576.3" font-size="20" text-anchor="end" font-weight="normal" fill="#262626" >0</text>
<line x1="68.1" y1="535.5" x2="72.6" y2="535.5" stroke="#262626" stroke-width="1.5" />
<line x1="334.2" y1="535.5" x2="329.7" y2="535.5" stroke="#262626" stroke-width="1.5" />
<text x="63" y="542.6" font-size="20" text-anchor="end" font-weight="normal" fill="#262626" >10</text>
<line x1="68.1" y1="501.8" x2="72.6" y2="501.8" stroke="#262626" stroke-width="1.5" />
<line x1="334.2" y1="501.8" x2="329.7" y2="501.8" stroke="#262626" stroke-width="1.5" />
<text x="63" y="508.9" font-size="20" text-anchor="end" font-weight="normal" fill="#262626" >20</text>
<line x1="68.1" y1="468.1" x2="72.6" y2="468.1" stroke="#262626" stroke-width="1.5" />
<line x1="334.2" y1="468.1" x2="329.7" y2="468.1" stroke="#262626" stroke-width="1.5" />
<text x="63" y="475.2" font-size="20" text-anchor="end" font-weight="normal" fill="#262626" >30</text>
<text x="205.8" y="706" font-size="18.3" text-anchor="middle" font-weight="normal" fill="#262626" >Twist angle (deg)</text>
<text x="0" y="0" font-size="17.6" text-anchor="middle" fill="#262626" transform="translate(23,561.5) rotate(-90)">Torque, <tspan font-style="italic">T</tspan> (N·mm)</text>
<defs><clipPath id="clipc"><rect x="68.8" y="458.3" width="264.7" height="201.8"/></clipPath><clipPath id="clipd"><rect x="416.2" y="460.1" width="258" height="196.7"/></clipPath></defs>
<g clip-path="url(#clipc)">
<path d="M68.1,567.76 L69.32,566.47 L70.54,565.24 L71.76,564.04 L72.99,562.89 L74.21,561.79 L75.43,560.72 L76.65,559.7 L77.87,558.72 L79.09,557.77 L80.31,556.87 L81.54,556 L82.76,555.17 L83.98,554.38 L85.2,553.62 L86.42,552.89 L87.64,552.21 L88.86,551.55 L90.09,550.93 L91.31,550.34 L92.53,549.78 L93.75,549.25 L94.97,548.75 L96.19,548.28 L97.41,547.83 L98.64,547.42 L99.86,547.03 L101.08,546.66 L102.3,546.33 L103.52,546.02 L104.74,545.73 L105.96,545.47 L107.19,545.24 L108.41,545.02 L109.63,544.84 L110.85,544.67 L112.07,544.54 L113.29,544.42 L114.51,544.33 L115.74,544.25 L116.96,544.2 L118.18,544.18 L119.4,544.17 L120.62,544.19 L121.84,544.22 L123.06,544.28 L124.29,544.36 L125.51,544.45 L126.73,544.57 L127.95,544.7 L129.17,544.86 L130.39,545.03 L131.61,545.22 L132.84,545.42 L134.06,545.65 L135.28,545.89 L136.5,546.15 L137.72,546.43 L138.94,546.72 L140.16,547.02 L141.39,547.35 L142.61,547.68 L143.83,548.03 L145.05,548.4 L146.27,548.78 L147.49,549.17 L148.71,549.58 L149.94,550 L151.16,550.43 L152.38,550.88 L153.6,551.34 L154.82,551.8 L156.04,552.28 L157.26,552.77 L158.49,553.28 L159.71,553.79 L160.93,554.31 L162.15,554.84 L163.37,555.38 L164.59,555.93 L165.81,556.48 L167.04,557.05 L168.26,557.62 L169.48,558.2 L170.7,558.79 L171.92,559.39 L173.14,559.99 L174.36,560.59 L175.59,561.21 L176.81,561.83 L178.03,562.45 L179.25,563.08 L180.47,563.71 L181.69,564.35 L182.91,564.99 L184.14,565.63 L185.36,566.28 L186.58,566.92 L187.8,567.58 L189.02,568.23 L190.24,568.88 L191.46,569.54 L192.69,570.2 L193.91,570.86 L195.13,571.51 L196.35,572.17 L197.57,572.82 L198.79,573.47 L200.01,574.12 L201.24,574.76 L202.46,575.39 L203.68,576.02 L204.9,576.64 L206.12,577.25 L207.34,577.85 L208.56,578.44 L209.79,579.01 L211.01,579.58 L212.23,580.13 L213.45,580.67 L214.67,581.19 L215.89,581.7 L217.11,582.2 L218.34,582.68 L219.56,583.14 L220.78,583.59 L222,584.02 L223.22,584.44 L224.44,584.84 L225.67,585.22 L226.89,585.59 L228.11,585.94 L229.33,586.28 L230.55,586.6 L231.77,586.9 L232.99,587.18 L234.22,587.45 L235.44,587.7 L236.66,587.93 L237.88,588.14 L239.1,588.34 L240.32,588.51 L241.54,588.67 L242.77,588.81 L243.99,588.93 L245.21,589.03 L246.43,589.11 L247.65,589.17 L248.87,589.21 L250.09,589.24 L251.32,589.24 L252.54,589.22 L253.76,589.18 L254.98,589.12 L256.2,589.04 L257.42,588.94 L258.64,588.82 L259.87,588.67 L261.09,588.51 L262.31,588.32 L263.53,588.11 L264.75,587.88 L265.97,587.62 L267.19,587.35 L268.42,587.05 L269.64,586.72 L270.86,586.38 L272.08,586.01 L273.3,585.62 L274.52,585.2 L275.74,584.76 L276.97,584.3 L278.19,583.81 L279.41,583.29 L280.63,582.76 L281.85,582.19 L283.07,581.61 L284.29,580.99 L285.52,580.35 L286.74,579.69 L287.96,579 L289.18,578.28 L290.4,577.54 L291.62,576.77 L292.84,575.98 L294.07,575.16 L295.29,574.31 L296.51,573.43 L297.73,572.53 L298.95,571.6 L300.17,570.64 L301.39,569.66 L302.62,568.64 L303.84,567.6 L305.06,566.53 L306.28,565.43 L307.5,564.3 L308.72,563.15 L309.94,561.96 L311.17,560.74" fill="none" stroke="#e8261e" stroke-width="3.0" stroke-linejoin="round" stroke-linecap="round" />
<path d="M68.1,568.49 L69.32,565.13 L70.54,561.92 L71.76,558.84 L72.99,555.9 L74.21,553.09 L75.43,550.41 L76.65,547.86 L77.87,545.42 L79.09,543.1 L80.31,540.9 L81.54,538.8 L82.76,536.81 L83.98,534.92 L85.2,533.13 L86.42,531.44 L87.64,529.84 L88.86,528.32 L90.09,526.89 L91.31,525.54 L92.53,524.26 L93.75,523.06 L94.97,521.92 L96.19,520.86 L97.41,519.85 L98.64,518.9 L99.86,518.01 L101.08,517.17 L102.3,516.38 L103.52,515.65 L104.74,514.97 L105.96,514.34 L107.19,513.76 L108.41,513.24 L109.63,512.77 L110.85,512.35 L112.07,511.98 L113.29,511.66 L114.51,511.39 L115.74,511.17 L116.96,511 L118.18,510.88 L119.4,510.81 L120.62,510.79 L121.84,510.82 L123.06,510.9 L124.29,511.02 L125.51,511.2 L126.73,511.42 L127.95,511.69 L129.17,512 L130.39,512.36 L131.61,512.76 L132.84,513.2 L134.06,513.69 L135.28,514.22 L136.5,514.79 L137.72,515.4 L138.94,516.05 L140.16,516.73 L141.39,517.46 L142.61,518.21 L143.83,519.01 L145.05,519.84 L146.27,520.7 L147.49,521.6 L148.71,522.53 L149.94,523.49 L151.16,524.48 L152.38,525.5 L153.6,526.55 L154.82,527.62 L156.04,528.72 L157.26,529.85 L158.49,531.01 L159.71,532.19 L160.93,533.39 L162.15,534.61 L163.37,535.86 L164.59,537.13 L165.81,538.42 L167.04,539.72 L168.26,541.05 L169.48,542.39 L170.7,543.75 L171.92,545.13 L173.14,546.52 L174.36,547.92 L175.59,549.34 L176.81,550.77 L178.03,552.21 L179.25,553.67 L180.47,555.13 L181.69,556.6 L182.91,558.08 L184.14,559.57 L185.36,561.06 L186.58,562.56 L187.8,564.07 L189.02,565.58 L190.24,567.08 L191.46,568.59 L192.69,570.1 L193.91,571.6 L195.13,573.1 L196.35,574.59 L197.57,576.07 L198.79,577.54 L200.01,578.99 L201.24,580.44 L202.46,581.86 L203.68,583.27 L204.9,584.66 L206.12,586.02 L207.34,587.37 L208.56,588.69 L209.79,589.98 L211.01,591.24 L212.23,592.47 L213.45,593.68 L214.67,594.84 L215.89,595.98 L217.11,597.07 L218.34,598.13 L219.56,599.14 L220.78,600.12 L222,601.05 L223.22,601.94 L224.44,602.79 L225.67,603.6 L226.89,604.38 L228.11,605.11 L229.33,605.8 L230.55,606.45 L231.77,607.06 L232.99,607.63 L234.22,608.16 L235.44,608.65 L236.66,609.1 L237.88,609.51 L239.1,609.89 L240.32,610.22 L241.54,610.52 L242.77,610.77 L243.99,610.99 L245.21,611.17 L246.43,611.31 L247.65,611.41 L248.87,611.47 L250.09,611.49 L251.32,611.47 L252.54,611.4 L253.76,611.29 L254.98,611.14 L256.2,610.95 L257.42,610.71 L258.64,610.42 L259.87,610.09 L261.09,609.7 L262.31,609.27 L263.53,608.8 L264.75,608.27 L265.97,607.69 L267.19,607.06 L268.42,606.37 L269.64,605.64 L270.86,604.85 L272.08,604 L273.3,603.11 L274.52,602.15 L275.74,601.14 L276.97,600.07 L278.19,598.94 L279.41,597.76 L280.63,596.51 L281.85,595.2 L283.07,593.84 L284.29,592.41 L285.52,590.92 L286.74,589.36 L287.96,587.74 L289.18,586.06 L290.4,584.31 L291.62,582.49 L292.84,580.6 L294.07,578.65 L295.29,576.63 L296.51,574.54 L297.73,572.38 L298.95,570.15 L300.17,567.85 L301.39,565.47 L302.62,563.02 L303.84,560.5 L305.06,557.9 L306.28,555.23 L307.5,552.48 L308.72,549.65 L309.94,546.74 L311.17,543.76" fill="none" stroke="#000000" stroke-width="3.0" stroke-linejoin="round" stroke-linecap="round" />
<path d="M68.1,568.83 L69.32,562.56 L70.54,556.64 L71.76,551.05 L72.98,545.78 L74.2,540.82 L75.42,536.15 L76.64,531.76 L77.86,527.63 L79.08,523.76 L80.3,520.12 L81.52,516.71 L82.74,513.51 L83.96,510.51 L85.18,507.7 L86.4,505.05 L87.62,502.56 L88.84,500.21 L90.06,497.99 L91.28,495.89 L92.5,493.9 L93.72,491.99 L94.94,490.15 L96.16,488.39 L97.38,486.68 L98.6,485.05 L99.82,483.49 L101.04,482.01 L102.26,480.6 L103.48,479.27 L104.7,478.02 L105.92,476.85 L107.14,475.76 L108.36,474.77 L109.58,473.86 L110.8,473.05 L112.02,472.33 L113.24,471.71 L114.46,471.18 L115.68,470.76 L116.9,470.44 L118.12,470.22 L119.34,470.12 L120.56,470.12 L121.78,470.24 L123,470.47 L124.22,470.81 L125.44,471.26 L126.66,471.81 L127.88,472.47 L129.1,473.22 L130.32,474.07 L131.54,475 L132.76,476.03 L133.98,477.13 L135.2,478.32 L136.42,479.58 L137.64,480.92 L138.86,482.32 L140.08,483.79 L141.3,485.32 L142.52,486.9 L143.74,488.55 L144.96,490.24 L146.18,491.98 L147.4,493.76 L148.62,495.59 L149.84,497.45 L151.06,499.34 L152.28,501.27 L153.5,503.22 L154.72,505.19 L155.94,507.18 L157.16,509.18 L158.38,511.2 L159.6,513.24 L160.82,515.29 L162.04,517.35 L163.26,519.43 L164.48,521.52 L165.7,523.62 L166.92,525.74 L168.14,527.87 L169.36,530.01 L170.58,532.16 L171.8,534.32 L173.02,536.5 L174.24,538.68 L175.46,540.88 L176.68,543.08 L177.9,545.3 L179.12,547.52 L180.34,549.76 L181.56,552 L182.78,554.26 L184,556.52 L185.22,558.79 L186.43,561.06 L187.65,563.35 L188.87,565.64 L190.09,567.96 L191.31,570.29 L192.53,572.65 L193.75,575.04 L194.97,577.46 L196.19,579.92 L197.41,582.43 L198.63,584.98 L199.85,587.59 L201.07,590.24 L202.29,592.91 L203.51,595.59 L204.73,598.27 L205.95,600.91 L207.17,603.53 L208.39,606.1 L209.61,608.63 L210.83,611.11 L212.05,613.53 L213.27,615.89 L214.49,618.18 L215.71,620.4 L216.93,622.54 L218.15,624.59 L219.37,626.55 L220.59,628.42 L221.81,630.2 L223.03,631.9 L224.25,633.51 L225.47,635.04 L226.69,636.48 L227.91,637.85 L229.13,639.14 L230.35,640.36 L231.57,641.5 L232.79,642.58 L234.01,643.58 L235.23,644.52 L236.45,645.4 L237.67,646.21 L238.89,646.97 L240.11,647.66 L241.33,648.3 L242.55,648.89 L243.77,649.43 L244.99,649.92 L246.21,650.36 L247.43,650.74 L248.65,651.08 L249.87,651.36 L251.09,651.58 L252.31,651.73 L253.53,651.81 L254.75,651.81 L255.97,651.74 L257.19,651.59 L258.41,651.36 L259.63,651.03 L260.85,650.61 L262.07,650.09 L263.29,649.48 L264.51,648.75 L265.73,647.92 L266.95,646.98 L268.17,645.91 L269.39,644.73 L270.61,643.42 L271.83,641.99 L273.05,640.42 L274.27,638.71 L275.49,636.87 L276.71,634.88 L277.93,632.74 L279.15,630.44 L280.37,628 L281.59,625.39 L282.81,622.64 L284.03,619.75 L285.25,616.74 L286.47,613.61 L287.69,610.38 L288.91,607.05 L290.13,603.64 L291.35,600.15 L292.57,596.6 L293.79,593 L295.01,589.35 L296.23,585.67 L297.45,581.97 L298.67,578.26 L299.89,574.55 L301.11,570.85 L302.33,567.17 L303.55,563.52 L304.77,559.91 L305.99,556.35 L307.21,552.86 L308.43,549.43 L309.65,546.09 L310.87,542.85" fill="none" stroke="#e9a93a" stroke-width="3.0" stroke-linejoin="round" stroke-linecap="round" />
</g>
<polygon points="183,494.5 181.6,506.5 186.9,524.2 206.6,527.9" fill="#ef4a4b" stroke="none" stroke-width="0" stroke-linejoin="round" />
<polygon points="183,494.5 200,499 206.6,527.9" fill="#d73d41" stroke="none" stroke-width="0" stroke-linejoin="round" />
<polygon points="200,499 206.6,527.9 220.2,519.8" fill="#d03a3e" stroke="none" stroke-width="0" stroke-linejoin="round" />
<polygon points="200,499 218,495.5 220.2,519.8" fill="#c63339" stroke="none" stroke-width="0" stroke-linejoin="round" />
<polygon points="183.5,482.1 201.6,477.1 219.3,482.9 218,495.5 200,499 183,494.5" fill="#c9353b" stroke="none" stroke-width="0" stroke-linejoin="round" />
<line x1="183" y1="494.5" x2="206.6" y2="527.9" stroke="#5a1010" stroke-width="0.7" opacity="0.45" stroke-linecap="round"/>
<line x1="200" y1="499" x2="206.6" y2="527.9" stroke="#5a1010" stroke-width="0.7" opacity="0.45" stroke-linecap="round"/>
<line x1="200" y1="499" x2="220.2" y2="519.8" stroke="#5a1010" stroke-width="0.7" opacity="0.45" stroke-linecap="round"/>
<line x1="183" y1="494.5" x2="200" y2="499" stroke="#5a1010" stroke-width="0.7" opacity="0.45" stroke-linecap="round"/>
<line x1="200" y1="499" x2="218" y2="495.5" stroke="#5a1010" stroke-width="0.7" opacity="0.45" stroke-linecap="round"/>
<path d="M204.77,482.5 L205.54,482.7 L206.29,482.96 L206.99,483.28 L207.65,483.65 L208.25,484.08 L208.78,484.56 L209.25,485.08 L209.64,485.63 L209.96,486.22 L210.19,486.83 L210.34,487.45 L210.4,488.08 L210.37,488.71 L210.26,489.34 L210.06,489.96 L209.77,490.55 L209.41,491.12 L208.97,491.65 L208.45,492.14 L207.88,492.59 L207.24,492.99 L206.56,493.33 L205.83,493.61 L205.06,493.83 L204.27,493.99 L203.46,494.08 L202.65,494.1 L201.83,494.05 L201.03,493.94 L200.25,493.76 L199.5,493.51 L198.78,493.21 L198.11,492.84 L197.5,492.43 L196.95,491.96 L196.46,491.45 L196.05,490.91 L195.71,490.33 L195.46,489.73" fill="none" stroke="#f3e9e9" stroke-width="2.1" stroke-linejoin="round" stroke-linecap="round" opacity="0.9"/>
<path d="M190.66,493.93 L194.86,489.33 L200.96,490.73" fill="none" stroke="#f3e9e9" stroke-width="2.1" stroke-linecap="round" stroke-linejoin="round" opacity="0.9"/>
<polygon points="233.7,494.5 232.3,506.5 237.6,524.2 257.3,527.9" fill="#f2f2f2" stroke="none" stroke-width="0" stroke-linejoin="round" />
<polygon points="233.7,494.5 250.7,499 257.3,527.9" fill="#d6d6d6" stroke="none" stroke-width="0" stroke-linejoin="round" />
<polygon points="250.7,499 257.3,527.9 270.9,519.8" fill="#cecece" stroke="none" stroke-width="0" stroke-linejoin="round" />
<polygon points="250.7,499 268.7,495.5 270.9,519.8" fill="#c8c8c8" stroke="none" stroke-width="0" stroke-linejoin="round" />
<polygon points="234.2,482.1 252.3,477.1 270,482.9 268.7,495.5 250.7,499 233.7,494.5" fill="#c4c4c4" stroke="none" stroke-width="0" stroke-linejoin="round" />
<line x1="233.7" y1="494.5" x2="257.3" y2="527.9" stroke="#555555" stroke-width="0.7" opacity="0.45" stroke-linecap="round"/>
<line x1="250.7" y1="499" x2="257.3" y2="527.9" stroke="#555555" stroke-width="0.7" opacity="0.45" stroke-linecap="round"/>
<line x1="250.7" y1="499" x2="270.9" y2="519.8" stroke="#555555" stroke-width="0.7" opacity="0.45" stroke-linecap="round"/>
<line x1="233.7" y1="494.5" x2="250.7" y2="499" stroke="#555555" stroke-width="0.7" opacity="0.45" stroke-linecap="round"/>
<line x1="250.7" y1="499" x2="268.7" y2="495.5" stroke="#555555" stroke-width="0.7" opacity="0.45" stroke-linecap="round"/>
<path d="M255.47,482.5 L256.24,482.7 L256.99,482.96 L257.69,483.28 L258.35,483.65 L258.95,484.08 L259.48,484.56 L259.95,485.08 L260.34,485.63 L260.66,486.22 L260.89,486.83 L261.04,487.45 L261.1,488.08 L261.07,488.71 L260.96,489.34 L260.76,489.96 L260.47,490.55 L260.11,491.12 L259.67,491.65 L259.15,492.14 L258.58,492.59 L257.94,492.99 L257.26,493.33 L256.53,493.61 L255.76,493.83 L254.97,493.99 L254.16,494.08 L253.35,494.1 L252.53,494.05 L251.73,493.94 L250.95,493.76 L250.2,493.51 L249.48,493.21 L248.81,492.84 L248.2,492.43 L247.65,491.96 L247.16,491.45 L246.75,490.91 L246.41,490.33 L246.16,489.73" fill="none" stroke="#f3e9e9" stroke-width="2.1" stroke-linejoin="round" stroke-linecap="round" opacity="0.9"/>
<path d="M241.36,493.93 L245.56,489.33 L251.66,490.73" fill="none" stroke="#f3e9e9" stroke-width="2.1" stroke-linecap="round" stroke-linejoin="round" opacity="0.9"/>
<polygon points="286.3,494.5 284.9,506.5 290.2,524.2 309.9,527.9" fill="#e8f046" stroke="none" stroke-width="0" stroke-linejoin="round" />
<polygon points="286.3,494.5 303.3,499 309.9,527.9" fill="#cbd742" stroke="none" stroke-width="0" stroke-linejoin="round" />
<polygon points="303.3,499 309.9,527.9 323.5,519.8" fill="#c2ce3c" stroke="none" stroke-width="0" stroke-linejoin="round" />
<polygon points="303.3,499 321.3,495.5 323.5,519.8" fill="#bcc83a" stroke="none" stroke-width="0" stroke-linejoin="round" />
<polygon points="286.8,482.1 304.9,477.1 322.6,482.9 321.3,495.5 303.3,499 286.3,494.5" fill="#c6d23e" stroke="none" stroke-width="0" stroke-linejoin="round" />
<line x1="286.3" y1="494.5" x2="309.9" y2="527.9" stroke="#4a5010" stroke-width="0.7" opacity="0.45" stroke-linecap="round"/>
<line x1="303.3" y1="499" x2="309.9" y2="527.9" stroke="#4a5010" stroke-width="0.7" opacity="0.45" stroke-linecap="round"/>
<line x1="303.3" y1="499" x2="323.5" y2="519.8" stroke="#4a5010" stroke-width="0.7" opacity="0.45" stroke-linecap="round"/>
<line x1="286.3" y1="494.5" x2="303.3" y2="499" stroke="#4a5010" stroke-width="0.7" opacity="0.45" stroke-linecap="round"/>
<line x1="303.3" y1="499" x2="321.3" y2="495.5" stroke="#4a5010" stroke-width="0.7" opacity="0.45" stroke-linecap="round"/>
<path d="M308.07,482.5 L308.84,482.7 L309.59,482.96 L310.29,483.28 L310.95,483.65 L311.55,484.08 L312.08,484.56 L312.55,485.08 L312.94,485.63 L313.26,486.22 L313.49,486.83 L313.64,487.45 L313.7,488.08 L313.67,488.71 L313.56,489.34 L313.36,489.96 L313.07,490.55 L312.71,491.12 L312.27,491.65 L311.75,492.14 L311.18,492.59 L310.54,492.99 L309.86,493.33 L309.13,493.61 L308.36,493.83 L307.57,493.99 L306.76,494.08 L305.95,494.1 L305.13,494.05 L304.33,493.94 L303.55,493.76 L302.8,493.51 L302.08,493.21 L301.41,492.84 L300.8,492.43 L300.25,491.96 L299.76,491.45 L299.35,490.91 L299.01,490.33 L298.76,489.73" fill="none" stroke="#f3e9e9" stroke-width="2.1" stroke-linejoin="round" stroke-linecap="round" opacity="0.9"/>
<path d="M293.96,493.93 L298.16,489.33 L304.26,490.73" fill="none" stroke="#f3e9e9" stroke-width="2.1" stroke-linecap="round" stroke-linejoin="round" opacity="0.9"/>
<line x1="190.2" y1="536.1" x2="211.9" y2="536.1" stroke="#e8261e" stroke-width="3" />
<line x1="242.3" y1="536.1" x2="263.8" y2="536.1" stroke="#000" stroke-width="3" />
<line x1="294.1" y1="536.1" x2="315.9" y2="536.1" stroke="#e9a93a" stroke-width="3" />
<rect x="415.5" y="459.4" width="259.3" height="198.1" fill="none" stroke="#262626" stroke-width="1.5"/>
<line x1="415.5" y1="657.5" x2="415.5" y2="653" stroke="#262626" stroke-width="1.5" />
<line x1="415.5" y1="459.4" x2="415.5" y2="463.9" stroke="#262626" stroke-width="1.5" />
<text x="415.5" y="679.6" font-size="20" text-anchor="middle" font-weight="normal" fill="#262626" >0</text>
<line x1="480.3" y1="657.5" x2="480.3" y2="653" stroke="#262626" stroke-width="1.5" />
<line x1="480.3" y1="459.4" x2="480.3" y2="463.9" stroke="#262626" stroke-width="1.5" />
<text x="480.3" y="679.6" font-size="20" text-anchor="middle" font-weight="normal" fill="#262626" >4</text>
<line x1="545.1" y1="657.5" x2="545.1" y2="653" stroke="#262626" stroke-width="1.5" />
<line x1="545.1" y1="459.4" x2="545.1" y2="463.9" stroke="#262626" stroke-width="1.5" />
<text x="545.1" y="679.6" font-size="20" text-anchor="middle" font-weight="normal" fill="#262626" >8</text>
<line x1="609.9" y1="657.5" x2="609.9" y2="653" stroke="#262626" stroke-width="1.5" />
<line x1="609.9" y1="459.4" x2="609.9" y2="463.9" stroke="#262626" stroke-width="1.5" />
<text x="609.9" y="679.6" font-size="20" text-anchor="middle" font-weight="normal" fill="#262626" >12</text>
<line x1="674.7" y1="657.5" x2="674.7" y2="653" stroke="#262626" stroke-width="1.5" />
<line x1="674.7" y1="459.4" x2="674.7" y2="463.9" stroke="#262626" stroke-width="1.5" />
<text x="672.5" y="679.6" font-size="20" text-anchor="middle" font-weight="normal" fill="#262626" >16</text>
<line x1="415.5" y1="657.1" x2="420" y2="657.1" stroke="#262626" stroke-width="1.5" />
<line x1="674.8" y1="657.1" x2="670.3" y2="657.1" stroke="#262626" stroke-width="1.5" />
<text x="411.8" y="664.2" font-size="20" text-anchor="end" font-weight="normal" fill="#262626" >-2</text>
<line x1="415.5" y1="624.15" x2="420" y2="624.15" stroke="#262626" stroke-width="1.5" />
<line x1="674.8" y1="624.15" x2="670.3" y2="624.15" stroke="#262626" stroke-width="1.5" />
<text x="411.8" y="631.25" font-size="20" text-anchor="end" font-weight="normal" fill="#262626" >-1</text>
<line x1="415.5" y1="591.2" x2="420" y2="591.2" stroke="#262626" stroke-width="1.5" />
<line x1="674.8" y1="591.2" x2="670.3" y2="591.2" stroke="#262626" stroke-width="1.5" />
<text x="411.8" y="598.3" font-size="20" text-anchor="end" font-weight="normal" fill="#262626" >0</text>
<line x1="415.5" y1="558.25" x2="420" y2="558.25" stroke="#262626" stroke-width="1.5" />
<line x1="674.8" y1="558.25" x2="670.3" y2="558.25" stroke="#262626" stroke-width="1.5" />
<text x="411.8" y="565.35" font-size="20" text-anchor="end" font-weight="normal" fill="#262626" >1</text>
<line x1="415.5" y1="525.3" x2="420" y2="525.3" stroke="#262626" stroke-width="1.5" />
<line x1="674.8" y1="525.3" x2="670.3" y2="525.3" stroke="#262626" stroke-width="1.5" />
<text x="411.8" y="532.4" font-size="20" text-anchor="end" font-weight="normal" fill="#262626" >2</text>
<line x1="415.5" y1="492.35" x2="420" y2="492.35" stroke="#262626" stroke-width="1.5" />
<line x1="674.8" y1="492.35" x2="670.3" y2="492.35" stroke="#262626" stroke-width="1.5" />
<text x="411.8" y="499.45" font-size="20" text-anchor="end" font-weight="normal" fill="#262626" >3</text>
<line x1="415.5" y1="459.4" x2="420" y2="459.4" stroke="#262626" stroke-width="1.5" />
<line x1="674.8" y1="459.4" x2="670.3" y2="459.4" stroke="#262626" stroke-width="1.5" />
<text x="411.8" y="466.5" font-size="20" text-anchor="end" font-weight="normal" fill="#262626" >4</text>
<text x="548.8" y="706" font-size="18.3" text-anchor="middle" font-weight="normal" fill="#262626" >Displacement (mm)</text>
<text x="0" y="0" font-size="17.6" text-anchor="middle" fill="#262626" transform="translate(382.6,560.3) rotate(-90)">Force, <tspan font-style="italic">F</tspan> (N)</text>
<g clip-path="url(#clipd)">
<path d="M415.5,589.35 L416.78,586.68 L418.05,584.17 L419.33,581.81 L420.61,579.61 L421.88,577.56 L423.16,575.65 L424.44,573.89 L425.71,572.25 L426.99,570.74 L428.26,569.36 L429.54,568.1 L430.82,566.95 L432.09,565.92 L433.37,564.98 L434.65,564.15 L435.92,563.42 L437.2,562.77 L438.48,562.21 L439.75,561.73 L441.03,561.33 L442.31,561 L443.58,560.74 L444.86,560.53 L446.14,560.39 L447.41,560.3 L448.69,560.26 L449.96,560.26 L451.24,560.31 L452.52,560.41 L453.79,560.55 L455.07,560.74 L456.35,560.96 L457.62,561.22 L458.9,561.53 L460.18,561.86 L461.45,562.24 L462.73,562.65 L464.01,563.09 L465.28,563.56 L466.56,564.06 L467.83,564.59 L469.11,565.15 L470.39,565.73 L471.66,566.34 L472.94,566.97 L474.22,567.62 L475.49,568.29 L476.77,568.98 L478.05,569.69 L479.32,570.41 L480.6,571.15 L481.88,571.9 L483.15,572.66 L484.43,573.43 L485.71,574.21 L486.98,575 L488.26,575.8 L489.53,576.6 L490.81,577.4 L492.09,578.2 L493.36,579.01 L494.64,579.81 L495.92,580.61 L497.19,581.41 L498.47,582.21 L499.75,582.99 L501.02,583.77 L502.3,584.54 L503.58,585.3 L504.85,586.05 L506.13,586.78 L507.41,587.5 L508.68,588.2 L509.96,588.89 L511.23,589.56 L512.51,590.21 L513.79,590.84 L515.06,591.46 L516.34,592.06 L517.62,592.65 L518.89,593.21 L520.17,593.77 L521.45,594.3 L522.72,594.82 L524,595.33 L525.28,595.81 L526.55,596.29 L527.83,596.74 L529.11,597.19 L530.38,597.61 L531.66,598.03 L532.93,598.42 L534.21,598.81 L535.49,599.18 L536.76,599.53 L538.04,599.87 L539.32,600.2 L540.59,600.51 L541.87,600.81 L543.15,601.09 L544.42,601.36 L545.7,601.62 L546.98,601.87 L548.25,602.1 L549.53,602.32 L550.81,602.52 L552.08,602.72 L553.36,602.9 L554.63,603.07 L555.91,603.22 L557.19,603.37 L558.46,603.5 L559.74,603.62 L561.02,603.73 L562.29,603.83 L563.57,603.92 L564.85,604 L566.12,604.06 L567.4,604.11 L568.68,604.16 L569.95,604.19 L571.23,604.21 L572.5,604.23 L573.78,604.23 L575.06,604.22 L576.33,604.2 L577.61,604.18 L578.89,604.14 L580.16,604.09 L581.44,604.04 L582.72,603.97 L583.99,603.9 L585.27,603.82 L586.55,603.73 L587.82,603.63 L589.1,603.52 L590.38,603.41 L591.65,603.28 L592.93,603.15 L594.2,603.01 L595.48,602.86 L596.76,602.71 L598.03,602.55 L599.31,602.38 L600.59,602.2 L601.86,602.02 L603.14,601.83 L604.42,601.63 L605.69,601.43 L606.97,601.22 L608.25,601.01 L609.52,600.79 L610.8,600.56 L612.08,600.33 L613.35,600.09 L614.63,599.84 L615.9,599.59 L617.18,599.34 L618.46,599.08 L619.73,598.82 L621.01,598.55 L622.29,598.27 L623.56,598 L624.84,597.71 L626.12,597.43 L627.39,597.14 L628.67,596.84 L629.95,596.54 L631.22,596.24 L632.5,595.94 L633.78,595.63 L635.05,595.32 L636.33,595.01 L637.6,594.69 L638.88,594.37 L640.16,594.05 L641.43,593.72 L642.71,593.4 L643.99,593.07 L645.26,592.74 L646.54,592.4 L647.82,592.07 L649.09,591.73 L650.37,591.4 L651.65,591.06 L652.92,590.72 L654.2,590.38 L655.47,590.04 L656.75,589.7 L658.03,589.35 L659.3,589.01 L660.58,588.67 L661.86,588.32 L663.13,587.98 L664.41,587.64 L665.69,587.3 L666.96,586.96 L668.24,586.61 L669.52,586.27" fill="none" stroke="#e8261e" stroke-width="3.0" stroke-linejoin="round" stroke-linecap="round" />
<path d="M415.5,588.64 L416.77,581.12 L418.04,574.12 L419.31,567.63 L420.58,561.64 L421.85,556.11 L423.12,551.04 L424.39,546.4 L425.66,542.18 L426.93,538.36 L428.2,534.92 L429.47,531.84 L430.74,529.1 L432.01,526.7 L433.28,524.6 L434.55,522.79 L435.82,521.25 L437.09,519.96 L438.36,518.91 L439.63,518.08 L440.9,517.44 L442.17,516.98 L443.44,516.69 L444.71,516.54 L445.98,516.52 L447.25,516.6 L448.52,516.78 L449.79,517.05 L451.06,517.41 L452.33,517.85 L453.6,518.38 L454.87,519 L456.14,519.69 L457.41,520.45 L458.68,521.29 L459.95,522.2 L461.22,523.17 L462.49,524.21 L463.76,525.31 L465.03,526.47 L466.3,527.69 L467.57,528.96 L468.84,530.28 L470.11,531.65 L471.38,533.07 L472.65,534.52 L473.92,536.02 L475.19,537.55 L476.46,539.12 L477.73,540.71 L479,542.34 L480.27,543.99 L481.54,545.67 L482.81,547.36 L484.08,549.08 L485.35,550.8 L486.62,552.54 L487.89,554.29 L489.16,556.05 L490.43,557.81 L491.7,559.57 L492.97,561.32 L494.24,563.08 L495.51,564.82 L496.78,566.56 L498.05,568.29 L499.32,570.02 L500.59,571.73 L501.86,573.42 L503.13,575.11 L504.4,576.78 L505.67,578.43 L506.94,580.07 L508.21,581.69 L509.48,583.29 L510.75,584.87 L512.02,586.42 L513.29,587.96 L514.56,589.47 L515.83,590.96 L517.1,592.41 L518.37,593.85 L519.64,595.25 L520.91,596.62 L522.18,597.96 L523.45,599.27 L524.72,600.54 L525.99,601.78 L527.26,602.99 L528.53,604.16 L529.8,605.29 L531.07,606.38 L532.34,607.44 L533.61,608.47 L534.88,609.46 L536.15,610.41 L537.42,611.33 L538.69,612.21 L539.96,613.06 L541.23,613.87 L542.49,614.65 L543.76,615.39 L545.03,616.1 L546.3,616.77 L547.57,617.41 L548.84,618.01 L550.11,618.58 L551.38,619.12 L552.65,619.62 L553.92,620.09 L555.19,620.52 L556.46,620.92 L557.73,621.28 L559,621.62 L560.27,621.92 L561.54,622.18 L562.81,622.41 L564.08,622.61 L565.35,622.78 L566.62,622.92 L567.89,623.02 L569.16,623.08 L570.43,623.12 L571.7,623.12 L572.97,623.1 L574.24,623.03 L575.51,622.94 L576.78,622.82 L578.05,622.66 L579.32,622.47 L580.59,622.26 L581.86,622.01 L583.13,621.73 L584.4,621.43 L585.67,621.1 L586.94,620.74 L588.21,620.36 L589.48,619.95 L590.75,619.52 L592.02,619.07 L593.29,618.59 L594.56,618.09 L595.83,617.57 L597.1,617.03 L598.37,616.46 L599.64,615.88 L600.91,615.28 L602.18,614.67 L603.45,614.03 L604.72,613.38 L605.99,612.72 L607.26,612.04 L608.53,611.34 L609.8,610.63 L611.07,609.91 L612.34,609.18 L613.61,608.44 L614.88,607.68 L616.15,606.92 L617.42,606.15 L618.69,605.37 L619.96,604.58 L621.23,603.78 L622.5,602.98 L623.77,602.18 L625.04,601.37 L626.31,600.55 L627.58,599.73 L628.85,598.91 L630.12,598.09 L631.39,597.27 L632.66,596.45 L633.93,595.62 L635.2,594.8 L636.47,593.99 L637.74,593.17 L639.01,592.36 L640.28,591.55 L641.55,590.74 L642.82,589.95 L644.09,589.15 L645.36,588.37 L646.63,587.59 L647.9,586.83 L649.17,586.07 L650.44,585.32 L651.71,584.58 L652.98,583.85 L654.25,583.14 L655.52,582.44 L656.79,581.75 L658.06,581.08 L659.33,580.42 L660.6,579.78 L661.87,579.15 L663.14,578.54 L664.41,577.95 L665.68,577.38 L666.95,576.83 L668.22,576.3" fill="none" stroke="#000000" stroke-width="3.0" stroke-linejoin="round" stroke-linecap="round" />
<path d="M415.5,589.39 L416.78,577.34 L418.05,566.07 L419.33,555.56 L420.61,545.77 L421.88,536.68 L423.16,528.27 L424.44,520.52 L425.71,513.39 L426.99,506.86 L428.26,500.91 L429.54,495.52 L430.82,490.65 L432.09,486.28 L433.37,482.39 L434.65,478.95 L435.92,475.94 L437.2,473.33 L438.48,471.1 L439.75,469.22 L441.03,467.67 L442.31,466.42 L443.58,465.44 L444.86,464.72 L446.14,464.22 L447.41,463.93 L448.69,463.82 L449.96,463.89 L451.24,464.15 L452.52,464.57 L453.79,465.16 L455.07,465.91 L456.35,466.82 L457.62,467.88 L458.9,469.08 L460.18,470.43 L461.45,471.92 L462.73,473.53 L464.01,475.28 L465.28,477.14 L466.56,479.13 L467.83,481.22 L469.11,483.42 L470.39,485.73 L471.66,488.13 L472.94,490.62 L474.22,493.2 L475.49,495.87 L476.77,498.61 L478.05,501.42 L479.32,504.3 L480.6,507.24 L481.88,510.24 L483.15,513.29 L484.43,516.39 L485.71,519.52 L486.98,522.69 L488.26,525.89 L489.53,529.11 L490.81,532.34 L492.09,535.59 L493.36,538.84 L494.64,542.09 L495.92,545.33 L497.19,548.56 L498.47,551.77 L499.75,554.96 L501.02,558.11 L502.3,561.23 L503.58,564.31 L504.85,567.34 L506.13,570.32 L507.41,573.24 L508.68,576.12 L509.96,578.95 L511.23,581.72 L512.51,584.44 L513.79,587.11 L515.06,589.73 L516.34,592.3 L517.62,594.81 L518.89,597.28 L520.17,599.69 L521.45,602.05 L522.72,604.35 L524,606.61 L525.28,608.81 L526.55,610.96 L527.83,613.06 L529.11,615.1 L530.38,617.1 L531.66,619.04 L532.93,620.92 L534.21,622.76 L535.49,624.54 L536.76,626.26 L538.04,627.94 L539.32,629.56 L540.59,631.13 L541.87,632.64 L543.15,634.1 L544.42,635.51 L545.7,636.87 L546.98,638.17 L548.25,639.41 L549.53,640.6 L550.81,641.74 L552.08,642.83 L553.36,643.86 L554.63,644.83 L555.91,645.75 L557.19,646.62 L558.46,647.43 L559.74,648.19 L561.02,648.89 L562.29,649.54 L563.57,650.14 L564.85,650.68 L566.12,651.16 L567.4,651.59 L568.68,651.96 L569.95,652.28 L571.23,652.54 L572.5,652.75 L573.78,652.9 L575.06,653 L576.33,653.04 L577.61,653.02 L578.89,652.95 L580.16,652.83 L581.44,652.64 L582.72,652.41 L583.99,652.12 L585.27,651.78 L586.55,651.4 L587.82,650.96 L589.1,650.48 L590.38,649.95 L591.65,649.37 L592.93,648.75 L594.2,648.09 L595.48,647.38 L596.76,646.64 L598.03,645.86 L599.31,645.04 L600.59,644.18 L601.86,643.28 L603.14,642.36 L604.42,641.4 L605.69,640.4 L606.97,639.38 L608.25,638.32 L609.52,637.24 L610.8,636.13 L612.08,635 L613.35,633.84 L614.63,632.65 L615.9,631.45 L617.18,630.22 L618.46,628.97 L619.73,627.71 L621.01,626.42 L622.29,625.12 L623.56,623.81 L624.84,622.48 L626.12,621.13 L627.39,619.78 L628.67,618.41 L629.95,617.04 L631.22,615.66 L632.5,614.27 L633.78,612.87 L635.05,611.47 L636.33,610.07 L637.6,608.66 L638.88,607.25 L640.16,605.85 L641.43,604.44 L642.71,603.04 L643.99,601.64 L645.26,600.25 L646.54,598.86 L647.82,597.48 L649.09,596.11 L650.37,594.74 L651.65,593.39 L652.92,592.05 L654.2,590.73 L655.47,589.41 L656.75,588.12 L658.03,586.84 L659.3,585.58 L660.58,584.34 L661.86,583.12 L663.13,581.92 L664.41,580.74 L665.69,579.59 L666.96,578.46 L668.24,577.36 L669.52,576.28" fill="none" stroke="#e9a93a" stroke-width="3.0" stroke-linejoin="round" stroke-linecap="round" />
</g>
<polygon points="512.5,513.5 511.1,525.5 516.4,543.2 536.1,546.9" fill="#ef4a4b" stroke="none" stroke-width="0" stroke-linejoin="round" />
<polygon points="512.5,513.5 529.5,518 536.1,546.9" fill="#d73d41" stroke="none" stroke-width="0" stroke-linejoin="round" />
<polygon points="529.5,518 536.1,546.9 549.7,538.8" fill="#d03a3e" stroke="none" stroke-width="0" stroke-linejoin="round" />
<polygon points="529.5,518 547.5,514.5 549.7,538.8" fill="#c63339" stroke="none" stroke-width="0" stroke-linejoin="round" />
<polygon points="513,501.1 531.1,496.1 548.8,501.9 547.5,514.5 529.5,518 512.5,513.5" fill="#c9353b" stroke="none" stroke-width="0" stroke-linejoin="round" />
<line x1="512.5" y1="513.5" x2="536.1" y2="546.9" stroke="#5a1010" stroke-width="0.7" opacity="0.45" stroke-linecap="round"/>
<line x1="529.5" y1="518" x2="536.1" y2="546.9" stroke="#5a1010" stroke-width="0.7" opacity="0.45" stroke-linecap="round"/>
<line x1="529.5" y1="518" x2="549.7" y2="538.8" stroke="#5a1010" stroke-width="0.7" opacity="0.45" stroke-linecap="round"/>
<line x1="512.5" y1="513.5" x2="529.5" y2="518" stroke="#5a1010" stroke-width="0.7" opacity="0.45" stroke-linecap="round"/>
<line x1="529.5" y1="518" x2="547.5" y2="514.5" stroke="#5a1010" stroke-width="0.7" opacity="0.45" stroke-linecap="round"/>
<path d="M531,483 L531,508.5" stroke="#1a1a1a" stroke-width="3" fill="none"/>
<path d="M523.4,500.2 L531,508.3 L538.6,500.2" stroke="#1a1a1a" stroke-width="3" fill="none" stroke-linejoin="miter"/>
<polygon points="563.2,513.5 561.8,525.5 567.1,543.2 586.8,546.9" fill="#f2f2f2" stroke="none" stroke-width="0" stroke-linejoin="round" />
<polygon points="563.2,513.5 580.2,518 586.8,546.9" fill="#d6d6d6" stroke="none" stroke-width="0" stroke-linejoin="round" />
<polygon points="580.2,518 586.8,546.9 600.4,538.8" fill="#cecece" stroke="none" stroke-width="0" stroke-linejoin="round" />
<polygon points="580.2,518 598.2,514.5 600.4,538.8" fill="#c8c8c8" stroke="none" stroke-width="0" stroke-linejoin="round" />
<polygon points="563.7,501.1 581.8,496.1 599.5,501.9 598.2,514.5 580.2,518 563.2,513.5" fill="#c4c4c4" stroke="none" stroke-width="0" stroke-linejoin="round" />
<line x1="563.2" y1="513.5" x2="586.8" y2="546.9" stroke="#555555" stroke-width="0.7" opacity="0.45" stroke-linecap="round"/>
<line x1="580.2" y1="518" x2="586.8" y2="546.9" stroke="#555555" stroke-width="0.7" opacity="0.45" stroke-linecap="round"/>
<line x1="580.2" y1="518" x2="600.4" y2="538.8" stroke="#555555" stroke-width="0.7" opacity="0.45" stroke-linecap="round"/>
<line x1="563.2" y1="513.5" x2="580.2" y2="518" stroke="#555555" stroke-width="0.7" opacity="0.45" stroke-linecap="round"/>
<line x1="580.2" y1="518" x2="598.2" y2="514.5" stroke="#555555" stroke-width="0.7" opacity="0.45" stroke-linecap="round"/>
<path d="M581.7,483 L581.7,508.5" stroke="#1a1a1a" stroke-width="3" fill="none"/>
<path d="M574.1,500.2 L581.7,508.3 L589.3,500.2" stroke="#1a1a1a" stroke-width="3" fill="none" stroke-linejoin="miter"/>
<polygon points="615.8,513.5 614.4,525.5 619.7,543.2 639.4,546.9" fill="#e8f046" stroke="none" stroke-width="0" stroke-linejoin="round" />
<polygon points="615.8,513.5 632.8,518 639.4,546.9" fill="#cbd742" stroke="none" stroke-width="0" stroke-linejoin="round" />
<polygon points="632.8,518 639.4,546.9 653,538.8" fill="#c2ce3c" stroke="none" stroke-width="0" stroke-linejoin="round" />
<polygon points="632.8,518 650.8,514.5 653,538.8" fill="#bcc83a" stroke="none" stroke-width="0" stroke-linejoin="round" />
<polygon points="616.3,501.1 634.4,496.1 652.1,501.9 650.8,514.5 632.8,518 615.8,513.5" fill="#c6d23e" stroke="none" stroke-width="0" stroke-linejoin="round" />
<line x1="615.8" y1="513.5" x2="639.4" y2="546.9" stroke="#4a5010" stroke-width="0.7" opacity="0.45" stroke-linecap="round"/>
<line x1="632.8" y1="518" x2="639.4" y2="546.9" stroke="#4a5010" stroke-width="0.7" opacity="0.45" stroke-linecap="round"/>
<line x1="632.8" y1="518" x2="653" y2="538.8" stroke="#4a5010" stroke-width="0.7" opacity="0.45" stroke-linecap="round"/>
<line x1="615.8" y1="513.5" x2="632.8" y2="518" stroke="#4a5010" stroke-width="0.7" opacity="0.45" stroke-linecap="round"/>
<line x1="632.8" y1="518" x2="650.8" y2="514.5" stroke="#4a5010" stroke-width="0.7" opacity="0.45" stroke-linecap="round"/>
<path d="M634.3,483 L634.3,508.5" stroke="#1a1a1a" stroke-width="3" fill="none"/>
<path d="M626.7,500.2 L634.3,508.3 L641.9,500.2" stroke="#1a1a1a" stroke-width="3" fill="none" stroke-linejoin="miter"/>
<line x1="520.2" y1="554.9" x2="541.9" y2="554.9" stroke="#e8261e" stroke-width="3" />
<line x1="572.3" y1="554.9" x2="593.8" y2="554.9" stroke="#000" stroke-width="3" />
<line x1="624.1" y1="554.9" x2="645.9" y2="554.9" stroke="#e9a93a" stroke-width="3" />
</svg></body></html>
